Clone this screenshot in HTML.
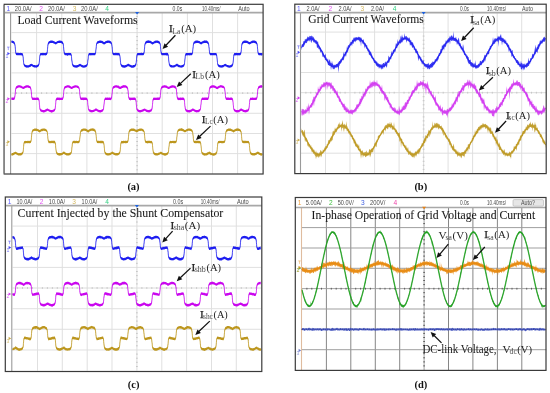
<!DOCTYPE html>
<html><head><meta charset="utf-8"><title>Waveforms</title>
<style>html,body{margin:0;padding:0;background:#fff;width:550px;height:393px;overflow:hidden}</style>
</head><body>
<svg width="550" height="393" viewBox="0 0 550 393" style="display:block">
<rect width="550" height="393" fill="#fff"/>
<line x1="36.6" y1="12.4" x2="36.6" y2="173.8" stroke="#dedede" stroke-width="0.95"/>
<line x1="61.8" y1="12.4" x2="61.8" y2="173.8" stroke="#dedede" stroke-width="0.95"/>
<line x1="86.9" y1="12.4" x2="86.9" y2="173.8" stroke="#dedede" stroke-width="0.95"/>
<line x1="112" y1="12.4" x2="112" y2="173.8" stroke="#dedede" stroke-width="0.95"/>
<line x1="162.2" y1="12.4" x2="162.2" y2="173.8" stroke="#dedede" stroke-width="0.95"/>
<line x1="187.4" y1="12.4" x2="187.4" y2="173.8" stroke="#dedede" stroke-width="0.95"/>
<line x1="212.5" y1="12.4" x2="212.5" y2="173.8" stroke="#dedede" stroke-width="0.95"/>
<line x1="237.6" y1="12.4" x2="237.6" y2="173.8" stroke="#dedede" stroke-width="0.95"/>
<line x1="11.5" y1="32.6" x2="262.8" y2="32.6" stroke="#dedede" stroke-width="0.95"/>
<line x1="11.5" y1="52.8" x2="262.8" y2="52.8" stroke="#dedede" stroke-width="0.95"/>
<line x1="11.5" y1="72.9" x2="262.8" y2="72.9" stroke="#dedede" stroke-width="0.95"/>
<line x1="11.5" y1="113.3" x2="262.8" y2="113.3" stroke="#dedede" stroke-width="0.95"/>
<line x1="11.5" y1="133.5" x2="262.8" y2="133.5" stroke="#dedede" stroke-width="0.95"/>
<line x1="11.5" y1="153.6" x2="262.8" y2="153.6" stroke="#dedede" stroke-width="0.95"/>
<line x1="137.1" y1="12.4" x2="137.1" y2="173.8" stroke="#d8d8d8" stroke-width="0.9"/>
<line x1="11.5" y1="93.1" x2="262.8" y2="93.1" stroke="#d8d8d8" stroke-width="0.9"/>
<path d="M16.5 92.2v1.8M21.6 92.2v1.8M26.6 92.2v1.8M31.6 92.2v1.8M41.6 92.2v1.8M46.7 92.2v1.8M51.7 92.2v1.8M56.7 92.2v1.8M66.8 92.2v1.8M71.8 92.2v1.8M76.8 92.2v1.8M81.8 92.2v1.8M91.9 92.2v1.8M96.9 92.2v1.8M102 92.2v1.8M107 92.2v1.8M117 92.2v1.8M122 92.2v1.8M127.1 92.2v1.8M132.1 92.2v1.8M142.2 92.2v1.8M147.2 92.2v1.8M152.2 92.2v1.8M157.2 92.2v1.8M167.3 92.2v1.8M172.3 92.2v1.8M177.3 92.2v1.8M182.3 92.2v1.8M192.4 92.2v1.8M197.4 92.2v1.8M202.4 92.2v1.8M207.5 92.2v1.8M217.5 92.2v1.8M222.6 92.2v1.8M227.6 92.2v1.8M232.6 92.2v1.8M242.7 92.2v1.8M247.7 92.2v1.8M252.7 92.2v1.8M257.7 92.2v1.8M136.2 16.4h1.8M136.2 20.5h1.8M136.2 24.5h1.8M136.2 28.5h1.8M136.2 36.6h1.8M136.2 40.6h1.8M136.2 44.7h1.8M136.2 48.7h1.8M136.2 56.8h1.8M136.2 60.8h1.8M136.2 64.9h1.8M136.2 68.9h1.8M136.2 77h1.8M136.2 81h1.8M136.2 85h1.8M136.2 89.1h1.8M136.2 97.1h1.8M136.2 101.2h1.8M136.2 105.2h1.8M136.2 109.2h1.8M136.2 117.3h1.8M136.2 121.3h1.8M136.2 125.4h1.8M136.2 129.4h1.8M136.2 137.5h1.8M136.2 141.5h1.8M136.2 145.6h1.8M136.2 149.6h1.8M136.2 157.7h1.8M136.2 161.7h1.8M136.2 165.7h1.8M136.2 169.8h1.8" stroke="#c4c4c4" stroke-width="0.9" fill="none"/>
<text x="17.4" y="24.4" fill="#1a1a1a" stroke="#1a1a1a" stroke-width="0.08" font-family="Liberation Serif, Times New Roman, serif" font-size="11.8" textLength="120.3" lengthAdjust="spacingAndGlyphs">Load Current Waveforms</text>
<path d="M11.5 40.6l.6 0 .6 .2 .6 .3 .6 .2 .1 0 .2 .4 .2 .1 .1 .3 .1 .3 .2 .6 .2 1 .1 1.3 .2 1.6 .1 1.2 .2 1.7 .1 1.3 .2 .8 .1 .3 .2 .4 .1 .1 .1 .2 .2 0 .1 0 .2 0 .1-.1 .6-.1 .6 .2 .6-.1 .6 .1 .6 .1 .7-.2 .6 .1 .6 0 .1 0 .2 0 .1 .1 .1 .2 .2 .1 .1 .4 .2 .4 .1 1.2 .2 1.5 .1 2 .2 1 .1 1.5 .2 1.2 .1 .8 .2 .4 .1 .3 .2 .1 .1 .2 .2 0 .1 .2 .2-.1 .6 .6 .6 .1 .6 .2 .6 0 .6 0 .6-.1 .6-.3 .6-.3 .6-.5 .6-.1 .6-.2 .6 .3 .6 .4 .6 .4 .6 0 .6 .1 .6 .3 .6 0 .6-.1 .6-.2 .6-.2 .6-.4 .2-.2 .1-.1 .1-.1 .2-.3 .1-.5 .2-.7 .1-1.1 .2-1.7 .1-1 .2-1.8 .1-1.6 .2-1.1 .1-.5 .2-.4 .1-.2 .2-.2 .1 .1 .2 0 .1 0 .2 0 .6-.1 .6 0 .6-.1 .6 .2 .6 0 .6 0 .6-.1 .6-.1 .6-.2 .1 .1 .2-.4 .1-.4 .2-.8 .1-1.2 .2-1.8 .1-1.2 .2-1.7 .1-1.2 .2-1.1 .1-.5 .2-.3 .1-.3 .2-.2 .1-.2 .2 0 .1-.1 .2-.2 .6-.2 .6-.5 .6 .1 .6-.1 .6 0 .6 .4 .6 .1 .6 .4 .6 .2 .6 .5 .6 .1 .6-.3 .6-.6 .6-.2 .6-.2 .6-.1 .6-.3 .6 .2 .6 .1 .6 .1 .6 .3 .6 .3 .1 .2 .2 .2 .1 .2 .2 .4 .1 .5 .2 1 .1 1.4 .2 1.6 .1 1.2 .2 1.5 .1 1.4 .2 .9 .1 .3 .2 .4 .2 .2 .1-.1 .2 .1 .1 .1 .2 0 .6 0 .6 .1 .6-.1 .6 .1 .6 0 .5-.2 .6 .2 .6-.1 .6 .2 .2 0 .1 0 .2 .4 .2 .8 .1 .9 .1 1.6 .2 2 .2 1 .1 1.3 .2 1.2 .1 .6 .2 .8 .1 .3 .2 0 .1 .2 .2 .3 .1 .1 .2-.2 .6 .5 .6 .3 .6 .1 .6 0 .6-.1 .6-.1 .6-.1 .6-.3 .6-.4 .6-.4 .6-.1 .5 .2 .6 .4 .6 .3 .6 .2 .6 .4 .6 .1 .6-.1 .6-.1 .6-.1 .6-.3 .6-.5 .2 0 .1-.2 .2-.3 .1-.1 .2-.6 .1-.6 .2-1.2 .1-1.5 .2-1.1 .2-1.8 .1-1.5 .2-1.2 .1-.5 .2-.6 .1 .1 .2-.1 .1-.1 .2 0 .1 0 .2-.1 .6 0 .6 .1 .6-.1 .6 0 .6 0 .6 0 .6 0 .6 0 .1-.2 .2 .2 .1 0 .2-.2 .1 0 .2-.2 .1-.6 .2-1 .1-1 .2-1.8 .1-1.1 .2-1.8 .1-1.2 .2-1 .1-.6 .2-.5 .1-.2 .2-.1 .1-.3 .2 .1 .1-.3 .2 .1 .6-.2 .6-.3 .6-.1 .6-.1 .6 .1 .6 .1 .6 .1 .6 .3 .6 .5 .6 .3 .6 .2 .6-.4 .6-.6 .6-.1 .6-.2 .6-.2 .6 0 .6 0 .6 0 .6 .2 .6 .3 .6 .4 .1 .1 .2 .2 .1 .1 .2 .5 .1 .6 .2 .8 .1 1.5 .2 1.5 .1 1.2 .2 1.9 .1 1.1 .2 1 .1 .5 .2 .2 .1 .1 .2 0 .1 0 .2 0 .1 .1 .6 .1 .6 0 .6-.2 .6 0 .6 .1 .6 0 .6-.1 .6 .2 .6-.1 .2 .2 .1 .2 .2 .4 .1 .5 .2 1.1 .1 1.5 .2 1.7 .1 1.3 .2 1.6 .1 1.1 .2 .6 .1 .5 .2 .4 .1 .2 .2 .2 .1 0 .2 .1 .1 .1 .6 .4 .6 0 .6 .3 .6 0 .6-.1 .6-.1 .6-.2 .6-.3 .6-.4 .6-.4 .6 0 .6 .2 .6 .4 .6 .4 .6 .3 .6 .1 .6 .1 .6 .1 .6-.4 .6 0 .6-.1 .6-.6 .2 .1 .1-.3 .2-.2 .1-.4 .2-.4 .1-.6 .2-1.2 .1-1.5 .2-1.2 .1-1.8 .2-1.5 .1-1.1 .2-.7 .1-.3 .2 0 .1-.1 .2-.1 .1-.1 .2 0 .1 0 .6 .1 .6-.1 .6 0 .6 0 .6-.1 .6 0 .6 .1 .6 0 .2 0 .1 0 .2-.1 .1 0 .2-.4 .1 .1 .2-.7 .1-.6 .2-1.4 .1-1.6 .2-1.3 .1-1.8 .2-1.3 .1-.8 .2-.8 .1-.2 .2-.4 .1 0 .2-.3 .1 .1 .2-.7 .1 .4 .6-.3 .6-.2 .6 0 .6-.3 .6 .3 .6 .2 .6 0 .6 .2 .6 .6 .6 .4 .6-.1 .6-.2 .6-.3 .6-.5 .6-.3 .6 .1 .6-.2 .6 .1 .6 0 .6 .2 .6 .3 .6 .2 .2 .3 .1 .2 .2 .2 .1 .3 .2 .6 .1 .9 .2 1.5 .1 1.6 .2 1.2 .1 1.7 .2 1.3 .1 .9 .2 .2 .1 .4 .2 0 .1 .2 .2 0 .1 .2 .2-.1 .6 0 .6 0 .6 .1 .6 0 .6-.1 .6-.2 .6 .1 .6 .2 .6-.2 .1 .2 .2 .2 .1 .4 .2 .7 .1 .8 .2 1.7 .1 2 .2 1 .1 1.6 .2 1.1 .1 .7 .2 .4 .1 .3 .2 .2 .1 .2 .2 .1 .1 .2 .2-.1 .6 .5 .6 .1 .6 .2 .6 .1 .6-.1 .6-.1 .6-.3 .6-.2 .6-.4 .6-.3 .6-.4 .6 .3 .6 .6 .6 .3 .6 .3 .6 .1 .6 .2 .6-.1 .6 0 .6-.2 .6-.3 .6-.4 .1-.2 .2-.1 .1-.1 .2-.4 .1-.4 .2-.8 .1-1 .2-1.7 .1-.9 .2-2.1 .1-1.4 .2-1.1 .1-.6 .2-.2 .1-.3 .2-.2 .1 .1 .2 0 .1-.1 .2 0 .6 0 .6 .1 .6-.1 .6 0 .6 .1 .6-.2 .6 .1 .6-.1 .1 .2 .2-.3 .1 .2 .2-.2 .1-.2 .2-.3 .1-.2 .2-.9 .1-1.2 .2-1.9 .1-1.1 .2-1.6 .1-1.4 .2-.9 .1-.9 .2-.3 .1 0 .2-.3 .1 0 .2-.1 .1-.1 .2-.1 .6-.5 .6-.1 .6 0 .6 0 .6 0 .6 .2 .6 .2 .6 .1 .6 .5 .6 .4 .6 0 .6-.5 .6-.2 .6-.4 .6-.1 .6-.2 .6-.3 .6 .3 .6 .1 .6-.4 .6 .8 .6 .4 .1 .1 .2 .1 .1 .3 .2 .4 .1 .5 .2 .8 .1 1.6 .2 1.7 .1 1.1 .2 1.8 .1 1.2 .2 .9 .1 .3 .2 .3 .1 .2 .2 .1 .1 .1 .2 0 .1-.1 .6 .1 .6-.1 .6 .1 .6 0 .6 0 .6-.1 .6 0 .6 .1 .6-.1 .2 .2 .1 .2 .2 .3 .1 .7 .2 .9 .1 1.6 .2 2 .1 1 .2 1.5 .1 1.1 .2 .8 .1 .4 .2 .4 .1 .2 .2 .1 .1 .1 .2 .2 .1 0 .6 .4 .6 .1 .6 .2 .6-.1 .6 .1 .6-.3 .6 0 .6-.3 .6-.4 .6-.4 .6-.1 .6 .4 .6 .3 .6 .4 .6 .2 .6 .2 .6 0 .6 .1 .6-.2 .6-.1 .6-.5 .6-.1 .2-.3 .1-.2 .2 0 .1-.5 .2-.3 .1-.7 .2-1.2 .1-1.6 .2-1 .1-1.8 .2-1.6 .1-1 .2-.6 .1-.5 .2 0 .1-.5 .2 .2 .1-.1 .2 .2 .1 0 .6 0 .6-.2 .6 .1 .6 0 .6 .1 .6-.1 .6 0 .6 0 .2 0 .1 0 .2-.1 .1-.3 .2 0 .1-.2 .2-.3 .1-.9 .2-1.2 .1-2 .2-1 .1-1.7 .2-1.3 .1-1 .2-.6 .1-.4 .2-.2 .1-.2 .2-.1 .1 0 .2-.2 .1 0 .6-.5 .6-.1 .6-.1 .6 0 .6 .1 .6 .1 .6 .1 .6 .5 .6 .2 .6 .5 .6-.1 .6-.2 .6-.3 .6-.4 .6-.3 .6-.3 .6 .1 .6 0 .6 .1 .6 .1 .6 .3 .6 .5 .2 .1 .1 .2 .2 0 .1 .6 .2 .5 .1 1 .2 1.2 .1 1.9 .2 1.1 .1 1.7 .2 1.3 .1 .8 .2 .5 .1 .3 .2 .1 .1 .1 .1-.2 .2 .2 .1 0 .2 0 .6 .1 .6-.1 .6 0 .6 0 .6-.1 0 2.6-.6 0-.6 0-.6-.1-.6-.1-.6 .1-.2 .1-.1-.1-.2 0-.1-.1-.1-.1-.2-.1-.1-.3-.2-.4-.1-.8-.2-1.3-.1-1.8-.2-1.1-.1-1.7-.2-1.3-.1-1-.2-.6-.1-.2-.2-.4-.1-.2-.2 0-.6-.4-.6-.2-.6-.2-.6-.2-.6-.1-.6 .1-.6 .3-.6 .1-.6 .4-.6 .4-.6 .3-.6-.1-.6-.4-.6-.4-.6-.2-.6-.3-.6 0-.6 0-.6-.1-.6 .1-.6 .3-.6 .3-.1 0-.2 .1-.1 .1-.2 .8-.1-.4-.2 .5-.1 0-.2 .6-.1 1.3-.2 1-.1 1.7-.2 1.1-.1 1.8-.2 1.3-.1 .7-.2 .6-.1 .2-.2 .1-.1 .1-.2 0-.1 .1-.2 .1-.6-.2-.6 .1-.6 .1-.6-.1-.6-.1-.6 0-.6 .2-.6-.2-.1 .1-.2-.1-.1 .2-.2 0-.1 .3-.2-.1-.1 .5-.2 .5-.1 1.1-.2 1.5-.1 1.9-.2 1.1-.1 1.5-.2 1-.1 1-.2 .5-.1 .1-.2 .2-.1 .3-.2 0-.6 .4-.6 .3-.6 0-.6 .3-.6-.1-.6-.1-.6-.1-.6-.4-.6-.3-.6-.4-.6-.2-.6 .1-.6 .3-.6 .5-.6 .3-.6 .1-.6 .1-.6 .1-.6-.1-.6-.2-.6-.2-.6-.1-.1-.2-.2-.1-.1-.2-.2-.1-.1-.2-.2-.2-.1-.4-.2-.9-.1-1.2-.2-1.5-.1-1-.2-2-.1-1.3-.2-1.1-.1-.7-.2 0-.1-.3-.2-.4-.6 0-.6-.1-.6 0-.6 0-.6 .1-.6-.1-.6 0-.6 .1-.6-.1-.1 0-.2 0-.1 0-.2 0-.1-.2-.2-.2-.1-.5-.2-.8-.1-1.4-.2-1.6-.1-1.2-.2-1.7-.1-1.3-.2-.9-.1-.6-.2-.3-.1-.3-.2-.3-.1 0-.6-.3-.6-.5-.6-.1-.6-.1-.6 0-.6 .1-.6 .1-.6 .4-.6 .1-.6 .5-.6 .4-.6-.2-.6-.4-.6-.3-.6-.3-.6-.2-.6-.2-.6 0-.6 .1-.6 .2-.6 .1-.6 .3-.2 0-.1 .2-.2 .1-.1 .1-.2 .1-.1 .3-.2 .3-.1 .6-.2 .9-.1 1.4-.2 1.7-.1 1.2-.2 1.7-.1 1.4-.2 .8-.1 .4-.2 .2-.1 .1-.2 .2-.1 0-.2 0-.1-.1-.6 0-.6 0-.6 .2-.6-.1-.6 0-.6 0-.6 .2-.6 0-.2-.1-.1-.1-.2 .1-.1 0-.2 .2-.1 .2-.2 .2-.1 .6-.2 1-.1 1.6-.2 1.9-.1 1-.2 1.6-.1 1.2-.2 .7-.1 .5-.2 .3-.1 .1-.2 .2-.1 0-.6 .4-.6 .3-.6 .1-.6 .2-.6-.1-.6-.1-.6-.2-.6-.1-.6-.3-.6-.5-.6-.2-.6 .1-.6 .3-.6 .5-.6 .1-.6 .3-.6 .1-.6 0-.6 0-.6-.1-.6 0-.6-.6-.2 0-.1 0-.2-.3-.1-.1-.2-.2-.1-.2-.2-.5-.1-.8-.2-1.2-.1-1.3-.2-1.2-.1-1.9-.2-1.6-.1-1-.2-.6-.1-.4-.2-.1-.1-.1-.6 .1-.6-.1-.6-.1-.6 0-.6 0-.6 0-.6-.1-.6 .1-.6 0-.2 0-.1 0-.2-.1-.1 0-.2-.1-.1-.3-.2-.5-.1-.8-.2-1.4-.1-1.5-.2-1.2-.1-1.9-.2-1.2-.1-1-.2-.6-.1-.3-.2-.3-.1-.1-.2-.2-.6-.4-.6-.1-.6-.2-.6-.2-.6-.1-.6 .1-.6 .3-.6 .1-.6 .5-.6 .2-.6 .4-.6 0-.6-.5-.6-.3-.6-.3-.6-.2-.6-.1-.6-.1-.6 0-.6 .1-.6 .3-.6 .2-.1 .1-.2 .1-.1 .1-.2 .2-.1 .2-.2 .1-.1 .5-.2 .5-.1 1-.2 1.3-.1 2-.2 .9-.1 1.7-.2 1.4-.1 .6-.2 .6-.1 .3-.2 0-.1 .1-.2 0-.1 .1-.2 0-.6 0-.6-.1-.6 .1-.6-.1-.6 .1-.6-.1-.6 0-.6 .1-.1 0-.2 0-.1 0-.2 .1-.1 .2-.2 .1-.1 .3-.2 .6-.1 1.1-.2 1.4-.1 2.1-.2 .9-.1 1.5-.2 1.2-.1 .8-.2 .4-.1 .3-.2 .2-.1 .3-.2-.1-.6 .5-.6 .3-.6 .3-.6-.1-.6 0-.6 0-.6-.3-.6-.3-.6-.3-.6-.4-.6-.2-.6 .1-.6 .3-.6 .4-.6 .2-.6 .3-.6 .2-.6 .1-.6-.1-.6-.1-.6-.2-.6-.5-.1 .1-.2-.3-.1 .1-.2-.3-.1-.1-.2-.3-.1-.6-.2-.6-.1-1.2-.2-1.6-.1-1-.2-1.9-.1-1.6-.2-1-.1-.5-.2-.4-.1-.3-.2 0-.6-.1-.6 .1-.6-.1-.6-.1-.6 .1-.6 0-.6-.1-.6 0-.6 0-.1 .1-.2-.1-.1-.1-.2 .1-.1-.3-.2 0-.1-.4-.2-.8-.1-1.5-.2-1.8-.1-1-.2-1.8-.1-1.3-.2-1-.1-.5-.2-.5-.1-.3-.2 0-.1 0-.6-.5-.6-.3-.6-.1-.6-.3-.6 .1-.6 .1-.6 .1-.6 .2-.6 .5-.6 .2-.6 .4-.6 .1-.6-.6-.6-.1-.6-.5-.6-.2-.6-.2-.6 .1-.6-.1-.6 .1-.6 .5-.6 .1-.2 .2-.1-.1-.2 .1-.1 .1-.2 .3-.1 .2-.2 .3-.1 .8-.2 .7-.1 1.4-.2 1.9-.1 1-.2 1.7-.1 1.2-.2 .8-.1 .5-.2 .3-.1 .2-.2 0-.1 0-.2 .1-.1-.1-.6 .1-.6 0-.6-.1-.6 .1-.6 0-.6 .1-.6-.1-.6-.1-.2 0-.1 .3-.2-.2-.1 .2-.2 .1-.1 0-.2 .5-.1 .5-.2 1.1-.1 1.5-.2 1.9-.2 1-.1 1.6-.2 1.1-.1 .7-.2 .5-.1 .3-.2 .2-.1 .2-.2 .1-.6 .3-.6 .5-.6-.1-.6 .2-.6 0-.6-.1-.6-.2-.6-.1-.6-.5-.6-.4-.5-.4-.6 .4-.6 .3-.6 .4-.6 .3-.6 .1-.6 .2-.6 0-.6-.1-.6-.2-.6-.1-.6-.4-.2-.1-.1-.1-.2 0-.1-.3-.2-.1-.1-.2-.2-.6-.1-.8-.2-.9-.1-1.7-.2-1-.2-1.9-.1-1.6-.1-1-.2-.6-.2-.3-.1-.1-.2-.2-.6-.1-.6 0-.6 0-.5 0-.6 .1-.6 .5-.6-.6-.6-.1-.6 .1-.2 0-.1 0-.2-.1-.1-.1-.2-.2-.2-.2-.1-.4-.2-.8-.1-1.4-.2-1.7-.1-.9-.2-1.8-.1-1-.2-1.4-.1-.6-.2-.4-.1-.2-.2-.2-.1 0-.6-.5-.6-.2-.6-.3-.6 0-.6 0-.6 0-.6 .2-.6 .2-.6 .3-.6 .5-.6 .3-.6-.1-.6-.4-.6-.3-.6-.1-.6-.4-.6-.2-.6 0-.6 0-.6 .1-.6 .3-.6 .3-.2 .2-.1-.1-.2 .2-.1 0-.2 .3-.1 .2-.2 .4-.1 .6-.2 .9-.1 1.3-.2 1.7-.1 1.2-.2 1.7-.1 1.2-.2 .9-.1 .5-.2 .3-.1 0-.6 .1-.6 .2-.6-.1-.6-.1-.6 .1-.6 .1-.6-.2-.6 .1-.6 0-.2 0-.1 0-.2 0-.1 .1-.2 .2-.1 0-.2 .4-.1 .7-.2 1-.1 1.5-.2 2-.1 .9-.2 1.7-.1 1-.2 .9-.1 .3-.2 .3-.1 .1-.1 .2-.2 .1-.6 .4-.6 .3-.6 .3-.6-.1-.6 0-.6-.1-.6-.1-.6-.3-.6-.3-.6-.3-.6-.5-.6 .3-.6 .7-.6-.1-.6 .3-.6 .2-.6 .4-.6-.2-.6 .1-.6-.1-.6-.3-.6-.4-.2-.1-.1 0-.2-.2-.1-.1-.2-.2-.1-.2-.2-.5-.1-.8-.2-1.2-.1-1.4-.2-1.1-.1-1.8-.2-1.6-.1-1.1-.2-.6-.1-.3-.2-.2-.1-.1-.1 0-.2-.2-.1 0-.6 .2-.6-.1-.7-.1-.6 0-.6 .1-.6-.1-.6 .1-.6-.1-.1 .1-.2-.1-.1 .1-.2-.2-.1 0-.1-.1-.2-.3-.1-.3-.2-.9-.1-1.3-.2-1.8-.1-1.2-.2-1.6-.1-1.3-.2-1-.2-.6-.1-.3-.1-.3-.2-.2-.2-.1-.1-.1-.6-.3-.6-.3-.6-.1-.6-.2z" fill="#1818f0" opacity="0.95"/>
<path d="M11.5 41.7l.6 .1 .6 .2 .6 .2 .6 .3 .1 .1 .2 .2 .2 .1 .1 .3 .1 .4 .2 .5 .2 1 .1 1.3 .2 1.7 .1 1.2 .2 1.7 .1 1.3 .2 .8 .1 .5 .2 .2 .1 .2 .1 0 .2 .1 .1 0 .2 0 .1 0 .6 0 .6 0 .6 0 .6 0 .6 0 .7 0 .6 0 .6 0 .1 0 .2 .1 .1 0 .1 .1 .2 .2 .1 .3 .2 .6 .1 1.1 .2 1.5 .1 2 .2 1 .1 1.5 .2 1.1 .1 .8 .2 .4 .1 .3 .2 .2 .1 .2 .2 .1 .1 .1 .2 .1 .6 .3 .6 .2 .6 .2 .6 0 .6 0 .6-.2 .6-.2 .6-.3 .6-.3 .6-.4 .6-.2 .6 .4 .6 .4 .6 .3 .6 .2 .6 .2 .6 .1 .6 0 .6-.1 .6-.2 .6-.2 .6-.4 .2-.1 .1-.2 .1-.2 .2-.3 .1-.4 .2-.8 .1-1.1 .2-1.5 .1-1 .2-2 .1-1.5 .2-1.1 .1-.6 .2-.3 .1-.2 .2-.1 .1 0 .2-.1 .1 0 .2 0 .6 0 .6 0 .6 0 .6 0 .6 0 .6 0 .6 0 .6 0 .6-.1 .1-.2 .2-.2 .1-.5 .2-.8 .1-1.3 .2-1.7 .1-1.2 .2-1.7 .1-1.3 .2-1 .1-.5 .2-.4 .1-.3 .2-.1 .1-.2 .2-.1 .1-.1 .2 0 .6-.3 .6-.2 .6-.2 .6 0 .6 .1 .6 .1 .6 .2 .6 .3 .6 .4 .6 .4 .6 .1 .6-.4 .6-.4 .6-.3 .6-.2 .6-.2 .6-.1 .6 0 .6 .1 .6 .2 .6 .3 .6 .3 .1 .2 .2 .1 .1 .3 .2 .4 .1 .5 .2 1 .1 1.3 .2 1.7 .1 1.2 .2 1.7 .1 1.3 .2 .8 .1 .5 .2 .2 .2 .2 .1 0 .2 .1 .1 0 .2 0 .6 0 .6 0 .6 0 .6 0 .6 0 .5 0 .6 0 .6 0 .6 .1 .2 .1 .1 .2 .2 .3 .2 .6 .1 1.1 .1 1.5 .2 2 .2 1 .1 1.5 .2 1.1 .1 .8 .2 .4 .1 .3 .2 .2 .1 .2 .2 .1 .1 .1 .2 .1 .6 .3 .6 .2 .6 .2 .6 0 .6 0 .6-.2 .6-.2 .6-.3 .6-.3 .6-.4 .6-.2 .5 .4 .6 .4 .6 .3 .6 .2 .6 .2 .6 .1 .6 0 .6-.1 .6-.2 .6-.2 .6-.4 .2-.1 .1-.2 .2-.2 .1-.3 .2-.4 .1-.8 .2-1.1 .1-1.5 .2-1 .2-2 .1-1.5 .2-1.1 .1-.6 .2-.3 .1-.2 .2-.1 .1 0 .2-.1 .1 0 .2 0 .6 0 .6 0 .6 0 .6 0 .6 0 .6 0 .6 0 .6 0 .1 0 .2 0 .1-.1 .2 0 .1-.2 .2-.2 .1-.5 .2-.8 .1-1.3 .2-1.7 .1-1.2 .2-1.7 .1-1.3 .2-1 .1-.5 .2-.4 .1-.3 .2-.1 .1-.2 .2-.1 .1-.1 .2 0 .6-.3 .6-.2 .6-.2 .6 0 .6 .1 .6 .1 .6 .2 .6 .3 .6 .4 .6 .4 .6 .1 .6-.4 .6-.4 .6-.3 .6-.2 .6-.2 .6-.1 .6 0 .6 .1 .6 .2 .6 .3 .6 .3 .1 .2 .2 .1 .1 .3 .2 .4 .1 .5 .2 1 .1 1.3 .2 1.7 .1 1.2 .2 1.7 .1 1.3 .2 .8 .1 .5 .2 .2 .1 .2 .2 0 .1 .1 .2 0 .1 0 .6 0 .6 0 .6 0 .6 0 .6 0 .6 0 .6 0 .6 0 .6 .1 .2 .1 .1 .2 .2 .3 .1 .6 .2 1.1 .1 1.5 .2 2 .1 1 .2 1.5 .1 1.1 .2 .8 .1 .4 .2 .3 .1 .2 .2 .2 .1 .1 .2 .1 .1 .1 .6 .3 .6 .2 .6 .2 .6 0 .6 0 .6-.2 .6-.2 .6-.3 .6-.3 .6-.4 .6-.2 .6 .4 .6 .4 .6 .3 .6 .2 .6 .2 .6 .1 .6 0 .6-.1 .6-.2 .6-.2 .6-.4 .2-.1 .1-.2 .2-.2 .1-.3 .2-.4 .1-.8 .2-1.1 .1-1.5 .2-1 .1-2 .2-1.5 .1-1.1 .2-.6 .1-.3 .2-.2 .1-.1 .2 0 .1-.1 .2 0 .1 0 .6 0 .6 0 .6 0 .6 0 .6 0 .6 0 .6 0 .6 0 .2 0 .1 0 .2-.1 .1 0 .2-.2 .1-.2 .2-.5 .1-.8 .2-1.3 .1-1.7 .2-1.2 .1-1.7 .2-1.3 .1-1 .2-.5 .1-.4 .2-.3 .1-.1 .2-.2 .1-.1 .2-.1 .1 0 .6-.3 .6-.2 .6-.2 .6 0 .6 .1 .6 .1 .6 .2 .6 .3 .6 .4 .6 .4 .6 .1 .6-.4 .6-.4 .6-.3 .6-.2 .6-.2 .6-.1 .6 0 .6 .1 .6 .2 .6 .3 .6 .3 .2 .2 .1 .1 .2 .3 .1 .4 .2 .5 .1 1 .2 1.3 .1 1.7 .2 1.2 .1 1.7 .2 1.3 .1 .8 .2 .5 .1 .2 .2 .2 .1 0 .2 .1 .1 0 .2 0 .6 0 .6 0 .6 0 .6 0 .6 0 .6 0 .6 0 .6 0 .6 .1 .1 .1 .2 .2 .1 .3 .2 .6 .1 1.1 .2 1.5 .1 2 .2 1 .1 1.5 .2 1.1 .1 .8 .2 .4 .1 .3 .2 .2 .1 .2 .2 .1 .1 .1 .2 .1 .6 .3 .6 .2 .6 .2 .6 0 .6 0 .6-.2 .6-.2 .6-.3 .6-.3 .6-.4 .6-.2 .6 .4 .6 .4 .6 .3 .6 .2 .6 .2 .6 .1 .6 0 .6-.1 .6-.2 .6-.2 .6-.4 .1-.1 .2-.2 .1-.2 .2-.3 .1-.4 .2-.8 .1-1.1 .2-1.5 .1-1 .2-2 .1-1.5 .2-1.1 .1-.6 .2-.3 .1-.2 .2-.1 .1 0 .2-.1 .1 0 .2 0 .6 0 .6 0 .6 0 .6 0 .6 0 .6 0 .6 0 .6 0 .1 0 .2 0 .1-.1 .2 0 .1-.2 .2-.2 .1-.5 .2-.8 .1-1.3 .2-1.7 .1-1.2 .2-1.7 .1-1.3 .2-1 .1-.5 .2-.4 .1-.3 .2-.1 .1-.2 .2-.1 .1-.1 .2 0 .6-.3 .6-.2 .6-.2 .6 0 .6 .1 .6 .1 .6 .2 .6 .3 .6 .4 .6 .4 .6 .1 .6-.4 .6-.4 .6-.3 .6-.2 .6-.2 .6-.1 .6 0 .6 .1 .6 .2 .6 .3 .6 .3 .1 .2 .2 .1 .1 .3 .2 .4 .1 .5 .2 1 .1 1.3 .2 1.7 .1 1.2 .2 1.7 .1 1.3 .2 .8 .1 .5 .2 .2 .1 .2 .2 0 .1 .1 .2 0 .1 0 .6 0 .6 0 .6 0 .6 0 .6 0 .6 0 .6 0 .6 0 .6 .1 .2 .1 .1 .2 .2 .3 .1 .6 .2 1.1 .1 1.5 .2 2 .1 1 .2 1.5 .1 1.1 .2 .8 .1 .4 .2 .3 .1 .2 .2 .2 .1 .1 .2 .1 .1 .1 .6 .3 .6 .2 .6 .2 .6 0 .6 0 .6-.2 .6-.2 .6-.3 .6-.3 .6-.4 .6-.2 .6 .4 .6 .4 .6 .3 .6 .2 .6 .2 .6 .1 .6 0 .6-.1 .6-.2 .6-.2 .6-.4 .2-.1 .1-.2 .2-.2 .1-.3 .2-.4 .1-.8 .2-1.1 .1-1.5 .2-1 .1-2 .2-1.5 .1-1.1 .2-.6 .1-.3 .2-.2 .1-.1 .2 0 .1-.1 .2 0 .1 0 .6 0 .6 0 .6 0 .6 0 .6 0 .6 0 .6 0 .6 0 .2 0 .1 0 .2-.1 .1 0 .2-.2 .1-.2 .2-.5 .1-.8 .2-1.3 .1-1.7 .2-1.2 .1-1.7 .2-1.3 .1-1 .2-.5 .1-.4 .2-.3 .1-.1 .2-.2 .1-.1 .2-.1 .1 0 .6-.3 .6-.2 .6-.2 .6 0 .6 .1 .6 .1 .6 .2 .6 .3 .6 .4 .6 .4 .6 .1 .6-.4 .6-.4 .6-.3 .6-.2 .6-.2 .6-.1 .6 0 .6 .1 .6 .2 .6 .3 .6 .3 .2 .2 .1 .1 .2 .3 .1 .4 .2 .5 .1 1 .2 1.3 .1 1.7 .2 1.2 .1 1.7 .2 1.3 .1 .8 .2 .5 .1 .2 .2 .2 .1 0 .1 .1 .2 0 .1 0 .2 0 .6 0 .6 0 .6 0 .6 0 .6 0" fill="none" stroke="#1818f0" stroke-width="0.75" stroke-linejoin="round" stroke-linecap="round" opacity="0.95" />
<path d="M11.5 97.3l.6 .3 .6-.2 .6 .2 .6 0 .1-.1 .2 0 .2-.1 .1-.3 .1-.6 .2-.8 .2-1.1 .1-1.8 .2-1.1 .1-1.7 .2-1.3 .1-1 .2-.7 .1-.3 .2-.2 .1-.3 .1 0 .2-.3 .1 .1 .2-.1 .6-.3 .6-.3 .6 0 .6-.1 .6 0 .6 .3 .6-.1 .6 .6 .6 .4 .6 .2 .6 .2 .6-.5 .6-.4 .6-.1 .6-.5 .6-.1 .6 0 .6 0 .6 .1 .6 .2 .6 .4 .6 .1 .2 .3 .1 .2 .2 .3 .1 .3 .2 .5 .1 .9 .2 1.4 .1 1.8 .2 .9 .1 1.9 .2 1.4 .1 .8 .2 .4 .1 .3 .2 0 .1 .2 .2 0 .1 0 .2 0 .6 .1 .6-.1 .6 .1 .6 0 .6 0 .6-.1 .6 0 .6 0 .6 .2 .1 0 .2 0 .1 .5 .2 .7 .1 1 .2 1.6 .1 1.9 .2 .9 .1 1.6 .1 1.2 .2 .6 .2 .4 .1 .5 .1 .1 .2 .3 .1 0 .2 .2 .1-.1 .6 .3 .6 .3 .6 .2 .6 0 .6 0 .6-.1 .6-.4 .6-.3 .6-.1 .7-.5 .6-.2 .6 .5 .6 .3 .6 .3 .6 .3 .6 .2 .6 .1 .6-.1 .6 0 .6-.4 .6-.2 .6-.3 .1-.2 .2 0 .1-.2 .2-.3 .1-.6 .2-.6 .1-1.1 .2-1.6 .1-.9 .2-2.1 .1-1.7 .1-1 .2-.4 .2-.5 .1-.1 .1 0 .2-.1 .2-.2 .1-.1 .1 .2 .6-.1 .6-.1 .6 .3 .6-.2 .6 .2 .6 0 .6 0 .6-.2 .6 0 .2-.1 .2-.3 .1-.4 .1-.9 .2-1.2 .2-1.8 .1-1.1 .1-1.8 .2-1.3 .1-.9 .2-.6 .1-.6 .2 0 .2-.2 .1-.1 .2-.2 .1-.1 .2 0 .6-.2 .6-.3 .6-.1 .6-.1 .6 0 .6 .1 .6 .3 .5 .4 .6 .3 .6 .4 .6 .1 .6-.6 .6-.2 .6-.3 .6-.2 .6-.2 .6-.1 .6 .1 .6 .1 .6 .1 .6 .2 .6 .5 .2 0 .1 .3 .2 .2 .1 .4 .2 .5 .1 .8 .2 1.5 .1 1.8 .2 .9 .1 1.8 .2 1.3 .1 .9 .2 .5 .1 .3 .2-.2 .2 .3 .1 .1 .2 0 .1 .1 .6-.1 .6 0 .6 0 .6-.1 .6 .1 .6 0 .6 0 .6 .1 .6 0 .1 .1 .2 .3 .1 .2 .2 .7 .2 1 .1 1.5 .2 1.8 .1 1.2 .2 1.6 .1 1 .2 .9 .1 .4 .2 .3 .1 .2 .2 0 .1 .2 .2 .2 .1 .1 .6 .1 .6 .2 .6 .3 .6 0 .6-.1 .6 0 .6-.5 .6 0 .6-.4 .6-.4 .6-.3 .6 .5 .6 .3 .6 .5 .6 .2 .6 .1 .6 .1 .6 0 .6-.1 .6-.1 .6-.5 .6-.1 .1-.3 .2 0 .1-.3 .2-.2 .1-.6 .2-.7 .1-1.2 .2-1.4 .1-1.1 .2-2 .2-1.5 .1-.9 .2-.6 .1-.4 .2-.2 .1-.1 .2-.1 .1 0 .2-.1 .1 .1 .6 .1 .6-.1 .6 0 .6-.1 .6 .2 .6-.1 .6 0 .6 .1 .2 0 .1-.2 .2 .1 .1-.1 .2-.2 .1-.2 .2-.4 .1-.8 .2-1.3 .1-1.8 .2-1.1 .1-1.9 .2-1.1 .1-1 .2-.8 .1-.1 .2-.3 .1-.4 .2 .1 .1-.2 .2 0 .1-.1 .6-.4 .6-.1 .6-.2 .6 0 .6 .1 .6 .2 .6 .1 .6 0 .6 .7 .6 .3 .6 .2 .6-.6 .6-.1 .6-.6 .6 0 .6-.4 .6 .2 .6 0 .6-.2 .6 .4 .6 .3 .6 .3 .2 .1 .1 .2 .2 .4 .1 .2 .2 .6 .1 1 .2 1.3 .1 1.6 .2 1.3 .1 1.8 .2 1.3 .1 .7 .2 .4 .1 .2 .2 .3 .1-.1 .2 .2 .1 .1 .2-.4 .6 .4 .6-.2 .6 .2 .6-.2 .6 .2 .6-.1 .6 0 .6 0 .6 .1 .1 .1 .2 .2 .1 .4 .2 .6 .1 .9 .2 1.7 .1 1.9 .2 .9 .1 1.6 .2 1.2 .1 .7 .2 .4 .1 .4 .2 .1 .1 .1 .2 .3 .1 0 .2 .2 .6 .2 .6 .3 .6 0 .6 .1 .6-.1 .6-.1 .6-.3 .6-.2 .6-.3 .6-.3 .6-.2 .6 .2 .6 .5 .6 .2 .6 .2 .6 .3 .6 .1 .6-.1 .6 0 .6-.3 .6-.1 .6-.3 .1-.4 .2 0 .1-.1 .2-.3 .1-.6 .2-.6 .1-1.3 .2-1.4 .1-1 .2-2.1 .1-1.3 .2-1.3 .1-.5 .2-.3 .1-.1 .2-.4 .1 .1 .2-.1 .1 0 .2 .1 .6 .1 .6 0 .6-.1 .6 .1 .6-.1 .6 0 .6 0 .6 0 .1-.1 .2 .1 .1-.2 .2 .1 .1-.1 .2-.3 .1-.4 .2-.8 .1-1.4 .2-1.7 .1-1.1 .2-1.7 .1-1.4 .2-.9 .1-.8 .2-.2 .1-.3 .2 0 .1-.3 .2 0 .1-.2 .2-.1 .6-.2 .6-.2 .6-.1 .6-.1 .6 0 .6 .2 .6 .2 .6 .4 .6 .4 .6 .3 .6 .1 .6-.4 .6-.3 .6-.4 .6-.3 .6-.1 .6-.1 .6 0 .6 .2 .6 0 .6 .3 .6 .4 .1 .2 .2 .2 .1 .3 .2 .3 .1 .5 .2 1.1 .1 1.3 .2 1.6 .1 1.3 .2 1.6 .1 1.3 .2 .8 .1 .4 .2 .3 .1 0 .2 .3 .1-.1 .2 .1 .1 0 .6 .1 .6 0 .6-.1 .6-.1 .6 .2 .6-.3 .6 .2 .6 0 .6 .2 .2 0 .1 .3 .2 0 .1 .5 .2 1.4 .1 1.4 .2 2 .1 1.1 .2 1.5 .1 1.2 .2 .6 .1 .6 .2 .3 .1 .1 .2 .2 .1 0 .2 .3 .1 .1 .6 .2 .6 .3 .6 0 .6 .2 .6-.1 .6-.2 .6-.1 .6-.3 .6-.4 .6-.4 .6-.1 .6 .2 .6 .3 .6 .4 .6 .3 .6 .2 .6 .2 .6-.1 .6-.1 .6-.1 .6-.3 .6-.4 .2 0 .1-.2 .2-.2 .1-.3 .2-.6 .1-.6 .2-1.1 .1-1.7 .2-1 .1-1.9 .2-1.5 .1-1.1 .2-.6 .1-.3 .2-.1 .1-.1 .2-.1 .1-.2 .2 0 .1 .1 .6 0 .6 .1 .6-.3 .6 .2 .6 0 .6-.1 .6 .1 .6-.1 .2 .2 .1-.3 .2 .1 .1 0 .2-.3 .1-.1 .2-.5 .1-.9 .2-1.1 .1-1.8 .2-1.3 .1-1.6 .2-1.3 .1-1 .2-.6 .1-.4 .2-.1 .1-.2 .2-.2 .1-.1 .2-.2 .1 .1 .6-.3 .6-.3 .6 0 .6-.1 .6 .1 .6 .1 .6 .2 .6 .4 .6 .3 .6 .4 .6 .1 .6-.4 .6-.5 .6-.1 .6-.4 .6-.2 .6-.1 .6 .1 .6 .2 .6 .2 .6 .2 .6 .4 .2 .2 .1 .1 .2 .2 .1 .2 .2 .8 .1 .8 .2 1.5 .1 1.7 .2 1 .1 1.7 .2 1.5 .1 .5 .2 .6 .1 .4 .2 .1 .1 .1 .2 0 .1 0 .2 0 .6 0 .6 0 .6-.1 .6 .2 .6 0 .6-.1 .6 0 .6 0 .6 .1 .1 .2 .2 0 .1 .4 .2 .5 .1 1.2 .2 1.5 .1 2 .2 1 .1 1.4 .2 1.2 .1 .8 .2 .5 .1 .3 .2 .2 .1 .2 .2 0 .1 .1 .2 .1 .6 .4 .6 .2 .6 0 .6 .1 .6 0 .6-.1 .6-.2 .6-.5 .6-.1 .6-.8 .6 .2 .6 .4 .6 .3 .6 .3 .6 .2 .6 .3 .6 0 .6 0 .6-.5 .6 .3 .6-.3 .6-.5 .1-.1 .2-.1 .1-.2 .2-.2 .1-.6 .2-.6 .1-1.1 .2-1.6 .1-1.1 .2-1.9 .1-1.6 .2-.9 .1-.7 .2-.3 .1-.3 .2 0 .1 0 .2-.1 .1-.2 .2 .3 .6 0 .6-.1 .6 0 .6 .1 .6 0 .6 0 .6-.1 .6 .1 .1 0 .2-.1 .1-.2 .2 0 .1-.1 .2-.1 .1-.7 .2-.7 .1-1.2 .2-1.8 .1-1.1 .2-1.9 .1-1.3 .2-.8 .1-.6 .1-.4 .2-.3 .1-.1 .2-.1 .1-.2 .2 0 .1-.1 .6-.3 .6-.2 .6-.3 .6 .1 .6-.1 0 2.6-.6 0-.6 .1-.6-.1-.6 .2-.6 .3-.1 .1-.2 .2-.1 0-.2 .2-.1 .1-.2 .2-.1 .6-.1 .6-.2 .7-.1 1.4-.2 1.6-.1 1.3-.2 1.7-.1 1.3-.2 .7-.1 .5-.2 .3-.1 .3-.2-.1-.1 0-.2 0-.1 .1-.6 .1-.6 0-.6-.1-.6-.1-.6 .1-.6 .1-.6 0-.6-.2-.2 0-.1 .1-.2 .1-.1 0-.2 0-.1 .2-.2 .5-.1 .7-.2 .8-.1 1.5-.2 2-.1 1-.2 1.6-.1 1-.2 1-.1 .4-.2 .1-.1 .3-.2 .2-.1 .2-.6 .2-.6 .3-.6 .1-.6 .3-.6-.2-.6 0-.6-.2-.6-.1-.6-.4-.6-.4-.6-.5-.6 .2-.6 .4-.6 .5-.6 .4-.6 0-.6 .3-.6-.2-.6 .2-.6-.3-.6-.3-.6-.3-.2 0-.1-.1-.2 0-.1-.3-.2-.2-.1-.3-.2-.5-.1-.7-.2-1.2-.1-1.4-.2-1.1-.1-1.9-.2-1.6-.1-.9-.2-.6-.1-.3-.2-.4-.1 0-.6-.1-.6 .1-.6 0-.6 0-.6-.1-.6-.1-.6 0-.6 .2-.6-.1-.2 0-.1 0-.2-.1-.1-.1-.2-.1-.1-.3-.2-.3-.1-.9-.2-1.2-.1-1.8-.2-1.1-.1-1.7-.2-1.4-.1-.9-.2-.6-.1-.3-.2-.2-.1-.4-.2 0-.6-.5-.6 0-.6-.4-.6-.2-.6 .1-.6 0-.6 .2-.6 .3-.6 .3-.6 .4-.6 .5-.6-.2-.6-.3-.6-.5-.6-.3-.6-.3-.6 .1-.6-.2-.6 .1-.6 0-.6 .2-.6 .3-.1 .1-.2 .1-.1 .1-.2 .2-.1 .1-.2 .3-.1 .4-.2 .5-.1 .9-.2 1.3-.1 1.9-.2 1.1-.1 1.6-.2 1.3-.1 1-.2 .4-.1 .2-.2 .2-.1 0-.2 .1-.1-.1-.2 0-.6 0-.6 .1-.6 0-.6 .1-.6-.1-.6 0-.6-.1-.6 0-.1 0-.2 .2-.1-.1-.2 .1-.1 0-.2 .2-.1 .3-.2 .8-.1 1-.2 1.7-.1 1.8-.2 1-.1 1.6-.2 1-.1 .7-.2 .5-.1 .3-.2 .2-.1 .1-.2 .2-.6 .4-.6 .3-.6 .1-.6 0-.6 .1-.6-.2-.6-.1-.6-.3-.6-.2-.6-.5-.6-.3-.6 .3-.6 .3-.6 .5-.6 .1-.6 .4-.6 0-.6-.1-.6 .1-.6-.2-.6-.3-.6-.2-.1 .1-.2-.3-.1-.1-.2-.2-.1-.2-.2-.3-.1-.4-.2-.5-.1-1.4-.2-1.5-.1-1.1-.2-1.8-.1-1.6-.2-1-.1-.7-.2-.3-.1-.1-.2-.2-.6-.1-.6 0-.6-.1-.6 .1-.6 .2-.6-.2-.6-.1-.6 .3-.6-.2-.1-.1-.2 .1-.1 .1-.2-.3-.1-.1-.2-.3-.1-.4-.2-.9-.1-1.2-.2-1.8-.1-1-.2-1.8-.1-1.4-.2-.8-.1-.7-.2-.3-.1-.3-.2-.1-.1-.2-.6-.3-.6-.2-.6-.3-.6-.1-.6 .2-.6-.1-.6 .2-.6 .1-.6 .4-.6 .4-.6 .3-.6 0-.6-.4-.6-.4-.6-.3-.6-.2-.6-.1-.6 0-.6-.1-.6 .2-.6 .1-.6 .4-.2 0-.1 .2-.2 0-.1 .1-.2 .2-.1 .4-.2 .4-.1 .4-.2 .9-.1 1.5-.2 1.8-.1 1-.2 1.9-.1 1.1-.2 .8-.1 .4-.2 .2-.1 .3-.2 0-.1 .2-.2-.1-.1 0-.6-.1-.6 .1-.6 0-.6 .1-.6-.1-.6 0-.6 0-.6 0-.2 0-.1 0-.2 .2-.1-.2-.2 .3-.1 .1-.2 .2-.1 .7-.2 1-.1 1.5-.2 2-.1 1-.2 1.6-.1 1-.2 .8-.1 .7-.2 .1-.1 .4-.2 0-.1 .1-.6 .3-.6 .3-.6 .3-.6 .1-.6-.2-.6 0-.6-.2-.6-.2-.6-.4-.6-.4-.6-.3-.6 .2-.6 .4-.6 .2-.6 .3-.6 .2-.6 .2-.6 .1-.6-.1-.6 .1-.6-.3-.6-.4-.2-.2-.1 0-.2-.2-.1 0-.2-.3-.1-.3-.2-.3-.1-.9-.2-1.2-.1-1.5-.2-1-.1-1.9-.2-1.6-.1-.9-.2-.7-.1-.4-.2-.1-.1-.2-.6 0-.6 0-.6 .1-.6-.1-.6 0-.6 0-.6 0-.6 .4-.6-.4-.2-.1-.1 .1-.2 0-.1-.2-.2-.1-.1 0-.2-.7-.1-.7-.2-1.4-.1-1.8-.2-.9-.1-2-.2-1.3-.1-.9-.2-.6-.1-.2-.2-.3-.1-.2-.2-.2-.6-.3-.6-.4-.6-.2-.6 .1-.6-.2-.6 .3-.6 .1-.6 .1-.6 .4-.6 .3-.6 .4-.6 0-.6-.4-.6-.3-.6-.4-.6-.2-.6-.1-.6-.1-.6 0-.6 .1-.6 .3-.6 .5-.1-.1-.2 .2-.1-.1-.2 .1-.1 .2-.2 .3-.1 .4-.2 .6-.1 .9-.2 1.3-.1 1.7-.2 1.1-.1 1.8-.2 1.2-.1 .8-.2 .5-.1 .3-.2 .1-.1 0-.2 .1-.1 0-.2 .4-.6-.2-.6-.2-.6 .1-.6 0-.6 0-.6-.1-.6 0-.6 .1-.1 0-.2-.1-.1 .4-.2-.2-.1 0-.2 .2-.1 .4-.2 .5-.1 1.3-.2 1.3-.2 2.1-.1 .9-.2 1.7-.1 1-.2 .7-.1 .5-.2 .4-.1 .1-.2 .1-.1 .2-.6 .4-.6 .2-.6 .3-.6 .1-.6-.2-.6 .1-.6-.3-.6-.3-.6-.3-.6-.4-.6-.3-.6 .2-.6 .3-.6 .5-.6 .2-.6 .1-.6 .2-.6 .2-.6-.2-.6-.1-.6-.2-.6-.4-.1 .2-.2-.2-.1-.2-.2-.2-.1-.2-.2-.3-.1-.4-.2-.8-.1-1.2-.2-1.5-.1-.9-.2-2.1-.1-1.4-.2-1.1-.2-.6-.1-.3-.2-.2-.1 .1-.6-.3-.6 0-.6 0-.6-.1-.6 .3-.6-.2-.6 .1-.6-.1-.6 0-.1-.1-.2 .1-.1-.1-.2-.1-.2 .1-.1-.5-.2-.2-.1-1-.2-1.2-.1-1.9-.2-1.1-.1-1.7-.2-1.4-.1-.9-.2-.6-.1-.4-.2-.2-.1-.1-.2-.1-.6-.5-.6-.2-.6-.3-.6 0-.6-.1-.6 .2-.6 .1-.6 .2-.6 .3-.6 .4-.6 .4-.6-.1-.6-.4-.6-.2-.5-.5-.6-.2-.6-.1-.6 0-.6 0-.6 .1-.6 .2-.6 .3-.2 .2-.1 0-.2 .2-.1 .2-.2 .1-.2 .1-.1 .6-.2 .5-.1 .9-.2 1.3-.1 1.6-.1 1.4-.2 1.6-.2 1.3-.1 .9-.1 .3-.2 .4-.2 .1-.6 0-.6 .2-.6-.1-.6 .1-.6 .1-.6-.3-.6 .2-.6-.1-.6 0-.1 0-.1-.1-.2 .1-.2 .2-.1-.1-.1 .2-.2 .5-.2 .6-.1 .9-.1 1.5-.2 2.1-.1 .9-.2 1.5-.1 1.3-.2 .8-.1 .3-.2 .3-.1 .2-.2 .1-.1 .1-.6 .4-.6 .3-.6 .2-.6 .5-.6-.4-.6-.1-.6-.2-.6-.3-.6-.3-.6-.4-.6-.3-.6 .2-.7 .4-.6 .3-.6 .2-.6 .3-.6 .2-.6 0-.6-.1-.6-.2-.6-.2-.6-.3-.1-.1-.2 0-.1 0-.2-.2-.1-.2-.1-.4-.2-.4-.2-.7-.1-1.2-.1-1.6-.2-1-.1-1.9-.2-1.6-.1-1-.2-.6-.1-.3-.2-.3-.1-.1-.6 0-.6-.1-.6 0-.6 .2-.6 0-.6-.2-.6 .1-.6-.1-.6 .1-.2-.1-.1 0-.2 0-.1-.1-.2-.1-.1-.3-.2-.2-.1-1.1-.2-1.2-.1-1.8-.2-1.2-.1-1.6-.2-1.4-.1-.9-.2-.6-.1-.3-.2-.1-.1-.4-.2-.1-.6-.4-.6-.2-.6-.2-.6-.1-.6-.1-.6 .3-.6 0-.6 .3-.6 .3-.6 .3-.6 .4-.6-.1-.6-.4-.6-.3-.6-.3-.6-.2-.6-.2-.6-.1-.6 .1-.6 .2-.6 .1-.6 .5-.2-.1-.1 .1-.2 .1-.1 .4-.1 0-.2 .2-.1 .4-.2 .5-.1 1.1-.2 1.3-.1 1.5-.2 1.3-.1 1.7-.2 1.2-.2 .9-.1 .4-.1 .3-.2 .1-.2 .1-.1 0-.6 0-.6 0-.6 .1-.6-.1z" fill="#c800ee" opacity="0.95"/>
<path d="M11.5 98.8l.6 0 .6 0 .6 0 .6 0 .1-.1 .2 0 .2-.2 .1-.2 .1-.5 .2-.8 .2-1.3 .1-1.7 .2-1.2 .1-1.7 .2-1.3 .1-1 .2-.5 .1-.4 .2-.3 .1-.1 .1-.2 .2-.1 .1-.1 .2 0 .6-.3 .6-.2 .6-.2 .6 0 .6 .1 .6 .1 .6 .2 .6 .3 .6 .4 .6 .4 .6 .1 .6-.4 .6-.4 .6-.3 .6-.2 .6-.2 .6-.1 .6 0 .6 .1 .6 .2 .6 .3 .6 .3 .2 .2 .1 .1 .2 .3 .1 .4 .2 .5 .1 1 .2 1.3 .1 1.7 .2 1.2 .1 1.7 .2 1.3 .1 .8 .2 .5 .1 .2 .2 .2 .1 0 .2 .1 .1 0 .2 0 .6 0 .6 0 .6 0 .6 0 .6 0 .6 0 .6 0 .6 0 .6 .1 .1 .1 .2 .2 .1 .3 .2 .6 .1 1.1 .2 1.5 .1 2 .2 1 .1 1.5 .1 1.1 .2 .8 .2 .4 .1 .3 .1 .2 .2 .2 .1 .1 .2 .1 .1 .1 .6 .3 .6 .2 .6 .2 .6 0 .6 0 .6-.2 .6-.2 .6-.3 .6-.3 .7-.4 .6-.2 .6 .4 .6 .4 .6 .3 .6 .2 .6 .2 .6 .1 .6 0 .6-.1 .6-.2 .6-.2 .6-.4 .1-.1 .2-.2 .1-.2 .2-.3 .1-.4 .2-.8 .1-1.1 .2-1.5 .1-1 .2-2 .1-1.5 .1-1.1 .2-.6 .2-.3 .1-.2 .1-.1 .2 0 .2-.1 .1 0 .1 0 .6 0 .6 0 .6 0 .6 0 .6 0 .6 0 .6 0 .6 0 .6-.1 .2-.2 .2-.2 .1-.5 .1-.8 .2-1.3 .2-1.7 .1-1.2 .1-1.7 .2-1.3 .1-1 .2-.5 .1-.4 .2-.3 .2-.1 .1-.2 .2-.1 .1-.1 .2 0 .6-.3 .6-.2 .6-.2 .6 0 .6 .1 .6 .1 .6 .2 .5 .3 .6 .4 .6 .4 .6 .1 .6-.4 .6-.4 .6-.3 .6-.2 .6-.2 .6-.1 .6 0 .6 .1 .6 .2 .6 .3 .6 .3 .2 .2 .1 .1 .2 .3 .1 .4 .2 .5 .1 1 .2 1.3 .1 1.7 .2 1.2 .1 1.7 .2 1.3 .1 .8 .2 .5 .1 .2 .2 .2 .2 0 .1 .1 .2 0 .1 0 .6 0 .6 0 .6 0 .6 0 .6 0 .6 0 .6 0 .6 0 .6 .1 .1 .1 .2 .2 .1 .3 .2 .6 .2 1.1 .1 1.5 .2 2 .1 1 .2 1.5 .1 1.1 .2 .8 .1 .4 .2 .3 .1 .2 .2 .2 .1 .1 .2 .1 .1 .1 .6 .3 .6 .2 .6 .2 .6 0 .6 0 .6-.2 .6-.2 .6-.3 .6-.3 .6-.4 .6-.2 .6 .4 .6 .4 .6 .3 .6 .2 .6 .2 .6 .1 .6 0 .6-.1 .6-.2 .6-.2 .6-.4 .1-.1 .2-.2 .1-.2 .2-.3 .1-.4 .2-.8 .1-1.1 .2-1.5 .1-1 .2-2 .2-1.5 .1-1.1 .2-.6 .1-.3 .2-.2 .1-.1 .2 0 .1-.1 .2 0 .1 0 .6 0 .6 0 .6 0 .6 0 .6 0 .6 0 .6 0 .6 0 .2 0 .1 0 .2-.1 .1 0 .2-.2 .1-.2 .2-.5 .1-.8 .2-1.3 .1-1.7 .2-1.2 .1-1.7 .2-1.3 .1-1 .2-.5 .1-.4 .2-.3 .1-.1 .2-.2 .1-.1 .2-.1 .1 0 .6-.3 .6-.2 .6-.2 .6 0 .6 .1 .6 .1 .6 .2 .6 .3 .6 .4 .6 .4 .6 .1 .6-.4 .6-.4 .6-.3 .6-.2 .6-.2 .6-.1 .6 0 .6 .1 .6 .2 .6 .3 .6 .3 .2 .2 .1 .1 .2 .3 .1 .4 .2 .5 .1 1 .2 1.3 .1 1.7 .2 1.2 .1 1.7 .2 1.3 .1 .8 .2 .5 .1 .2 .2 .2 .1 0 .2 .1 .1 0 .2 0 .6 0 .6 0 .6 0 .6 0 .6 0 .6 0 .6 0 .6 0 .6 .1 .1 .1 .2 .2 .1 .3 .2 .6 .1 1.1 .2 1.5 .1 2 .2 1 .1 1.5 .2 1.1 .1 .8 .2 .4 .1 .3 .2 .2 .1 .2 .2 .1 .1 .1 .2 .1 .6 .3 .6 .2 .6 .2 .6 0 .6 0 .6-.2 .6-.2 .6-.3 .6-.3 .6-.4 .6-.2 .6 .4 .6 .4 .6 .3 .6 .2 .6 .2 .6 .1 .6 0 .6-.1 .6-.2 .6-.2 .6-.4 .1-.1 .2-.2 .1-.2 .2-.3 .1-.4 .2-.8 .1-1.1 .2-1.5 .1-1 .2-2 .1-1.5 .2-1.1 .1-.6 .2-.3 .1-.2 .2-.1 .1 0 .2-.1 .1 0 .2 0 .6 0 .6 0 .6 0 .6 0 .6 0 .6 0 .6 0 .6 0 .1 0 .2 0 .1-.1 .2 0 .1-.2 .2-.2 .1-.5 .2-.8 .1-1.3 .2-1.7 .1-1.2 .2-1.7 .1-1.3 .2-1 .1-.5 .2-.4 .1-.3 .2-.1 .1-.2 .2-.1 .1-.1 .2 0 .6-.3 .6-.2 .6-.2 .6 0 .6 .1 .6 .1 .6 .2 .6 .3 .6 .4 .6 .4 .6 .1 .6-.4 .6-.4 .6-.3 .6-.2 .6-.2 .6-.1 .6 0 .6 .1 .6 .2 .6 .3 .6 .3 .1 .2 .2 .1 .1 .3 .2 .4 .1 .5 .2 1 .1 1.3 .2 1.7 .1 1.2 .2 1.7 .1 1.3 .2 .8 .1 .5 .2 .2 .1 .2 .2 0 .1 .1 .2 0 .1 0 .6 0 .6 0 .6 0 .6 0 .6 0 .6 0 .6 0 .6 0 .6 .1 .2 .1 .1 .2 .2 .3 .1 .6 .2 1.1 .1 1.5 .2 2 .1 1 .2 1.5 .1 1.1 .2 .8 .1 .4 .2 .3 .1 .2 .2 .2 .1 .1 .2 .1 .1 .1 .6 .3 .6 .2 .6 .2 .6 0 .6 0 .6-.2 .6-.2 .6-.3 .6-.3 .6-.4 .6-.2 .6 .4 .6 .4 .6 .3 .6 .2 .6 .2 .6 .1 .6 0 .6-.1 .6-.2 .6-.2 .6-.4 .2-.1 .1-.2 .2-.2 .1-.3 .2-.4 .1-.8 .2-1.1 .1-1.5 .2-1 .1-2 .2-1.5 .1-1.1 .2-.6 .1-.3 .2-.2 .1-.1 .2 0 .1-.1 .2 0 .1 0 .6 0 .6 0 .6 0 .6 0 .6 0 .6 0 .6 0 .6 0 .2 0 .1 0 .2-.1 .1 0 .2-.2 .1-.2 .2-.5 .1-.8 .2-1.3 .1-1.7 .2-1.2 .1-1.7 .2-1.3 .1-1 .2-.5 .1-.4 .2-.3 .1-.1 .2-.2 .1-.1 .2-.1 .1 0 .6-.3 .6-.2 .6-.2 .6 0 .6 .1 .6 .1 .6 .2 .6 .3 .6 .4 .6 .4 .6 .1 .6-.4 .6-.4 .6-.3 .6-.2 .6-.2 .6-.1 .6 0 .6 .1 .6 .2 .6 .3 .6 .3 .2 .2 .1 .1 .2 .3 .1 .4 .2 .5 .1 1 .2 1.3 .1 1.7 .2 1.2 .1 1.7 .2 1.3 .1 .8 .2 .5 .1 .2 .2 .2 .1 0 .2 .1 .1 0 .2 0 .6 0 .6 0 .6 0 .6 0 .6 0 .6 0 .6 0 .6 0 .6 .1 .1 .1 .2 .2 .1 .3 .2 .6 .1 1.1 .2 1.5 .1 2 .2 1 .1 1.5 .2 1.1 .1 .8 .2 .4 .1 .3 .2 .2 .1 .2 .2 .1 .1 .1 .2 .1 .6 .3 .6 .2 .6 .2 .6 0 .6 0 .6-.2 .6-.2 .6-.3 .6-.3 .6-.4 .6-.2 .6 .4 .6 .4 .6 .3 .6 .2 .6 .2 .6 .1 .6 0 .6-.1 .6-.2 .6-.2 .6-.4 .1-.1 .2-.2 .1-.2 .2-.3 .1-.4 .2-.8 .1-1.1 .2-1.5 .1-1 .2-2 .1-1.5 .2-1.1 .1-.6 .2-.3 .1-.2 .2-.1 .1 0 .2-.1 .1 0 .2 0 .6 0 .6 0 .6 0 .6 0 .6 0 .6 0 .6 0 .6 0 .1 0 .2 0 .1-.1 .2 0 .1-.2 .2-.2 .1-.5 .2-.8 .1-1.3 .2-1.7 .1-1.2 .2-1.7 .1-1.3 .2-1 .1-.5 .1-.4 .2-.3 .1-.1 .2-.2 .1-.1 .2-.1 .1 0 .6-.3 .6-.2 .6-.2 .6 0 .6 .1" fill="none" stroke="#c800ee" stroke-width="0.75" stroke-linejoin="round" stroke-linecap="round" opacity="0.95" />
<path d="M11.5 153.2l.6-.1 .6-.1 .6-.3 .6-.4 .6-.1 .6-.4 .6-.1 .6 .3 .6 .5 .6 .3 .6 .1 .6 .3 .6-.1 .6 .2 .6-.2 .6-.3 .6-.1 .6-.5 .2-.1 .1-.1 .2-.3 .1-.4 .2-.6 .1-1.1 .2-1.3 .1-1.8 .1-1.3 .2-1.6 .1-1.1 .2-.8 .1-.5 .2-.1 .1-.1 .2 0 .1-.1 .2 0 .1-.1 .6 .1 .6 0 .6 0 .6-.2 .6 .2 .6-.1 .6 .1 .6-.1 .7-.1 .1 0 .1-.3 .2-.4 .1-.6 .2-1.2 .1-1.6 .2-1.9 .1-1.2 .2-1.4 .1-1.1 .2-.5 .1-.5 .2-.3 .1-.2 .2-.3 .1 .1 .2-.2 .1 .1 .6-.3 .6-.4 .6-.1 .6 0 .6 .1 .6 .1 .6 .3 .6 .3 .6 .1 .6 .5 .6 .2 .6-.4 .6-.4 .6-.4 .6-.1 .6-.3 .6 0 .6 .1 .6 0 .6 .2 .6 .2 .6 .5 .2 0 .2 .3 .1 .2 .1 .2 .2 .6 .1 .8 .2 1.2 .1 1.3 .2 1.4 .1 1.9 .2 1.3 .1 1.1 .2 .5 .1 .3 .2 .1 .1 .2 .2 0 .1-.1 .2 .1 .1 .1 .6-.2 .6 .2 .6-.1 .6 0 .6 0 .6 0 .6 0 .6-.2 .2 .1 .1 0 .2 .2 .1 .1 .2 .1 .1 .4 .2 .4 .1 .9 .2 1.4 .1 1.7 .2 1.2 .1 1.6 .2 1.2 .1 1 .2 .3 .1 .5 .2 .3 .1 .2 .2 .1 .1 0 .2 .2 .1 .1 .6 .3 .6 .2 .6-.2 .6 .2 .6-.1 .6 0 .6-.1 .6-.4 .6-.3 .6-.6 .6-.1 .6 .5 .6 .4 .6 .3 .6 .3 .6 .1 .6 .1 .6-.1 .6 .1 .6-.4 .6-.2 .6-.4 .2 0 .1-.2 .2-.3 .1-.4 .2-.7 .1-.9 .2-1.4 .1-1.8 .2-1.2 .1-1.7 .2-1.2 .1-.6 .2-.5 .1-.2 .2-.1 .1-.1 .2-.1 .1 .1 .2-.1 .6 0 .6-.1 .6 .2 .6-.2 .6 .1 .6 .1 .6 0 .6-.1 .6-.2 .1 0 .2-.1 .1-.5 .2-.8 .1-1 .2-1.6 .1-1.1 .2-1.8 .2-1.5 .1-1.1 .2-.6 .1-.5 .2-.2 .1-.2 .2-.1 .1-.3 .2 0 .1-.1 .6-.2 .6-.4 .6 0 .6 0 .6 0 .6 .1 .6 .1 .6 .4 .6 .4 .6 .3 .6 .1 .6-.3 .6-.3 .6-.3 .6-.4 .6-.1 .6 0 .6-.2 .6 .3 .6 0 .6 .2 .6 .6 .1 .1 .2 .1 .1 0 .2 .6 .1 .4 .2 .9 .1 1.1 .2 1.7 .1 1.1 .2 1.9 .2 1.3 .1 1 .2 .6 .1 .1 .2 .3 .1 .1 .2 .1 .1 .1 .2-.2 .1 .1 .6-.1 .6 0 .6 .2 .6-.2 .6 .1 .6 0 .6 0 .6 .1 .1-.1 .2 0 .2 .1 .1 .1 .2 0 .1 .4 .2 .6 .1 .8 .2 1.4 .1 1.8 .2 1.1 .1 1.7 .2 1.3 .1 .7 .2 .6 .1 .4 .2 .2 .1 0 .2 .2 .1 .1 .2 .2 .1 .1 .6 .3 .6 .2 .6 .1 .6 .1 .6-.2 .6-.2 .6-.1 .6-.3 .6-.3 .6-.4 .6-.2 .6 .3 .6 .5 .6 .3 .6 .1 .6 .4 .6-.1 .6 0 .6-.1 .6-.1 .6-.2 .6-.5 .2 0 .1-.3 .2-.2 .1-.4 .2-.6 .1-1.1 .2-1.4 .1-1.7 .2-1.2 .1-1.6 .2-1.4 .1-.6 .2-.5 .1-.1 .2-.2 .1-.2 .2 .1 .1 .1 .2 0 .6 0 .6-.1 .6 0 .6 .1 .6-.1 .6 0 .6-.1 .6 .2 .6-.2 .1-.2 .2-.3 .1-.2 .2-.7 .1-1.1 .2-1.6 .1-1.2 .2-1.6 .1-1.6 .2-1.1 .1-.7 .2-.4 .1-.3 .2-.2 .1 0 .2-.2 .1 0 .2-.1 .6-.5 .6-.1 .6-.2 .6 .1 .6 0 .6 .1 .6 .2 .6 .4 .6 .3 .6 .3 .6 .1 .6-.3 .6-.3 .6-.4 .6-.2 .6-.3 .6 .1 .6 0 .6 0 .6 .2 .6 .3 .6 .4 .1 .1 .2 .2 .1 .1 .2 .3 .1 .6 .2 .8 .1 1.1 .2 1.7 .1 .8 .2 2.1 .1 1.4 .2 1 .1 .6 .2 0 .1 .5 .2 .1 .1 0 .2 0 .1 0 .2 .1 .6 0 .6-.2 .6 .1 .6 0 .6 0 .6-.1 .6 .2 .6-.2 .1 .1 .2 .1 .1 0 .2 .2 .1 .1 .2 .1 .1 .6 .2 .9 .1 1.4 .2 1.6 .1 1.3 .2 1.6 .1 1.4 .2 .8 .1 .6 .2 .1 .1 .3 .2 .3 .1-.1 .2 .2 .1 .1 .2 .2 .6 .3 .6 .1 .6 .1 .6 .1 .6 0 .6-.2 .6-.5 .6-.1 .6-.2 .6-.5 .6 0 .6 .3 .6 .5 .6 .2 .6 .3 .6 .2 .6-.1 .6 .2 .6-.2 .6-.1 .6-.4 .6-.4 .1-.1 .2-.1 .1-.4 .2-.3 .1-.7 .2-1 .1-1.3 .2-1.8 .1-1.2 .2-1.6 .1-1.2 .2-.8 .1-.5 .2-.1 .1-.1 .2-.2 .1 .1 .2 0 .1-.2 .6 .2 .6 0 .6-.2 .6 .2 .6-.2 .6 .2 .6-.1 .6 .1 .6-.3 .2-.1 .1 0 .2-.6 .1-.6 .2-1 .1-1.7 .2-1.3 .1-1.7 .2-1.4 .1-1 .2-.7 .1-.4 .2-.4 .1-.1 .2-.1 .1-.2 .2-.1 .1-.2 .6-.3 .6-.1 .6-.1 .6-.1 .6-.4 .6 .6 .6 .2 .6 .1 .6 .5 .6 .5 .6 .1 .6-.3 .6-.4 .6-.4 .6-.2 .6-.2 .6 0 .6 0 .6 0 .6 .3 .6 .1 .6 .5 .2 .1 .1 .2 .2 .2 .1 .3 .2 .5 .1 .8 .2 1.1 .1 1.4 .2 1.2 .1 1.9 .2 1.5 .1 1.1 .2 .5 .1 .3 .2 .2 .1 0 .2 0 .1 0 .2 .2 .1-.1 .6 0 .6 0 .6 0 .6 0 .6 0 .6 0 .6 .1 .6 0 .2-.1 .1 0 .2 0 .1 .2 .2 .2 .1 .2 .2 .6 .1 .6 .2 1.5 .1 1.8 .2 1.1 .1 1.7 .2 1.3 .1 .9 .2 .5 .1 .3 .2 .2 .1 .2 .2 .2 .1 0 .2 .2 .1 .1 .6 .2 .6 .2 .6 .2 .6 0 .6 0 .6-.1 .6-.5 .6-.3 .6-.1 .6-.4 .6-.2 .6 .5 .6 .2 .6 .4 .6 .3 .6 .2 .6 .1 .6-.1 .6 0 .6-.3 .6-.3 .6-.3 .2-.2 .1-.2 .2-.1 .1-.6 .2-.5 .1-1 .2-1.4 .1-1.8 .2-1.1 .1-1.8 .2-1.1 .1-.7 .2-.4 .1-.3 .2-.1 .1-.1 .2 0 .1 0 .2 0 .6-.1 .6 .1 .6-.1 .6 .1 .6-.1 .6 .1 .6 0 .6-.2 .6 0 .1-.1 .2-.2 .1-.4 .2-.7 .1-1 .2-1.6 .1-1.2 .2-1.8 .1-1.4 .2-1.1 .1-.8 .2-.4 .1-.5 .2 0 .1-.1 .2-.1 .1-.1 .2-.1 .6-.2 .6-.4 .6 0 .6-.1 .6 .1 .6 0 .6 .4 .6 .3 .6 .3 .6 .3 .6 .1 .6-.4 .6-.2 .6-.3 .6-.4 .6-.1 .6-.1 .6-.1 .6 .3 .6 .2 .6 .2 .6 .4 .1 .1 .2 .1 .1 .2 .2 .4 .1 .5 .2 .8 .1 1.1 .2 1.7 .1 1 .2 1.9 .1 1.4 .2 1.1 .1 .5 .2 .3 .1 .1 .2 .2 .1 0 .2-.1 .1 .1 .2 0 .6 0 .6-.1 .6 .1 .6 0 .6 .1 .6-.1 .6 .1 .6-.2 .1 .2 .2-.1 .1 .1 .2 .1 .1 .2 .2 .2 .1 .6 .2 .8 .1 1.4 .2 1.8 .1 1.2 .2 1.6 .1 1.3 .2 .8 .1 .6 .2 .3 .1 0 .2 .4 .1 .1 .2 .1 .1 0 .2 0 .6 .5 .6 .2 .6 0 .6 .1 .6-.2 .6 .1 .6-.4 .6-.2 .6-.4 .6-.4 .6-.2 .6 .6 .6 .2 .6 .5 .6 .2 .6 .1 .6 .2 .6 0 0 2.2-.6 .2-.6-.2-.6-.1-.6-.3-.6-.3-.6-.2-.6-.6-.6 .1-.6 .3-.6 .5-.6 .2-.6 .4-.6 0-.6 .1-.6-.1-.6-.1-.6-.1-.6-.3-.2 0-.1-.3-.2 .1-.1-.3-.2-.1-.1-.1-.2-.6-.1-.4-.2-.9-.1-1.3-.2-1.7-.1-1.1-.2-1.7-.1-1.5-.2-.8-.1-.5-.2-.4-.1 .1-.2-.2-.1 0-.2-.1-.1 0-.6-.1-.6 .1-.6-.1-.6 .1-.6-.1-.6 .2-.6-.1-.6-.1-.2 .2-.1 0-.2-.2-.1-.1-.2 .1-.1-.3-.2-.3-.1-.3-.2-1.2-.1-1.4-.2-1.5-.1-1.5-.2-1.7-.1-1.1-.2-.8-.1-.6-.2-.2-.1-.2-.2-.3-.1 0-.6-.4-.6-.2-.6-.2-.6 0-.6-.1-.6 .2-.6 .1-.6 .2-.6 .3-.6 .3-.6 .5-.6-.2-.6-.4-.6-.3-.6-.3-.6-.3-.6 0-.6 0-.6-.1-.6 .2-.6 .2-.6 .3-.2 .2-.1-.1-.2 .3-.1-.1-.2 .4-.1 .1-.2 .7-.1 .4-.2 1.4-.1 1.3-.2 1.8-.1 1-.2 1.7-.1 1.2-.2 .5-.1 .4-.2 .4-.1 0-.6 0-.6 .1-.6 0-.6 .1-.6-.1-.6-.1-.6 0-.6 .1-.6-.1-.2 .1-.1-.1-.2 .2-.1 0-.2 .1-.1 .3-.2 .3-.1 .8-.2 1.3-.1 1.6-.2 1.4-.1 1.5-.2 1.4-.1 1-.2 .6-.1 .4-.2 .2-.1 .2-.2 .3-.6 .2-.6 .5-.6 0-.6 .3-.6 0-.6-.2-.6-.2-.6-.2-.6 .2-.6-.9-.6-.2-.6 0-.6 .3-.6 .5-.6 .2-.6 .2-.6 .1-.6 0-.6 .2-.6-.3-.6-.2-.6-.3-.1 0-.2-.2-.1-.1-.2-.1-.1-.2-.2-.2-.1-.2-.2-.7-.1-.8-.2-1.4-.1-1.5-.2-1-.1-1.9-.2-1.4-.1-1-.2-.4-.1-.3-.2-.2-.1 0-.2 .1-.1 0-.2-.2-.6 0-.6 0-.6 0-.6-.1-.6 .1-.6 0-.6 0-.6-.1-.1 0-.2 .1-.1 0-.2-.1-.1 0-.2-.2-.1-.4-.2-.4-.1-1-.2-1.6-.1-1.7-.2-1.1-.1-1.8-.2-.9-.1-1-.2-.5-.1-.4-.2-.2-.1-.2-.2 .2-.6-.6-.6-.2-.6-.1-.6-.2-.6 0-.6 0-.6 .2-.6 .3-.6 .3-.6 .4-.6 .3-.6-.1-.6-.3-.6-.5-.6-.1-.6-.3-.6-.1-.6-.2-.6 .1-.6 .3-.6 0-.6 .5-.1 0-.2 0-.1 .2-.2 0-.1 .2-.2 .3-.1 .6-.2 .7-.1 1-.2 1.4-.1 1.8-.2 1.2-.1 1.6-.2 1.1-.1 .6-.2 .4-.1 .3-.2 0-.6 .2-.6 0-.6 .1-.6-.1-.6-.1-.6 0-.6 .1-.6 0-.6 0-.1 0-.2 .1-.1-.1-.2 .1-.1 .1-.2 .2-.1 .5-.2 .8-.1 1.1-.2 1.7-.1 1.2-.2 1.8-.1 1.3-.2 1-.1 .6-.2 .5-.1 .3-.2 .1-.1 .1-.6 .3-.6 .3-.6 .2-.6 .3-.6 0-.6-.2-.6-.2-.6-.2-.6-.3-.6-.4-.6-.2-.6-.1-.6 .4-.6 .3-.6 .3-.6 .2-.6 .3-.6-.1-.6 0-.6 0-.6-.3-.6-.3-.2-.1-.1 .1-.2-.3-.1-.1-.2-.2-.1-.2-.2-.1-.1-.7-.2-1-.1-1.2-.2-1.7-.1-1.1-.2-1.8-.1-1.4-.2-.9-.1-.5-.2-.1-.1-.1-.2-.1-.1-.3-.2 .2-.1-.1-.6 0-.6 0-.6-.1-.6 .1-.6-.1-.6 .3-.6-.2-.6-.1-.2 .2-.1-.2-.2 .1-.1-.2-.2 .1-.1-.2-.2-.3-.1-.6-.2-1-.1-1.5-.2-1.9-.1-1-.2-1.6-.1-1.1-.2-1-.1-.4-.2-.4-.1-.2-.2-.1-.1 0-.6-.4-.6-.3-.6-.3-.6 0-.6 .1-.6 .1-.6 .1-.6 .2-.6 .4-.6 .3-.6 .3-.6 0-.6-.5-.6-.3-.6-.2-.6-.4-.6 0-.6 0-.6-.1-.6 .3-.6 .1-.6 .3-.2 .1-.1 0-.2 .2-.1 .1-.2 .2-.1 .3-.2 .5-.1 .7-.2 1.1-.1 1.3-.2 1.8-.1 1.2-.2 1.7-.1 1-.2 .7-.1 .3-.2 .2-.1 .1-.6 .1-.6 .1-.6 0-.6 0-.6-.1-.6 .1-.6 .1-.6 .1-.6-.2-.2 0-.1 .1-.2 0-.1 .2-.2-.1-.1 .2-.2 .4-.1 .8-.2 1.2-.1 1.7-.2 1.1-.1 1.9-.2 1.4-.1 .8-.2 .7-.1 .4-.2 .3-.1 .3-.2 0-.6 .4-.6 .3-.6 .3-.6-.1-.6 0-.6 .1-.6-.3-.6-.2-.6-.4-.6-.2-.6-.5-.6 .1-.6 .3-.6 .4-.6 .4-.6 .1-.6 .2-.6 .1-.6-.1-.6 0-.6-.2-.6-.4-.1 0-.2-.2-.1-.1-.2 0-.1-.2-.2-.3-.1-.2-.2-.6-.1-.9-.2-1.2-.1-1.8-.2-1-.1-1.9-.2-1.4-.1-.7-.2-.7-.1-.2-.2-.2-.1-.1-.2 .1-.2-.1-.1 .1-.6-.1-.6 0-.6 .1-.6-.1-.6-.1-.6 .1-.6-.1-.6 .3-.1-.3-.2 0-.1 0-.2 0-.1 0-.2-.2-.1-.4-.2-.6-.1-.9-.2-1.3-.2-2.1-.1-1-.2-1.6-.1-1.3-.2-.7-.1-.1-.2-.7-.1-.3-.2-.1-.1-.1-.6-.3-.6-.3-.6-.2-.6-.2-.6 .1-.6 0-.6 .2-.6 .3-.6 .2-.6 .7-.6 .3-.6-.3-.6-.2-.6-.6-.6-.3-.6 0-.6-.4-.6 0-.6 .1-.6 .1-.6 .5-.6 .1-.1 .1-.2 .2-.1 .1-.2 0-.1 .2-.2 .3-.1 .5-.2 .6-.1 1-.2 1.5-.2 2-.1 1-.2 1.6-.1 1.1-.2 .7-.1 .4-.2 .3-.1-.1-.6 .3-.6 0-.6-.1-.6-.1-.6 .1-.6 .1-.6-.1-.6 0-.6-.1-.2 .1-.1 .1-.2-.1-.1 0-.2 .3-.1 .2-.2 .4-.1 .7-.2 1.2-.1 1.8-.2 1-.1 1.8-.2 1.5-.1 .8-.2 .8-.1 .4-.2 .2-.1 .2-.2 .1-.6 .4-.6 .2-.6 .4-.6-.1-.6 .1-.6-.1-.6-.1-.6-.3-.6-.3-.6-.2-.6-.5-.6 0-.6 .5-.6 .3-.6 .2-.6 .3-.6 .1-.6 0-.6 .2-.6-.3-.6-.2-.6-.2-.1-.1-.2 0-.1-.3-.2 0-.1-.3-.2-.1-.1-.4-.2-.5-.1-.9-.2-1.1-.1-1.9-.2-1.1-.1-1.7-.2-1.4-.1-1-.2-.3-.1-.5-.2 0-.1 0-.2-.2-.1 0-.2 0-.6 0-.6 0-.6-.1-.6 .1-.6-.1-.6 .1-.6 .1-.6-.2-.1 .2-.2 0-.1-.1-.2 0-.1-.3-.2-.1-.1-.3-.2-.6-.1-.9-.2-1.5-.1-1.8-.2-1.1-.1-1.5-.2-1.3-.1-.6-.2-.7-.1-.4-.1-.1-.2-.1-.2-.3-.6-.3-.6-.2-.6-.1-.6-.2-.6 0-.6 .2-.6 .3-.6-.1-.6 .4-.6 .5-.6 .4-.6-.3-.6-.2-.6-.6-.6-.3-.6-.1-.6-.1-.6 0-.6-.1-.6 .2-.6 .1-.6 .3-.1 .2-.2 0-.1 .2-.2 0-.1 .3-.2 .3-.1 .4-.2 .8-.1 .9-.2 1.6-.1 .9-.2 1.9-.1 1.6-.2 1.3-.1 .9-.2 .1-.1 .1-.1 .1-.7 .3-.6 0-.6-.1-.6-.1-.6 .1-.6 .1-.6-.2-.6 .3-.6-.2-.1 0-.2 0-.1 0-.2 .1-.1 .1-.2 .3-.1 .3-.2 .9-.1 1.1-.2 1.7-.1 1.3-.1 1.6-.2 1.4-.1 1-.2 .6-.1 .5-.2 .1-.1 .4-.2 0-.6 .3-.6 .5-.6 0-.6 .1-.6 0-.6 0-.6-.1-.6-.3-.6-.4-.6-.1-.6-.5-.6 .1-.6 .4-.6 .3-.6 .3-.6 .1-.6 .8-.6-.5z" fill="#bb9418" opacity="0.95"/>
<path d="M11.5 154.4l.6-.1 .6-.1 .6-.2 .6-.3 .6-.4 .6-.4 .6 0 .6 .4 .6 .3 .6 .3 .6 .3 .6 .1 .6 .1 .6 0 .6-.1 .6-.2 .6-.3 .6-.4 .2-.1 .1-.2 .2-.2 .1-.4 .2-.7 .1-1 .2-1.4 .1-1.7 .1-1.2 .2-1.7 .1-1.2 .2-.7 .1-.4 .2-.3 .1-.1 .2 0 .1-.1 .2 0 .1 0 .6 0 .6 0 .6 0 .6 0 .6 0 .6 0 .6 0 .6 0 .7-.1 .1-.1 .1-.2 .2-.4 .1-.7 .2-1.1 .1-1.6 .2-2 .1-.9 .2-1.5 .1-1.1 .2-.7 .1-.4 .2-.3 .1-.2 .2-.1 .1-.1 .2-.1 .1-.1 .6-.3 .6-.2 .6-.2 .6 0 .6 0 .6 .2 .6 .2 .6 .3 .6 .3 .6 .4 .6 .2 .6-.4 .6-.4 .6-.3 .6-.2 .6-.2 .6-.1 .6 0 .6 .1 .6 .2 .6 .3 .6 .3 .2 .1 .2 .2 .1 .2 .1 .3 .2 .5 .1 .8 .2 1.2 .1 1.6 .2 1.1 .1 1.9 .2 1.4 .1 1 .2 .5 .1 .4 .2 .1 .1 .1 .2 .1 .1 0 .2 0 .1 0 .6 0 .6 0 .6 0 .6 0 .6 0 .6 0 .6 0 .6 0 .2 0 .1 0 .2 .1 .1 .1 .2 .1 .1 .3 .2 .5 .1 .9 .2 1.3 .1 1.9 .2 1.1 .1 1.6 .2 1.3 .1 .9 .2 .5 .1 .4 .2 .2 .1 .1 .2 .2 .1 .1 .2 .1 .1 .1 .6 .2 .6 .2 .6 .2 .6 0 .6-.1 .6-.1 .6-.2 .6-.3 .6-.4 .6-.4 .6 0 .6 .4 .6 .3 .6 .3 .6 .3 .6 .1 .6 .1 .6 0 .6-.1 .6-.2 .6-.3 .6-.4 .2-.1 .1-.2 .2-.2 .1-.4 .2-.7 .1-1 .2-1.4 .1-1.7 .2-1.2 .1-1.7 .2-1.2 .1-.7 .2-.4 .1-.3 .2-.1 .1 0 .2-.1 .1 0 .2 0 .6 0 .6 0 .6 0 .6 0 .6 0 .6 0 .6 0 .6 0 .6-.1 .1-.1 .2-.2 .1-.4 .2-.7 .1-1.1 .2-1.6 .1-1.1 .2-1.8 .2-1.5 .1-1.1 .2-.7 .1-.4 .2-.3 .1-.2 .2-.1 .1-.1 .2-.1 .1-.1 .6-.3 .6-.2 .6-.2 .6 0 .6 0 .6 .2 .6 .2 .6 .3 .6 .3 .6 .4 .6 .2 .6-.4 .6-.4 .6-.3 .6-.2 .6-.2 .6-.1 .6 0 .6 .1 .6 .2 .6 .3 .6 .3 .1 .1 .2 .2 .1 .2 .2 .3 .1 .5 .2 .8 .1 1.2 .2 1.6 .1 1.1 .2 1.9 .2 1.4 .1 1 .2 .5 .1 .4 .2 .1 .1 .1 .2 .1 .1 0 .2 0 .1 0 .6 0 .6 0 .6 0 .6 0 .6 0 .6 0 .6 0 .6 0 .1 0 .2 0 .2 .1 .1 .1 .2 .1 .1 .3 .2 .5 .1 .9 .2 1.3 .1 1.9 .2 1.1 .1 1.6 .2 1.3 .1 .9 .2 .5 .1 .4 .2 .2 .1 .1 .2 .2 .1 .1 .2 .1 .1 .1 .6 .2 .6 .2 .6 .2 .6 0 .6-.1 .6-.1 .6-.2 .6-.3 .6-.4 .6-.4 .6 0 .6 .4 .6 .3 .6 .3 .6 .3 .6 .1 .6 .1 .6 0 .6-.1 .6-.2 .6-.3 .6-.4 .2-.1 .1-.2 .2-.2 .1-.4 .2-.7 .1-1 .2-1.4 .1-1.7 .2-1.2 .1-1.7 .2-1.2 .1-.7 .2-.4 .1-.3 .2-.1 .1 0 .2-.1 .1 0 .2 0 .6 0 .6 0 .6 0 .6 0 .6 0 .6 0 .6 0 .6 0 .6-.1 .1-.1 .2-.2 .1-.4 .2-.7 .1-1.1 .2-1.6 .1-1.2 .2-1.7 .1-1.5 .2-1.1 .1-.7 .2-.4 .1-.3 .2-.2 .1-.1 .2-.1 .1-.1 .2-.1 .6-.3 .6-.2 .6-.2 .6 0 .6 0 .6 .2 .6 .2 .6 .3 .6 .3 .6 .4 .6 .2 .6-.4 .6-.4 .6-.3 .6-.2 .6-.2 .6-.1 .6 0 .6 .1 .6 .2 .6 .3 .6 .3 .1 .1 .2 .2 .1 .2 .2 .3 .1 .5 .2 .8 .1 1.2 .2 1.6 .1 1.1 .2 1.9 .1 1.4 .2 1 .1 .5 .2 .4 .1 .1 .2 .1 .1 .1 .2 0 .1 0 .2 0 .6 0 .6 0 .6 0 .6 0 .6 0 .6 0 .6 0 .6 0 .1 0 .2 0 .1 .1 .2 .1 .1 .1 .2 .3 .1 .5 .2 .9 .1 1.3 .2 1.9 .1 1.1 .2 1.6 .1 1.3 .2 .9 .1 .5 .2 .4 .1 .2 .2 .1 .1 .2 .2 .1 .1 .1 .2 .1 .6 .2 .6 .2 .6 .2 .6 0 .6-.1 .6-.1 .6-.2 .6-.3 .6-.4 .6-.4 .6 0 .6 .4 .6 .3 .6 .3 .6 .3 .6 .1 .6 .1 .6 0 .6-.1 .6-.2 .6-.3 .6-.4 .1-.1 .2-.2 .1-.2 .2-.4 .1-.7 .2-1 .1-1.4 .2-1.7 .1-1.2 .2-1.7 .1-1.2 .2-.7 .1-.4 .2-.3 .1-.1 .2 0 .1-.1 .2 0 .1 0 .6 0 .6 0 .6 0 .6 0 .6 0 .6 0 .6 0 .6 0 .6-.1 .2-.1 .1-.2 .2-.4 .1-.7 .2-1.1 .1-1.6 .2-1.2 .1-1.7 .2-1.5 .1-1.1 .2-.7 .1-.4 .2-.3 .1-.2 .2-.1 .1-.1 .2-.1 .1-.1 .6-.3 .6-.2 .6-.2 .6 0 .6 0 .6 .2 .6 .2 .6 .3 .6 .3 .6 .4 .6 .2 .6-.4 .6-.4 .6-.3 .6-.2 .6-.2 .6-.1 .6 0 .6 .1 .6 .2 .6 .3 .6 .3 .2 .1 .1 .2 .2 .2 .1 .3 .2 .5 .1 .8 .2 1.2 .1 1.6 .2 1.1 .1 1.9 .2 1.4 .1 1 .2 .5 .1 .4 .2 .1 .1 .1 .2 .1 .1 0 .2 0 .1 0 .6 0 .6 0 .6 0 .6 0 .6 0 .6 0 .6 0 .6 0 .2 0 .1 0 .2 .1 .1 .1 .2 .1 .1 .3 .2 .5 .1 .9 .2 1.3 .1 1.9 .2 1.1 .1 1.6 .2 1.3 .1 .9 .2 .5 .1 .4 .2 .2 .1 .1 .2 .2 .1 .1 .2 .1 .1 .1 .6 .2 .6 .2 .6 .2 .6 0 .6-.1 .6-.1 .6-.2 .6-.3 .6-.4 .6-.4 .6 0 .6 .4 .6 .3 .6 .3 .6 .3 .6 .1 .6 .1 .6 0 .6-.1 .6-.2 .6-.3 .6-.4 .2-.1 .1-.2 .2-.2 .1-.4 .2-.7 .1-1 .2-1.4 .1-1.7 .2-1.2 .1-1.7 .2-1.2 .1-.7 .2-.4 .1-.3 .2-.1 .1 0 .2-.1 .1 0 .2 0 .6 0 .6 0 .6 0 .6 0 .6 0 .6 0 .6 0 .6 0 .6-.1 .1-.1 .2-.2 .1-.4 .2-.7 .1-1.1 .2-1.6 .1-1.2 .2-1.7 .1-1.5 .2-1.1 .1-.7 .2-.4 .1-.3 .2-.2 .1-.1 .2-.1 .1-.1 .2-.1 .6-.3 .6-.2 .6-.2 .6 0 .6 0 .6 .2 .6 .2 .6 .3 .6 .3 .6 .4 .6 .2 .6-.4 .6-.4 .6-.3 .6-.2 .6-.2 .6-.1 .6 0 .6 .1 .6 .2 .6 .3 .6 .3 .1 .1 .2 .2 .1 .2 .2 .3 .1 .5 .2 .8 .1 1.2 .2 1.6 .1 1.1 .2 1.9 .1 1.4 .2 1 .1 .5 .2 .4 .1 .1 .2 .1 .1 .1 .2 0 .1 0 .2 0 .6 0 .6 0 .6 0 .6 0 .6 0 .6 0 .6 0 .6 0 .1 0 .2 0 .1 .1 .2 .1 .1 .1 .2 .3 .1 .5 .2 .9 .1 1.3 .2 1.9 .1 1.1 .2 1.6 .1 1.3 .2 .9 .1 .5 .2 .4 .1 .2 .2 .1 .1 .2 .2 .1 .1 .1 .2 .1 .6 .2 .6 .2 .6 .2 .6 0 .6-.1 .6-.1 .6-.2 .6-.3 .6-.4 .6-.4 .6 0 .6 .4 .6 .3 .6 .3 .6 .3 .6 .1 .6 .1 .6 0" fill="none" stroke="#bb9418" stroke-width="0.75" stroke-linejoin="round" stroke-linecap="round" opacity="0.95" />
<g opacity="0.8"><text x="5.4" y="57.8" fill="#1818f0" font-family="Liberation Sans, Arial, sans-serif" font-size="5.2" opacity="0.75">1</text><path d="M7.4 52 L10 53.6 L7.4 55.2 Z" fill="#1818f0"/><path d="M7 47.1 h2.6 M8.3 47.1 v3" stroke="#1818f0" stroke-width="0.7" fill="none" opacity="0.7"/></g>
<g opacity="0.8"><text x="5.4" y="103" fill="#c800ee" font-family="Liberation Sans, Arial, sans-serif" font-size="5.2" opacity="0.75">2</text><path d="M7.4 97.2 L10 98.8 L7.4 100.4 Z" fill="#c800ee"/></g>
<g opacity="0.8"><text x="5.4" y="146" fill="#bb9418" font-family="Liberation Sans, Arial, sans-serif" font-size="5.2" opacity="0.75">3</text><path d="M7.4 140.2 L10 141.8 L7.4 143.4 Z" fill="#bb9418"/></g>
<line x1="10.6" y1="12.7" x2="10.6" y2="174" stroke="#9a9a9a" stroke-width="1.1"/>
<line x1="4.2" y1="12.7" x2="263.1" y2="12.7" stroke="#a8a8a8" stroke-width="1.7"/>
<rect x="4.2" y="4.3" width="258.9" height="169.7" fill="none" stroke="#3a3a3a" stroke-width="1.2"/>
<line x1="4.2" y1="4.9" x2="4.2" y2="173.4" stroke="#858585" stroke-width="1.6"/>
<path d="M135.1 11.9 L139.1 11.9 L137.1 14.5 Z" fill="#1a60e0"/>
<text x="6.5" y="10.6" fill="#5a5aff" font-family="Liberation Sans, Arial, sans-serif" font-size="6.6">1</text>
<text x="14.7" y="10.6" fill="#4a4a4a" font-family="Liberation Sans, Arial, sans-serif" font-size="6.6" textLength="16.9" lengthAdjust="spacingAndGlyphs">20.0A/</text>
<text x="39.3" y="10.6" fill="#e050f0" font-family="Liberation Sans, Arial, sans-serif" font-size="6.6">2</text>
<text x="48" y="10.6" fill="#4a4a4a" font-family="Liberation Sans, Arial, sans-serif" font-size="6.6" textLength="16.9" lengthAdjust="spacingAndGlyphs">20.0A/</text>
<text x="72.7" y="10.6" fill="#d4b860" font-family="Liberation Sans, Arial, sans-serif" font-size="6.6">3</text>
<text x="81" y="10.6" fill="#4a4a4a" font-family="Liberation Sans, Arial, sans-serif" font-size="6.6" textLength="16.9" lengthAdjust="spacingAndGlyphs">20.0A/</text>
<text x="105.2" y="10.6" fill="#30d080" font-family="Liberation Sans, Arial, sans-serif" font-size="6.6">4</text>
<text x="172.6" y="10.6" fill="#4a4a4a" font-family="Liberation Sans, Arial, sans-serif" font-size="6.6" textLength="9.6" lengthAdjust="spacingAndGlyphs">0.0s</text>
<text x="202" y="10.6" fill="#4a4a4a" font-family="Liberation Sans, Arial, sans-serif" font-size="6.6" textLength="18.5" lengthAdjust="spacingAndGlyphs">10.40ms/</text>
<text x="238.3" y="10.6" fill="#4a4a4a" font-family="Liberation Sans, Arial, sans-serif" font-size="6.6" textLength="11.4" lengthAdjust="spacingAndGlyphs">Auto</text>
<text x="169.1" y="32.1" font-family="Liberation Serif, Times New Roman, serif" fill="#1e1e1e" stroke="#1e1e1e" stroke-width="0.25" font-size="11.3">I</text>
<text x="172.6" y="33.8" font-family="Liberation Serif, Times New Roman, serif" fill="#1e1e1e" fill-opacity="0.85" font-size="7.3" textLength="7.7" lengthAdjust="spacingAndGlyphs">La</text>
<text x="181.2" y="32.1" font-family="Liberation Serif, Times New Roman, serif" fill="#1e1e1e" font-size="11.3" textLength="15" lengthAdjust="spacingAndGlyphs">(A)</text>
<line x1="175.4" y1="35.3" x2="166" y2="45.3" stroke="#111" stroke-width="1.25"/>
<path d="M162.6 48.9 L164.5 43.3 L168.1 46.7 Z" fill="#111"/>
<text x="192.3" y="77.5" font-family="Liberation Serif, Times New Roman, serif" fill="#1e1e1e" stroke="#1e1e1e" stroke-width="0.25" font-size="11.3">I</text>
<text x="195.6" y="78.7" font-family="Liberation Serif, Times New Roman, serif" fill="#1e1e1e" fill-opacity="0.85" font-size="7.3" textLength="8.3" lengthAdjust="spacingAndGlyphs">Lb</text>
<text x="204.9" y="77.5" font-family="Liberation Serif, Times New Roman, serif" fill="#1e1e1e" font-size="11.3" textLength="14.9" lengthAdjust="spacingAndGlyphs">(A)</text>
<line x1="190.8" y1="73.8" x2="180.3" y2="83.6" stroke="#111" stroke-width="1.25"/>
<path d="M176.7 86.9 L179 81.4 L182.4 85.1 Z" fill="#111"/>
<text x="201.8" y="122.9" font-family="Liberation Serif, Times New Roman, serif" fill="#1e1e1e" stroke="#1e1e1e" stroke-width="0.25" font-size="11.3">I</text>
<text x="205" y="124.4" font-family="Liberation Serif, Times New Roman, serif" fill="#1e1e1e" fill-opacity="0.85" font-size="7.3" textLength="7.6" lengthAdjust="spacingAndGlyphs">Lc</text>
<text x="213.3" y="122.9" font-family="Liberation Serif, Times New Roman, serif" fill="#1e1e1e" font-size="11.3" textLength="14.6" lengthAdjust="spacingAndGlyphs">(A)</text>
<line x1="210.5" y1="126.1" x2="199.5" y2="136.5" stroke="#111" stroke-width="1.25"/>
<path d="M196 139.9 L198.2 134.4 L201.6 138 Z" fill="#111"/>
<line x1="325.5" y1="11.9" x2="325.5" y2="173.4" stroke="#dedede" stroke-width="0.95"/>
<line x1="350" y1="11.9" x2="350" y2="173.4" stroke="#dedede" stroke-width="0.95"/>
<line x1="374.6" y1="11.9" x2="374.6" y2="173.4" stroke="#dedede" stroke-width="0.95"/>
<line x1="399.1" y1="11.9" x2="399.1" y2="173.4" stroke="#dedede" stroke-width="0.95"/>
<line x1="448.1" y1="11.9" x2="448.1" y2="173.4" stroke="#dedede" stroke-width="0.95"/>
<line x1="472.6" y1="11.9" x2="472.6" y2="173.4" stroke="#dedede" stroke-width="0.95"/>
<line x1="497.2" y1="11.9" x2="497.2" y2="173.4" stroke="#dedede" stroke-width="0.95"/>
<line x1="521.7" y1="11.9" x2="521.7" y2="173.4" stroke="#dedede" stroke-width="0.95"/>
<line x1="301" y1="32.1" x2="546.2" y2="32.1" stroke="#dedede" stroke-width="0.95"/>
<line x1="301" y1="52.3" x2="546.2" y2="52.3" stroke="#dedede" stroke-width="0.95"/>
<line x1="301" y1="72.5" x2="546.2" y2="72.5" stroke="#dedede" stroke-width="0.95"/>
<line x1="301" y1="112.8" x2="546.2" y2="112.8" stroke="#dedede" stroke-width="0.95"/>
<line x1="301" y1="133" x2="546.2" y2="133" stroke="#dedede" stroke-width="0.95"/>
<line x1="301" y1="153.2" x2="546.2" y2="153.2" stroke="#dedede" stroke-width="0.95"/>
<line x1="423.6" y1="11.9" x2="423.6" y2="173.4" stroke="#d8d8d8" stroke-width="0.9"/>
<line x1="301" y1="92.7" x2="546.2" y2="92.7" stroke="#d8d8d8" stroke-width="0.9"/>
<path d="M305.9 91.8v1.8M310.8 91.8v1.8M315.7 91.8v1.8M320.6 91.8v1.8M330.4 91.8v1.8M335.3 91.8v1.8M340.2 91.8v1.8M345.1 91.8v1.8M354.9 91.8v1.8M359.8 91.8v1.8M364.8 91.8v1.8M369.7 91.8v1.8M379.5 91.8v1.8M384.4 91.8v1.8M389.3 91.8v1.8M394.2 91.8v1.8M404 91.8v1.8M408.9 91.8v1.8M413.8 91.8v1.8M418.7 91.8v1.8M428.5 91.8v1.8M433.4 91.8v1.8M438.3 91.8v1.8M443.2 91.8v1.8M453 91.8v1.8M457.9 91.8v1.8M462.8 91.8v1.8M467.7 91.8v1.8M477.5 91.8v1.8M482.4 91.8v1.8M487.4 91.8v1.8M492.3 91.8v1.8M502.1 91.8v1.8M507 91.8v1.8M511.9 91.8v1.8M516.8 91.8v1.8M526.6 91.8v1.8M531.5 91.8v1.8M536.4 91.8v1.8M541.3 91.8v1.8M422.7 15.9h1.8M422.7 20h1.8M422.7 24h1.8M422.7 28h1.8M422.7 36.1h1.8M422.7 40.2h1.8M422.7 44.2h1.8M422.7 48.2h1.8M422.7 56.3h1.8M422.7 60.4h1.8M422.7 64.4h1.8M422.7 68.4h1.8M422.7 76.5h1.8M422.7 80.5h1.8M422.7 84.6h1.8M422.7 88.6h1.8M422.7 96.7h1.8M422.7 100.7h1.8M422.7 104.8h1.8M422.7 108.8h1.8M422.7 116.9h1.8M422.7 120.9h1.8M422.7 125h1.8M422.7 129h1.8M422.7 137.1h1.8M422.7 141.1h1.8M422.7 145.1h1.8M422.7 149.2h1.8M422.7 157.2h1.8M422.7 161.3h1.8M422.7 165.3h1.8M422.7 169.4h1.8" stroke="#c4c4c4" stroke-width="0.9" fill="none"/>
<text x="308.3" y="22.9" fill="#1a1a1a" stroke="#1a1a1a" stroke-width="0.08" font-family="Liberation Serif, Times New Roman, serif" font-size="11.8" textLength="115.5" lengthAdjust="spacingAndGlyphs">Grid Current Waveforms</text>
<path d="M301.5 45.4l.5-1.4 .5 .5 .5-1 .5-2.3 .5-.1 .5 .2 .5-2.5 .5 .4 .5 .6 .5-1.4 .5 0 .5-1.9 .5 .2 .5 .3 .5 .8 .5-2 .5 .4 .5-.1 .5 .4 .5-1.2 .5 1.4 .5-1 .5 2.2 .5-1.3 .5 1.3 .5 1.2 .5 .7 .5 .2 .5 .6 .5-.3 .5 .7 .5 1 .5-.8 .5 3.3 .5 .2 .5 1.3 .5 1 .5 .4 .5 1.1 .5 1.2 .5 .6 .5 .7 .5 .7 .5 1.6 .5 .8 .5 1.3 .5-.5 .5-1.4 .5 3.2 .5 1.4 .5 1.4 .5 0 .5-1.2 .5 3 .5 .2 .5-2.3 .5 .7 .5 2.6 .5 .4 .5 .6 .5-2.7 .5 2.7 .5 .5 .5 1.3 .5 0 .5-.9 .5 .8 .5-.2 .5-.9 .5-.1 .5 .3 .5-.6 .5-1.3 .5 .1 .5-1.3 .5-.2 .5-.3 .5-1.7 .5 .8 .5-1.5 .5 0 .5-1.8 .5 .1 .5-5.2 .5 3.1 .5-.4 .5-2.7 .5 .8 .5-1.3 .5-.6 .5-4.4 .5 2.5 .5-3.1 .5-.2 .5 .7 .5-2.5 .5 1 .5-2.6 .5 .4 .5-.1 .5-1.7 .5-.9 .5 .7 .5-2.8 .5 1.4 .5-1.8 .5 1.4 .5-1.2 .5 .4 .5-.6 .5 .6 .5-.1 .5-.1 .5-.9 .5 1.1 .5-.7 .5 .7 .5 .3 .5-.6 .5 1.1 .5 1 .5 .7 .5 .1 .5-1.2 .5 2.7 .5 1 .5 .4 .5 .2 .5 1 .5 1.2 .5-.7 .5 2.7 .5 .9 .5 .3 .5 1.1 .5 .1 .5 1.7 .5 0 .5 .4 .5 1.6 .5 1.4 .5 1 .5 1.5 .5 .3 .5 .1 .5 2 .5 0 .5 .7 .5 1.1 .5 0 .5-.1 .5 1.3 .5 .6 .5-.2 .5 .7 .5 .2 .5 .3 .5 .1 .5-.3 .5 1.1 .5-1.8 .5 1.3 .5-1.5 .5-.2 .5-.2 .5 1.1 .5-2.4 .5 .2 .5 .9 .5-.4 .5-1.6 .5 .1 .5-.6 .5-4.6 .5 .9 .5 1 .5-.5 .5-.7 .5-2.8 .5-2.8 .5 3 .5-1.7 .5-1.4 .5-1 .5 .2 .5-.9 .5-.9 .5-2.3 .5-2.9 .5 1 .5 .8 .5-5.8 .5 3.7 .5-1.2 .5-.3 .5-1.9 .5 1.4 .5-3.5 .5-1.4 .5 2.6 .5-4 .5 2.6 .5 .7 .5 .2 .5-.4 .5-4.4 .5 3.8 .5-.4 .5-.1 .5-.4 .5 1.5 .5 .3 .5-.2 .5 .6 .5 .8 .5-1.8 .5 2.6 .5 1.1 .5-1.1 .5 2.3 .5 .4 .5-.1 .5 .6 .5 1.6 .5 1.1 .5 .8 .5 1.1 .5 1.4 .5 .5 .5-.8 .5 2.8 .5-.7 .5 1.4 .5 2.2 .5 .5 .5 1.4 .5-.6 .5 2.2 .5-1 .5 2.5 .5 .1 .5 1.4 .5-.1 .5-.4 .5 2.4 .5 .6 .5 .1 .5 .6 .5 .4 .5-.5 .5 .7 .5-.8 .5 .1 .5-1.4 .5 2.6 .5 0 .5-1 .5 0 .5-.4 .5-1 .5 .5 .5-1.4 .5-.5 .5 .8 .5-.1 .5-.9 .5-2 .5 .4 .5-.5 .5-.7 .5-1.3 .5-.5 .5-.6 .5-1.2 .5-1.5 .5 .2 .5-1.1 .5-3 .5 .1 .5-.4 .5-4.1 .5 1.4 .5-1.5 .5-.4 .5 .5 .5-1.2 .5-.3 .5-1.2 .5-2.3 .5 1.8 .5-1.1 .5-1.3 .5 .3 .5-1.6 .5 .1 .5-.8 .5-1.7 .5 2 .5-1.6 .5-.3 .5-.4 .5 1.2 .5 .8 .5-6 .5 6.4 .5 .3 .5-.1 .5 .2 .5-1.5 .5 2.5 .5 0 .5 1.3 .5-.4 .5-2.5 .5 1.3 .5 3.8 .5 1 .5-.6 .5 2.5 .5 .8 .5 1.1 .5 .8 .5-4.2 .5 2.3 .5 4.3 .5 .1 .5 1.7 .5 1.4 .5 .2 .5 .7 .5 1.7 .5-1.1 .5 1.9 .5 0 .5 2.7 .5 .4 .5-.5 .5-.3 .5 2.9 .5-.4 .5 .6 .5 .7 .5-.6 .5 1.2 .5 .6 .5-1.8 .5 2.5 .5-5 .5 5.1 .5-.3 .5 .5 .5-.4 .5-.5 .5-.8 .5 .1 .5-.6 .5-2.4 .5 .3 .5 .1 .5 .6 .5-1.4 .5-.4 .5-.3 .5-1.4 .5-1.3 .5-2.4 .5 1.1 .5-.7 .5-.4 .5-1.7 .5-.1 .5-1.7 .5 .1 .5-1.8 .5-.6 .5-.9 .5-2.2 .5 .4 .5-.6 .5-.9 .5-1.2 .5-1.9 .5-4.6 .5 3.6 .5 .1 .5-2.5 .5 1.2 .5-1.5 .5 1.3 .5-.7 .5-.1 .5-.7 .5-2 .5 1.6 .5-1.3 .5 1.1 .5-.8 .5-1.3 .5-1 .5 3.5 .5 .3 .5 .1 .5 .7 .5-.5 .5 1.7 .5 .1 .5-1 .5 2.5 .5-1.3 .5 2.4 .5 .6 .5-.2 .5 1.8 .5 0 .5 .3 .5 2.3 .5 1.4 .5-.1 .5 .2 .5 2.4 .5-.7 .5-.6 .5 4.1 .5 .7 .5 1.4 .5-.1 .5 1.8 .5 .6 .5 .3 .5 1 .5 .6 .5-.2 .5 .3 .5 1.6 .5-.8 .5 2.5 .5 .3 .5-.3 .5-3 .5 3 .5-.8 .5 1.2 .5 .7 .5-.7 .5-.6 .5 .3 .5 1.3 .5-.2 .5-1.6 .5 .5 .5-.8 .5 .2 .5-1.6 .5-3.9 .5 3.8 .5-.4 .5-1.1 .5-2.1 .5 .7 .5-.6 .5-2.5 .5-1.9 .5 .8 .5 .1 .5-1.4 .5-2.3 .5-2.9 .5-3.2 .5 5.3 .5-1.8 .5-1.1 .5-.5 .5-2.2 .5 .2 .5-.4 .5-1.4 .5-2.4 .5 .1 .5 1.1 .5-1.1 .5-1.1 .5 .4 .5-1.1 .5-1.3 .5 .2 .5-1 .5 1.3 .5-.1 0 2.4-.5 1.1-.5 .9-.5-.8-.5 .4-.5 .2-.5 1.3-.5 .3-.5 .1-.5 .3-.5 .7-.5 1.7-.5 .2-.5 1.9-.5 1.1-.5 0-.5 4-.5-1.9-.5 .5-.5 .2-.5 2.2-.5-.6-.5 1.3-.5 1.2-.5 1.6-.5 .6-.5 .1-.5 .6-.5 .9-.5 1.5-.5 .5-.5 1.7-.5-.5-.5 2-.5 .5-.5 0-.5 1.2-.5-.4-.5 1.6-.5-1.5-.5 .5-.5 .1-.5 2.9-.5-2.4-.5 1.4-.5 1.5-.5-3.4-.5 1.3-.5 .8-.5-.1-.5-2.8-.5 .7-.5-.5-.5-1.6-.5 .1-.5-.2-.5-.7-.5-1.5-.5 0-.5-.3-.5-2-.5-.6-.5-.7-.5-.7-.5-.6-.5-.4-.5-1.8-.5 .6-.5 .4-.5-4.1-.5 .5-.5-2.3-.5-.9-.5 2.6-.5-2.7-.5-2.6-.5 .2-.5-1.2-.5-1-.5-1-.5-.5-.5-.3-.5-.6-.5 .8-.5-2-.5 .3-.5-.1-.5 3.8-.5-4.4-.5-.3-.5-.5-.5 .7-.5-1.5-.5 .2-.5 7-.5-6.5-.5 1.2-.5 .1-.5-.9-.5 1.1-.5-.1-.5 2-.5-.3-.5 .4-.5 .3-.5 1.1-.5 .6-.5 .4-.5 1-.5 1.7-.5 .4-.5 .8-.5 1-.5 3.2-.5-.1-.5-.6-.5 .7-.5 2.2-.5-.2-.5 1-.5 2.6-.5 1.7-.5-1.7-.5 2.6-.5-.1-.5-.1-.5 .9-.5 .6-.5 1.3-.5-.3-.5 .4-.5 .5-.5 .9-.5 .2-.5 1-.5-.4-.5 .8-.5-.1-.5 .6-.5-.8-.5 .9-.5-1.3-.5-.4-.5-.1-.5 .5-.5 .5-.5-1-.5-.5-.5 0-.5-.1-.5-.7-.5-1.5-.5-.6-.5 .7-.5-1.5-.5-.5-.5-1.7-.5-1.6-.5-.3-.5-1.5-.5-1.3-.5-.9-.5 .1-.5-.8-.5-2.2-.5 0-.5-1.1-.5-1.4-.5-.2-.5-.1-.5-1.6-.5-.4-.5-1.7-.5 .4-.5-1.5-.5-1-.5-.1-.5 1.8-.5-3-.5-1.1-.5 .7-.5-1.2-.5 .2-.5 .2-.5-.6-.5 .3-.5-.5-.5 .7-.5-.1-.5-.7-.5-.1-.5 4.6-.5-3.4-.5 .6-.5 1-.5-.9-.5 1.5-.5-.2-.5 .6-.5 2.3-.5 1.2-.5-1.5-.5 1.9-.5 2.9-.5-2.2-.5 1.1-.5 .4-.5 2.3-.5 .9-.5 .2-.5 1.2-.5 1.1-.5 .3-.5 .8-.5 2.4-.5 .5-.5 1.1-.5 1.1-.5-1.1-.5 1.8-.5-.2-.5 1.4-.5 .8-.5 .2-.5 .8-.5 .9-.5 .6-.5 .6-.5 .1-.5-.5-.5 .7-.5 .7-.5 .3-.5 .7-.5-1.9-.5 1.3-.5 .1-.5-1.9-.5 .5-.5-1-.5 .9-.5-1.9-.5 1.2-.5-1.3-.5-1.5-.5-.5-.5-.3-.5 1.2-.5-2-.5-1.1-.5-.5-.5-1.3-.5-1.1-.5-1.1-.5 3.8-.5-2.5-.5-4.1-.5-.8-.5-.9-.5 .2-.5-.5-.5-2-.5-1.2-.5 .8-.5-2.7-.5-.6-.5 1.3-.5-1.4-.5-1.4-.5-.7-.5-.1-.5 1.2-.5-3.7-.5-.4-.5-.5-.5-.1-.5-.7-.5 .1-.5 2.5-.5-3.2-.5-.3-.5 .1-.5-.1-.5 .5-.5 .4-.5-.3-.5 1.8-.5 .6-.5-.5-.5 1.1-.5 .6-.5-.8-.5 .5-.5 1.1-.5 .4-.5 .7-.5 .7-.5 2.2-.5-.7-.5 .7-.5 3.1-.5-.1-.5 .1-.5 1.6-.5 .3-.5 .8-.5 1.4-.5 .4-.5 1.2-.5 2.4-.5-.7-.5 .6-.5 2-.5 1.2-.5-.2-.5-.2-.5 .8-.5 3.8-.5 .6-.5-2-.5 .4-.5 .6-.5 .7-.5-.1-.5-.2-.5 2.2-.5-.6-.5-1-.5 1.9-.5-.3-.5-1.7-.5-.2-.5 .2-.5 1.3-.5-2.1-.5 0-.5 .1-.5-1.1-.5 .2-.5-1-.5-1.2-.5-1-.5 .1-.5-.1-.5-2-.5-.8-.5-.9-.5-.7-.5-.5-.5-.9-.5-1.6-.5 0-.5-1-.5 .6-.5-3.3-.5-.2-.5-.6-.5-1.6-.5-.4-.5-.8-.5-1.4-.5-.7-.5 2.7-.5-4.6-.5 .7-.5-1.7-.5 .8-.5-2.2-.5-.4-.5 5.5-.5-5.3-.5 .9-.5-1.5-.5-.3-.5-.3-.5-.6-.5 .4-.5 .5-.5-.1-.5 .3-.5 1.7-.5-1.8-.5 1-.5-.1-.5 1.9-.5 .5-.5-.8-.5 3.2-.5-1.9-.5 .6-.5 .5-.5 1.1-.5 .9-.5 .7-.5 1.1-.5 2-.5 .8-.5 .8-.5 .7-.5 3.4-.5-1.3-.5-.5-.5 1.4-.5 2.2-.5 1.3-.5 0-.5-.1-.5 .9-.5 1.5-.5 .2-.5 1.2-.5-.4-.5 2-.5 .7-.5 6.8-.5-5-.5-1.1-.5-.1-.5 .9-.5 0-.5-.1-.5 .1-.5 1.7-.5-.8-.5 .4-.5 .4-.5-2-.5-.1-.5-.3-.5 3.2-.5-4.2-.5 .1-.5-.4-.5-.1-.5-.7-.5 .2-.5-2.4-.5-.6-.5-1-.5-.5-.5-.8-.5 .3-.5-2.6-.5 .3-.5-1.6-.5 1-.5-.7-.5-2.5-.5-2-.5-.7-.5 1.6-.5-2-.5-2-.5 .5-.5-.6-.5-2.1-.5 1.2-.5 0-.5-3.8-.5-.3-.5-.1-.5-1.5-.5 .3-.5 .3-.5-.7-.5-.8-.5-1.1-.5 .3-.5 2.3-.5-.2-.5-2.4-.5-.3-.5 1.9-.5-1.7-.5 .6-.5 .6-.5-.3-.5 1.4-.5 .7-.5 .1-.5-.7-.5 1.4-.5 1-.5 1-.5 1-.5 .1-.5-.2-.5 1.4-.5 2.3z" fill="#1818f0" opacity="0.85"/>
<path d="M301.5 47.4l.5-.9 .5-.8 .5-.8 .5-.8 .5-.7 .5-.7 .5-.6 .5-.6 .5-.6 .5-.5 .5-.4 .5-.4 .5-.3 .5-.3 .5-.2 .5-.2 .5-.1 .5 0 .5 0 .5 .1 .5 .2 .5 .2 .5 .3 .5 .3 .5 .4 .5 .4 .5 .5 .5 .6 .5 .6 .5 .6 .5 .7 .5 .7 .5 .8 .5 .8 .5 .8 .5 .9 .5 .8 .5 .9 .5 .9 .5 1 .5 .9 .5 .9 .5 1 .5 .9 .5 .9 .5 .9 .5 .9 .5 .8 .5 .9 .5 .8 .5 .7 .5 .8 .5 .7 .5 .6 .5 .6 .5 .6 .5 .5 .5 .5 .5 .4 .5 .3 .5 .3 .5 .3 .5 .1 .5 .1 .5 .1 .5 0 .5-.1 .5-.1 .5-.2 .5-.3 .5-.3 .5-.4 .5-.4 .5-.5 .5-.5 .5-.6 .5-.6 .5-.7 .5-.7 .5-.8 .5-.7 .5-.9 .5-.8 .5-.9 .5-.9 .5-.9 .5-.9 .5-.9 .5-.9 .5-1 .5-.9 .5-.9 .5-.9 .5-.9 .5-.9 .5-.8 .5-.8 .5-.8 .5-.8 .5-.7 .5-.6 .5-.7 .5-.5 .5-.6 .5-.5 .5-.4 .5-.3 .5-.4 .5-.2 .5-.2 .5-.1 .5-.1 .5 0 .5 .1 .5 .1 .5 .2 .5 .2 .5 .3 .5 .3 .5 .5 .5 .4 .5 .5 .5 .6 .5 .6 .5 .7 .5 .7 .5 .7 .5 .8 .5 .8 .5 .9 .5 .8 .5 .9 .5 .9 .5 .9 .5 .9 .5 1 .5 .9 .5 .9 .5 .9 .5 1 .5 .8 .5 .9 .5 .9 .5 .8 .5 .8 .5 .7 .5 .8 .5 .7 .5 .6 .5 .6 .5 .5 .5 .5 .5 .5 .5 .3 .5 .4 .5 .2 .5 .2 .5 .2 .5 .1 .5 0 .5 0 .5-.1 .5-.2 .5-.2 .5-.3 .5-.3 .5-.4 .5-.5 .5-.5 .5-.5 .5-.6 .5-.7 .5-.7 .5-.7 .5-.8 .5-.8 .5-.8 .5-.9 .5-.8 .5-.9 .5-.9 .5-1 .5-.9 .5-.9 .5-.9 .5-1 .5-.9 .5-.9 .5-.9 .5-.8 .5-.8 .5-.9 .5-.7 .5-.8 .5-.6 .5-.7 .5-.6 .5-.6 .5-.5 .5-.4 .5-.4 .5-.4 .5-.3 .5-.2 .5-.2 .5-.1 .5 0 .5 0 .5 .1 .5 .1 .5 .2 .5 .3 .5 .3 .5 .4 .5 .4 .5 .5 .5 .6 .5 .6 .5 .6 .5 .7 .5 .7 .5 .7 .5 .8 .5 .8 .5 .9 .5 .9 .5 .9 .5 .9 .5 .9 .5 .9 .5 .9 .5 1 .5 .9 .5 .9 .5 .9 .5 .9 .5 .9 .5 .8 .5 .8 .5 .8 .5 .7 .5 .7 .5 .7 .5 .6 .5 .6 .5 .5 .5 .5 .5 .4 .5 .4 .5 .3 .5 .2 .5 .2 .5 .1 .5 .1 .5 0 .5-.1 .5-.1 .5-.2 .5-.2 .5-.3 .5-.4 .5-.4 .5-.5 .5-.5 .5-.6 .5-.6 .5-.7 .5-.7 .5-.7 .5-.8 .5-.8 .5-.8 .5-.9 .5-.9 .5-.9 .5-.9 .5-.9 .5-1 .5-.9 .5-.9 .5-.9 .5-.9 .5-.9 .5-.9 .5-.9 .5-.8 .5-.8 .5-.7 .5-.7 .5-.7 .5-.6 .5-.6 .5-.6 .5-.5 .5-.4 .5-.4 .5-.3 .5-.3 .5-.2 .5-.1 .5-.1 .5 0 .5 0 .5 .1 .5 .2 .5 .2 .5 .3 .5 .4 .5 .4 .5 .4 .5 .5 .5 .6 .5 .6 .5 .7 .5 .6 .5 .8 .5 .7 .5 .9 .5 .8 .5 .8 .5 .9 .5 .9 .5 .9 .5 1 .5 .9 .5 .9 .5 .9 .5 1 .5 .9 .5 .9 .5 .8 .5 .9 .5 .8 .5 .8 .5 .8 .5 .7 .5 .7 .5 .7 .5 .6 .5 .5 .5 .5 .5 .5 .5 .4 .5 .3 .5 .3 .5 .2 .5 .2 .5 .1 .5 0 .5 0 .5-.1 .5-.2 .5-.2 .5-.2 .5-.4 .5-.3 .5-.5 .5-.5 .5-.5 .5-.6 .5-.6 .5-.7 .5-.8 .5-.7 .5-.8 .5-.8 .5-.9 .5-.9 .5-.8 .5-1 .5-.9 .5-.9 .5-.9 .5-1 .5-.9 .5-.9 .5-.9 .5-.9 .5-.8 .5-.9 .5-.8 .5-.8 .5-.7 .5-.7 .5-.7 .5-.6 .5-.6 .5-.5 .5-.4 .5-.5 .5-.3 .5-.3 .5-.2 .5-.2 .5-.1 .5-.1 .5 0 .5 .1 .5 .1 .5 .2 .5 .2 .5 .4 .5 .3 .5 .4 .5 .5 .5 .6 .5 .5 .5 .7 .5 .6 .5 .7 .5 .8 .5 .8 .5 .8 .5 .8 .5 .9 .5 .9 .5 .9 .5 .9 .5 .9 .5 1 .5 .9 .5 .9 .5 .9 .5 .9 .5 .9 .5 .9 .5 .8 .5 .9 .5 .7 .5 .8 .5 .7 .5 .7 .5 .6 .5 .6 .5 .5 .5 .5 .5 .4 .5 .4 .5 .3 .5 .3 .5 .2 .5 .1 .5 .1 .5 0 .5-.1 .5-.1 .5-.1 .5-.3 .5-.3 .5-.3 .5-.4 .5-.5 .5-.5 .5-.6 .5-.6 .5-.6 .5-.7 .5-.8 .5-.7 .5-.8 .5-.9 .5-.8 .5-.9 .5-.9 .5-.9 .5-.9 .5-1 .5-.9 .5-.9 .5-1 .5-.9 .5-.9 .5-.8 .5-.9 .5-.8 .5-.8 .5-.8 .5-.7 .5-.7 .5-.6 .5-.6 .5-.6 .5-.5 .5-.4 .5-.4 .5-.3 .5-.3 .5-.2" fill="none" stroke="#1818f0" stroke-width="0.9" stroke-linejoin="round" stroke-linecap="round" opacity="0.85" />
<path d="M301.5 110l.5-1.5 .5 .7 .5 .4 .5-.7 .5 .9 .5 1 .5-1.6 .5 .1 .5 .9 .5-.6 .5-4.3 .5 2.1 .5 .5 .5-5.2 .5 4.1 .5-.1 .5-2 .5 .4 .5-1.4 .5-.7 .5-.2 .5-3.2 .5-.2 .5-2.7 .5 0 .5 .7 .5-1.8 .5 .3 .5-2.2 .5-.9 .5-.6 .5 0 .5-6.3 .5 3.3 .5-.5 .5 .4 .5-4.1 .5 1.7 .5 0 .5-2.5 .5 .1 .5 .3 .5-.2 .5-2.2 .5 .4 .5-.4 .5 .8 .5-.6 .5-.4 .5 0 .5-.8 .5 1 .5 .5 .5-.3 .5-.3 .5 .5 .5 .4 .5 .4 .5-1.3 .5 1 .5 2.2 .5 .3 .5-.1 .5 .4 .5 2.2 .5 .2 .5 .3 .5 1.5 .5 .6 .5 .3 .5 1.9 .5-3 .5 4.4 .5 1.2 .5 1.3 .5-1 .5 2.7 .5-.1 .5 1.7 .5 1.3 .5 .7 .5 .3 .5 1.7 .5 0 .5-.8 .5 .6 .5 1.9 .5 .3 .5 1.8 .5-1.4 .5 2.6 .5-2 .5 3.1 .5-1.6 .5 1.3 .5 1 .5-1 .5-.4 .5 1.1 .5-1 .5-.2 .5 .5 .5 .4 .5-.4 .5-.2 .5-.6 .5-.6 .5-1.1 .5-.7 .5-2.2 .5 0 .5-.3 .5 .3 .5-.6 .5-1.3 .5-1.3 .5-3.8 .5 1.4 .5 .1 .5-3.2 .5 .5 .5 .5 .5-6.6 .5 3.9 .5-.6 .5-1.3 .5-1 .5-3.1 .5 1.4 .5-.4 .5-1.8 .5-.9 .5-.5 .5-.1 .5-.1 .5-.8 .5-5 .5 3.7 .5-.1 .5-1.5 .5 .2 .5-1 .5 1.2 .5-.3 .5-2.3 .5 2 .5 .1 .5-.2 .5 1 .5-.2 .5-2.9 .5 4.1 .5-.4 .5 1 .5 .1 .5 .1 .5 1 .5 1 .5 1.1 .5 .3 .5-3.4 .5 5.4 .5 .9 .5 .1 .5 .3 .5 1 .5 1.7 .5-1.8 .5 3 .5-.4 .5 3.4 .5-1.5 .5 .5 .5 2.6 .5 .6 .5 2.1 .5 .3 .5 .3 .5 1.6 .5-.7 .5 2.8 .5 .4 .5 .8 .5-.2 .5-.1 .5-.4 .5 1.9 .5-1.5 .5 2.9 .5 .4 .5-2 .5 1.1 .5 1.2 .5-.1 .5-5.5 .5 2.2 .5 2.8 .5-.7 .5-.9 .5 .5 .5-3.5 .5 2.1 .5-2.3 .5-.5 .5 1.3 .5-2.2 .5-1.9 .5-.3 .5 .4 .5 0 .5-2.5 .5-.3 .5 .2 .5-.9 .5-3.9 .5 2.3 .5-1.6 .5-.3 .5-2.2 .5-1.6 .5-.9 .5-.8 .5 .3 .5-.3 .5-.9 .5-1.1 .5-3.3 .5 2.3 .5-.7 .5-1.3 .5-5.3 .5 3.4 .5 .9 .5-1.8 .5 .8 .5-.2 .5-1.1 .5-.8 .5 .2 .5 1.2 .5-1.1 .5 1.3 .5-2.3 .5 1.3 .5 1.6 .5 .2 .5 .2 .5-.1 .5-.7 .5 1.2 .5 .8 .5-4.1 .5 3.4 .5 1.6 .5 2.7 .5 0 .5 1.3 .5 1.5 .5 .6 .5-1.4 .5 3.6 .5 .5 .5 1.4 .5-2.6 .5 3.9 .5-.3 .5 1 .5-3 .5 4.7 .5 2.8 .5 .1 .5 .8 .5 .8 .5 .4 .5 .9 .5 .6 .5 1.1 .5-2.8 .5 4.2 .5 .8 .5-1.9 .5-.8 .5 3.6 .5 .5 .5-.6 .5-.6 .5 1.3 .5-.7 .5 .6 .5-.2 .5-1.4 .5-.3 .5 .9 .5-.3 .5-1.4 .5 .3 .5-1.5 .5 .9 .5-.7 .5-1.1 .5-3.2 .5 2 .5-.4 .5-2 .5 .2 .5-2.1 .5 .1 .5-2.1 .5-1.8 .5 1 .5-1.5 .5-3.6 .5 2.4 .5-3.1 .5-1 .5 .8 .5-.5 .5-.9 .5-1.3 .5-1.7 .5 .7 .5-2.7 .5-.1 .5 .5 .5-.4 .5-2.1 .5-.3 .5 .2 .5 .4 .5-1.4 .5 .6 .5-2.3 .5-1.1 .5 2.3 .5 1.1 .5-3 .5 1.5 .5 1.7 .5-2.7 .5 2.8 .5 .5 .5 .7 .5-.6 .5 1.5 .5-2.2 .5 1.2 .5 1.1 .5 1 .5-1.1 .5 4.1 .5-.2 .5 1.1 .5 1 .5 1.6 .5 .9 .5-5.8 .5 5.9 .5-.1 .5 1.1 .5 3.4 .5-.4 .5 .4 .5 1.9 .5-.4 .5-1.4 .5 3.3 .5 2.3 .5 1.6 .5 .2 .5 .9 .5 .8 .5-1.4 .5 1.2 .5 .9 .5 1.2 .5 .6 .5-.7 .5 1.5 .5 .2 .5-.1 .5-.8 .5-.8 .5 2.2 .5-2.6 .5 1.3 .5 .6 .5-.1 .5-2.4 .5 .3 .5-1.7 .5-.7 .5 1.8 .5-.5 .5-.2 .5-2.3 .5-1.2 .5 .2 .5-1.9 .5 .9 .5-.6 .5-2.2 .5 .2 .5-2.4 .5 .5 .5-.9 .5-2.9 .5 .1 .5-.5 .5-.2 .5-7.8 .5 4.8 .5 0 .5-2.8 .5 .9 .5-.3 .5-1.8 .5-.1 .5-.3 .5-1.4 .5-1.2 .5-.2 .5-.2 .5-.4 .5-4.5 .5 4.6 .5-.3 .5-.9 .5 .5 .5-.2 .5-2.3 .5 1.9 .5-2.1 .5 2.4 .5-.1 .5-.1 .5 .2 .5 .3 .5 1.4 .5 0 .5 1.9 .5 .7 .5-2.7 .5 3.4 .5 .9 .5-.4 .5-.1 .5 3.6 .5 .2 .5 1.3 .5 0 .5-.3 .5 1.6 .5 .9 .5 2.6 .5 .8 .5 .6 .5-.6 .5 2.7 .5 .6 .5 .5 .5-2.4 .5 4.3 .5 .2 .5-.3 .5 2.5 .5-.5 .5-.6 .5 1.9 .5 1.3 .5-2.8 .5 4.1 .5-.5 .5 .7 .5 .7 .5 .2 .5 0 .5-.6 .5 .5 .5 .1 .5-.2 .5-.1 .5-1.4 .5-1.3 .5-2.5 .5 .4 .5 2.9 .5-1.3 .5 .1 0 3.1-.5-.1-.5 2-.5 .2-.5 .2-.5-.8-.5 1.8-.5-.1-.5 1.1-.5-.3-.5-1.2-.5-.1-.5 1.6-.5-.2-.5 1.1-.5-1.1-.5 .1-.5-2.3-.5-.1-.5-.1-.5 .4-.5-1.6-.5-.9-.5-.7-.5-1-.5 .6-.5-1-.5-1-.5 .2-.5-1.9-.5 0-.5-1.7-.5 3.6-.5-5.6-.5-.7-.5 1.4-.5-2.5-.5-2-.5-.8-.5-1-.5-1.5-.5-1.2-.5-.8-.5 .8-.5-2.1-.5 .7-.5-1.2-.5 .4-.5-2.9-.5-.3-.5 2.6-.5-4.1-.5 1.5-.5-1.9-.5-.5-.5 .7-.5-.3-.5-.7-.5 .2-.5-.4-.5 .5-.5 0-.5-.2-.5 .2-.5 .3-.5 1.3-.5 .3-.5 2.2-.5-.6-.5 .4-.5 3.1-.5-.9-.5 8.3-.5-6.7-.5-1.6-.5 1.6-.5 .4-.5 1.6-.5 1-.5-.1-.5 2.4-.5 .5-.5 0-.5 2.5-.5 .5-.5 .6-.5 3.5-.5-.9-.5-.4-.5 2.8-.5-.8-.5 .2-.5 1.6-.5 1.7-.5-1.2-.5 1.3-.5-.1-.5 2.4-.5 .5-.5-1.4-.5 1.8-.5-.8-.5 1.1-.5 3.9-.5-1.7-.5-.1-.5 .3-.5-.8-.5-2.4-.5 .5-.5-.2-.5-.8-.5 .6-.5 .8-.5-2.1-.5-1-.5-.2-.5-.9-.5 1.3-.5-1.6-.5-1.9-.5 1.9-.5-3.2-.5 4.6-.5-6.3-.5-1.5-.5 .6-.5 .3-.5-1.3-.5-3-.5 1.6-.5-3.9-.5-.4-.5 .7-.5-1.9-.5-1.4-.5-1.1-.5 .2-.5 .2-.5-1.4-.5-1-.5-1.3-.5-.9-.5-.2-.5-.7-.5 .2-.5-1-.5-.1-.5-1.6-.5 2.4-.5 .3-.5-2.7-.5-.1-.5-.6-.5 4.6-.5-4.9-.5 .6-.5 .9-.5-.6-.5 .4-.5 .3-.5 1-.5 .1-.5 3.3-.5 .8-.5-1.6-.5-.1-.5 2.6-.5-.4-.5 .6-.5 .7-.5 1.9-.5 2.8-.5-2.2-.5 .8-.5 2.1-.5 3.3-.5 .3-.5-1.8-.5 3.1-.5 1.5-.5-1.6-.5 1.6-.5 1.3-.5 1-.5 0-.5 1-.5 .9-.5 .6-.5 .7-.5 .8-.5-.4-.5 1-.5-.4-.5 1.8-.5 0-.5 4.8-.5-3.6-.5 1.5-.5-2.1-.5-.3-.5-.2-.5 .6-.5-.9-.5 .1-.5 2.4-.5-.8-.5-.7-.5-2.3-.5-1-.5 1.1-.5-.8-.5-.9-.5-.6-.5 1.4-.5-3.4-.5-.9-.5-1.3-.5-.1-.5 .6-.5-1.2-.5-1.6-.5-1.1-.5-1.7-.5-.6-.5-1.1-.5-.8-.5-.7-.5-1.6-.5 1.1-.5-2.9-.5 1.5-.5-3.3-.5 1.5-.5-2-.5-1.7-.5-.4-.5-1.2-.5-.5-.5 8.1-.5-6.2-.5-3.5-.5 3-.5-3.2-.5 .3-.5-1.2-.5 4.3-.5-4.5-.5 .4-.5 .1-.5 .1-.5 .7-.5 .5-.5-.5-.5 .2-.5 1-.5 1.7-.5 .8-.5 .5-.5 1.2-.5-1.4-.5 1.1-.5 1.3-.5 .3-.5 .2-.5 .4-.5 2-.5 .7-.5 .9-.5 0-.5 2.4-.5 0-.5 1.8-.5-.3-.5 3-.5-.1-.5 .5-.5 2.3-.5 .2-.5 2.2-.5-.6-.5 1.5-.5-.3-.5 .7-.5-.4-.5 .6-.5 .9-.5 .5-.5 1.4-.5-.7-.5 .2-.5 .6-.5 1.8-.5 .1-.5-1.8-.5 1.2-.5-1.1-.5 .4-.5-.8-.5-.1-.5-.5-.5-.2-.5 .4-.5-1.2-.5-.6-.5-.1-.5-.9-.5 .4-.5-1.6-.5-.8-.5-1.1-.5 2.5-.5-4.4-.5 0-.5-1.5-.5-1.1-.5-.1-.5-1.7-.5 0-.5-1.3-.5-1.3-.5 3-.5-1.3-.5-4.4-.5-.2-.5-2-.5 .6-.5 .3-.5-1-.5-1.8-.5 .3-.5-1.5-.5-1.4-.5-.3-.5-1.5-.5-.4-.5-.2-.5-.5-.5-.2-.5 .7-.5 .3-.5-1.8-.5 2.5-.5-1.4-.5 .7-.5-.7-.5 1.3-.5 .7-.5-1.4-.5 2.3-.5-1.3-.5 .4-.5 1-.5-.5-.5 1.2-.5 .6-.5 1.3-.5-.2-.5 2.8-.5-.4-.5 3.5-.5-2.4-.5 2.8-.5-1.2-.5 2.1-.5 .8-.5 .9-.5 1.5-.5 .7-.5 1.8-.5-.2-.5 2.5-.5-1.3-.5 2-.5-.2-.5 2.6-.5-1.3-.5 .8-.5 1.8-.5 1-.5-.4-.5 .3-.5 .2-.5 1.4-.5-1-.5 .8-.5 1.7-.5-.4-.5-.6-.5-.3-.5-.3-.5 1-.5-.8-.5-.4-.5 .9-.5-1.4-.5-.4-.5-.2-.5 .5-.5-.6-.5-.2-.5-2-.5 .7-.5-.1-.5-2.1-.5-1.4-.5 1.1-.5-2.9-.5-.5-.5 .2-.5-2.6-.5-.4-.5 .5-.5-.5-.5-3.2-.5-.9-.5 .5-.5-1.1-.5-1.6-.5-.5-.5-1.5-.5-.9-.5 .9-.5-.2-.5-2.7-.5 .4-.5-.1-.5-2.8-.5 .5-.5 .8-.5 .1-.5-2.9-.5 0-.5-1.2-.5 2.2-.5-2.1-.5 4.8-.5-5.4-.5 .3-.5 5.7-.5-4.5-.5-.3-.5 1.1-.5 .8-.5-1-.5 .4-.5 .1-.5 .8-.5 .8-.5 .5-.5 1.5-.5 0-.5 1.4-.5 .2-.5 .9-.5 2.4-.5-1.1-.5 1.6-.5 1.4-.5 0-.5 1.3-.5 3.1-.5-1-.5 5.7-.5-4.6-.5 3.9-.5-1.7-.5 3.4-.5-.7-.5 .7-.5-.2-.5 .7-.5 3.3-.5 3.1-.5-3.8-.5-.1-.5 1-.5 .7-.5-.3-.5 1.8-.5-.4-.5-.2-.5 0-.5 2.1-.5-.8-.5-1-.5 1.6-.5 .7-.5-1.4z" fill="#d030f0" opacity="0.85"/>
<path d="M301.5 111.7l.5 .2 .5 .2 .5 .1 .5 0 .5 0 .5-.1 .5-.2 .5-.2 .5-.3 .5-.4 .5-.4 .5-.5 .5-.5 .5-.5 .5-.7 .5-.6 .5-.7 .5-.8 .5-.8 .5-.8 .5-.8 .5-.9 .5-.9 .5-.9 .5-1 .5-.9 .5-.9 .5-1 .5-.9 .5-1 .5-.9 .5-.9 .5-.9 .5-.9 .5-.8 .5-.9 .5-.7 .5-.8 .5-.7 .5-.7 .5-.6 .5-.5 .5-.6 .5-.4 .5-.4 .5-.4 .5-.3 .5-.2 .5-.2 .5-.1 .5 0 .5 0 .5 .1 .5 .2 .5 .2 .5 .2 .5 .4 .5 .4 .5 .4 .5 .5 .5 .6 .5 .6 .5 .6 .5 .7 .5 .7 .5 .8 .5 .8 .5 .9 .5 .8 .5 .9 .5 .9 .5 1 .5 .9 .5 1 .5 .9 .5 1 .5 .9 .5 .9 .5 1 .5 .9 .5 .8 .5 .9 .5 .8 .5 .8 .5 .8 .5 .7 .5 .7 .5 .6 .5 .6 .5 .5 .5 .5 .5 .4 .5 .4 .5 .3 .5 .2 .5 .2 .5 .1 .5 .1 .5 0 .5-.1 .5-.1 .5-.2 .5-.3 .5-.3 .5-.3 .5-.5 .5-.5 .5-.5 .5-.6 .5-.6 .5-.7 .5-.7 .5-.8 .5-.8 .5-.8 .5-.9 .5-.9 .5-.9 .5-.9 .5-.9 .5-1 .5-.9 .5-1 .5-.9 .5-1 .5-.9 .5-.9 .5-.9 .5-.8 .5-.9 .5-.8 .5-.8 .5-.7 .5-.7 .5-.6 .5-.6 .5-.6 .5-.5 .5-.4 .5-.4 .5-.3 .5-.3 .5-.2 .5-.1 .5-.1 .5 0 .5 .1 .5 .1 .5 .1 .5 .3 .5 .3 .5 .3 .5 .4 .5 .5 .5 .5 .5 .6 .5 .6 .5 .7 .5 .7 .5 .8 .5 .7 .5 .9 .5 .8 .5 .9 .5 .9 .5 .9 .5 .9 .5 1 .5 .9 .5 1 .5 .9 .5 1 .5 .9 .5 .9 .5 .9 .5 .9 .5 .8 .5 .8 .5 .8 .5 .8 .5 .7 .5 .6 .5 .6 .5 .6 .5 .5 .5 .5 .5 .4 .5 .3 .5 .3 .5 .2 .5 .2 .5 .1 .5 0 .5 0 .5-.1 .5-.2 .5-.2 .5-.3 .5-.3 .5-.4 .5-.5 .5-.5 .5-.5 .5-.6 .5-.7 .5-.7 .5-.7 .5-.8 .5-.8 .5-.9 .5-.8 .5-.9 .5-.9 .5-1 .5-.9 .5-1 .5-.9 .5-.9 .5-1 .5-.9 .5-.9 .5-.9 .5-.9 .5-.9 .5-.8 .5-.8 .5-.7 .5-.8 .5-.6 .5-.7 .5-.5 .5-.6 .5-.4 .5-.5 .5-.3 .5-.3 .5-.3 .5-.1 .5-.1 .5-.1 .5 0 .5 .1 .5 .1 .5 .2 .5 .3 .5 .3 .5 .4 .5 .4 .5 .5 .5 .5 .5 .6 .5 .7 .5 .7 .5 .7 .5 .8 .5 .8 .5 .8 .5 .9 .5 .9 .5 .9 .5 .9 .5 .9 .5 1 .5 .9 .5 1 .5 .9 .5 .9 .5 1 .5 .9 .5 .9 .5 .8 .5 .9 .5 .8 .5 .7 .5 .8 .5 .6 .5 .7 .5 .6 .5 .5 .5 .5 .5 .4 .5 .4 .5 .3 .5 .3 .5 .2 .5 .1 .5 .1 .5 0 .5-.1 .5-.1 .5-.2 .5-.2 .5-.3 .5-.4 .5-.4 .5-.5 .5-.5 .5-.6 .5-.6 .5-.7 .5-.7 .5-.7 .5-.8 .5-.8 .5-.9 .5-.9 .5-.9 .5-.9 .5-.9 .5-1 .5-.9 .5-1 .5-.9 .5-1 .5-.9 .5-.9 .5-.9 .5-.9 .5-.8 .5-.8 .5-.8 .5-.7 .5-.7 .5-.7 .5-.6 .5-.6 .5-.5 .5-.4 .5-.4 .5-.3 .5-.3 .5-.2 .5-.2 .5-.1 .5 0 .5 0 .5 .1 .5 .2 .5 .2 .5 .3 .5 .3 .5 .4 .5 .5 .5 .5 .5 .6 .5 .6 .5 .7 .5 .7 .5 .7 .5 .8 .5 .8 .5 .8 .5 .9 .5 .9 .5 .9 .5 1 .5 .9 .5 .9 .5 1 .5 .9 .5 1 .5 .9 .5 .9 .5 .9 .5 .9 .5 .9 .5 .8 .5 .8 .5 .7 .5 .7 .5 .7 .5 .6 .5 .6 .5 .5 .5 .5 .5 .4 .5 .3 .5 .3 .5 .3 .5 .1 .5 .2 .5 0 .5 0 .5-.1 .5-.1 .5-.2 .5-.3 .5-.3 .5-.4 .5-.5 .5-.5 .5-.5 .5-.6 .5-.6 .5-.7 .5-.8 .5-.7 .5-.9 .5-.8 .5-.9 .5-.8 .5-1 .5-.9 .5-.9 .5-1 .5-.9 .5-1 .5-.9 .5-.9 .5-1 .5-.9 .5-.9 .5-.8 .5-.8 .5-.8 .5-.8 .5-.7 .5-.7 .5-.6 .5-.6 .5-.6 .5-.4 .5-.5 .5-.3 .5-.4 .5-.2 .5-.2 .5-.1 .5-.1 .5 0 .5 .1 .5 .1 .5 .2 .5 .2 .5 .3 .5 .4 .5 .4 .5 .5 .5 .5 .5 .6 .5 .7 .5 .6 .5 .7 .5 .8 .5 .8 .5 .8 .5 .9 .5 .9 .5 .9 .5 .9 .5 .9 .5 1 .5 .9 .5 1 .5 .9 .5 1 .5 .9 .5 .9 .5 .9 .5 .9 .5 .8 .5 .8 .5 .8 .5 .7 .5 .7 .5 .7 .5 .6 .5 .5 .5 .5 .5 .5 .5 .3 .5 .4 .5 .2 .5 .2 .5 .2 .5 .1 .5 0 .5 0 .5-.1 .5-.2 .5-.2 .5-.3 .5-.4 .5-.4 .5-.5 .5-.5 .5-.5 .5-.7" fill="none" stroke="#d030f0" stroke-width="0.9" stroke-linejoin="round" stroke-linecap="round" opacity="0.85" />
<path d="M301.5 128.3l.5 1.8 .5 0 .5 .6 .5 1.7 .5-1.7 .5-1.3 .5 3.9 .5 3.4 .5 .8 .5 .3 .5 .9 .5 1.4 .5 1.5 .5 .7 .5 .9 .5 .8 .5 .5 .5 1.7 .5-1.6 .5 3 .5-.9 .5 1.5 .5 .2 .5 1.6 .5-.7 .5 1.2 .5 1.5 .5 .4 .5-2.1 .5 2.1 .5 .5 .5-.1 .5 0 .5 .8 .5 0 .5-1.2 .5-.3 .5-2 .5 .2 .5 1.1 .5 .3 .5-.1 .5-2.5 .5 1.1 .5-.5 .5-2.7 .5 1.4 .5-2.7 .5 .8 .5-.6 .5-2.4 .5 .9 .5-2.3 .5-2.2 .5 .3 .5-.3 .5-1.4 .5-.6 .5-1.3 .5 0 .5-1.2 .5-2.6 .5-2.2 .5 .3 .5 1 .5-1.9 .5-2.7 .5 2 .5-.9 .5 .2 .5-1.6 .5 0 .5-2.3 .5-1.4 .5 2.2 .5-3.8 .5 3.4 .5-.1 .5-1.7 .5 1.4 .5-1.4 .5-3.3 .5 3.4 .5 1.4 .5 .3 .5-1.5 .5 1.4 .5-.6 .5 2 .5-5.3 .5 4.7 .5 1.3 .5 1.7 .5-.4 .5 1.2 .5 1.5 .5-.1 .5 .9 .5 1 .5 1.2 .5 1.2 .5-.4 .5 1.3 .5 1.7 .5 .1 .5 1.7 .5-.4 .5 1.9 .5 .9 .5 1.4 .5 1.3 .5-1.2 .5 2.2 .5 0 .5-1.8 .5 4.4 .5 .8 .5-1.1 .5 2.5 .5 .1 .5 .8 .5-1.8 .5 2.4 .5 .3 .5 .5 .5-.8 .5 .3 .5-.3 .5-.6 .5-1.3 .5 3 .5-1.4 .5 1.1 .5-.4 .5-2 .5-1.7 .5 .7 .5 .5 .5-.7 .5-.7 .5-.2 .5-.4 .5-.6 .5-.8 .5-1.2 .5-2.5 .5 .6 .5-1.6 .5-.4 .5-1.3 .5-.8 .5-.2 .5-3.6 .5 .3 .5-1 .5 0 .5-.7 .5-.6 .5-1.4 .5-1.3 .5-.3 .5-.7 .5-.6 .5-.3 .5-1.1 .5-1.2 .5-1 .5-.7 .5 .8 .5-1.3 .5 .5 .5-2 .5 1 .5-.7 .5 .5 .5 .1 .5-2.5 .5 2.9 .5-.3 .5-1.9 .5 2.6 .5 1.1 .5-.3 .5 1.3 .5-4.9 .5 5.3 .5 1.3 .5-.3 .5 1.7 .5-.6 .5 1.8 .5 .9 .5 1.1 .5 0 .5 .1 .5-1.3 .5 3.6 .5 1.9 .5 1 .5 .3 .5-.1 .5 2.6 .5 1 .5-.2 .5 1.6 .5 1.5 .5 0 .5 1.4 .5-1.9 .5 3 .5 .2 .5 1.1 .5-2.3 .5 3.4 .5 1 .5-.6 .5 2 .5-2.2 .5 2.2 .5 .3 .5-.4 .5 1 .5-.4 .5 .6 .5-.5 .5 .2 .5-1.3 .5-.8 .5 1.2 .5-.7 .5-1.2 .5 0 .5-1.6 .5 .9 .5-1.8 .5 .5 .5-.5 .5-1.7 .5-.3 .5-1.4 .5-1.8 .5 1 .5-1.7 .5-1.3 .5-1.3 .5-1.7 .5 .5 .5-3.5 .5 1.3 .5 .1 .5-1.8 .5-.4 .5-1 .5-3.3 .5 1.5 .5-.7 .5-.7 .5-.5 .5-.9 .5-1.6 .5 .8 .5-6.4 .5 5.3 .5-1.3 .5 .6 .5-2.4 .5-.7 .5 1.8 .5-1.5 .5 .5 .5-.9 .5 .9 .5 .5 .5-.4 .5 1.5 .5-1.2 .5 2.3 .5 0 .5 .2 .5-1.1 .5 2.6 .5-.4 .5 .7 .5 1.4 .5 .7 .5 1.5 .5 .8 .5 .6 .5 1.2 .5 .9 .5 .7 .5 1.1 .5 1.1 .5 .5 .5 .2 .5 0 .5 1.7 .5 .8 .5 1.5 .5 .8 .5 1.9 .5 .8 .5 .5 .5-3.2 .5 2 .5 3.7 .5-.2 .5 .6 .5-.5 .5 1.2 .5 1.2 .5 .4 .5-1.7 .5 2.7 .5-1 .5 .6 .5 .8 .5-.7 .5 .3 .5-.8 .5 .1 .5-.4 .5 .4 .5-.5 .5 .1 .5-2 .5 1 .5-1.5 .5-.7 .5-1 .5-.6 .5 .5 .5-3.7 .5 .5 .5-.1 .5-.4 .5-1.7 .5-.8 .5 .1 .5-1.1 .5-2.3 .5 .2 .5-2.5 .5 0 .5-1.5 .5 .4 .5-5.1 .5 3.3 .5-1.8 .5-.3 .5-1.9 .5 0 .5-1.2 .5-.9 .5 .1 .5-.5 .5-.9 .5 .3 .5-.8 .5-.3 .5 .6 .5-1.4 .5-1.1 .5 1.1 .5 .6 .5-.3 .5-.2 .5-.3 .5 .9 .5 .3 .5 .1 .5 .5 .5 .9 .5-.2 .5 1.6 .5-.7 .5 2 .5-1.9 .5 .5 .5 3.2 .5 1.2 .5-1.5 .5 1.8 .5 1.6 .5 .6 .5 1.7 .5 .9 .5 .6 .5-2 .5 2.5 .5 2.4 .5-1.9 .5 3.2 .5 1.4 .5 1.6 .5-3.1 .5 3 .5 1.5 .5 .5 .5 1.5 .5 1 .5 .2 .5 1 .5 .3 .5-1.6 .5 .1 .5 2.9 .5 .6 .5-.6 .5 .7 .5-.7 .5 1.1 .5 .1 .5-.2 .5-.5 .5-1.5 .5 1.2 .5-.1 .5-.7 .5-.9 .5-.1 .5-.1 .5-.8 .5-1.4 .5-2.9 .5 1.8 .5-1.4 .5 .5 .5-2.6 .5 0 .5 .1 .5-2.4 .5 .4 .5-2.3 .5-.3 .5-.7 .5-2.2 .5-1.1 .5 .3 .5-.7 .5-1.4 .5-1.9 .5-1 .5 .3 .5 .2 .5-1.6 .5-.7 .5-.1 .5-2.6 .5 1.4 .5-1.4 .5-1.9 .5 .8 .5 .4 .5-1.3 .5-.9 .5 .7 .5-2.6 .5 2.8 .5 .3 .5 .2 .5-2.3 .5 1.4 .5 1.3 .5 .3 .5-.8 .5-2.7 .5 3.2 .5-.7 .5 3.2 .5 .7 .5-1.1 .5 2.9 .5 .2 .5 .2 .5 1 .5 1.7 .5 .7 .5 .5 .5 .2 .5 1.3 .5 1.8 .5 .3 .5 1.7 .5 .7 .5 .3 .5 1.6 .5-.9 0 7-.5-3.3-.5-1.2-.5 .7-.5-1.6-.5-.5-.5-.1-.5-3.2-.5-.6-.5-1-.5-.5-.5 .2-.5-2.7-.5-.6-.5 .1-.5-1.1-.5-1.4-.5-.8-.5-.3-.5-.2-.5-.1-.5 2.4-.5-.4-.5-4.2-.5 .3-.5-.9-.5 4.3-.5-4.5-.5 1.1-.5-1-.5-.2-.5 .1-.5 .3-.5 1.8-.5-1.3-.5 2.2-.5 .3-.5-.4-.5 .2-.5 .2-.5 1.7-.5 1.6-.5-.5-.5 1.1-.5-.3-.5 1.7-.5 .9-.5 0-.5 1.3-.5 2.8-.5-.2-.5 .3-.5 1.1-.5 3.5-.5-1.3-.5 1.4-.5-.3-.5 2.2-.5 3.6-.5-2.3-.5 .2-.5 .5-.5 2.2-.5-.5-.5 1.1-.5 .7-.5 .9-.5-.2-.5 .4-.5 5-.5-2-.5 .1-.5-1.7-.5 .7-.5-.5-.5 .8-.5-.2-.5-.3-.5-.4-.5 .1-.5 0-.5 1.5-.5-2.6-.5-.1-.5 .9-.5-1.3-.5-.7-.5-.6-.5-.9-.5-1.3-.5-.7-.5 .3-.5-.1-.5-.2-.5-3.4-.5 .4-.5-1.4-.5-1.7-.5-.4-.5 2.8-.5-5.4-.5 .2-.5-1.8-.5 .7-.5-2.8-.5 .4-.5-1.1-.5-2-.5-.8-.5 .6-.5-.3-.5-.4-.5-1.6-.5-1.1-.5-1-.5 3.5-.5-2.9-.5-1.6-.5-.6-.5 .5-.5 .6-.5-2.1-.5 .5-.5-.8-.5 .5-.5 1.1-.5-.9-.5 0-.5 1.1-.5 1.3-.5-1.4-.5 2.3-.5-.5-.5-.4-.5 1-.5 2.5-.5-.4-.5 .7-.5 .5-.5 .8-.5 1.3-.5 .8-.5-.2-.5 1.6-.5 .9-.5 1.8-.5 .1-.5 1.3-.5 0-.5 1.2-.5 .6-.5 1.9-.5 3.3-.5-.6-.5-.8-.5 4.9-.5-3.2-.5 .8-.5 .7-.5 2.8-.5-.5-.5-.5-.5 4.6-.5-2.4-.5 1-.5-.4-.5-.7-.5 1-.5 1.5-.5 .6-.5-2.6-.5 1.2-.5-1.1-.5-.3-.5 .1-.5 0-.5 1.6-.5-2.8-.5-.3-.5-.3-.5-.1-.5-1.7-.5-.4-.5-.9-.5 .6-.5-1.7-.5 .8-.5-1.5-.5-2-.5 1.7-.5-3.2-.5-1.2-.5 1.4-.5-3.4-.5-.5-.5-1-.5-1.1-.5-1.2-.5 1-.5-2.6-.5 1.2-.5-1.8-.5-2-.5 .8-.5 .6-.5-4.1-.5 2.9-.5-4.3-.5 .5-.5-1.5-.5-.6-.5 .9-.5-1.4-.5-.1-.5 1.7-.5-1.1-.5-1.3-.5 .3-.5 .8-.5-1.5-.5 .9-.5 .4-.5-.6-.5 .4-.5 .6-.5 .2-.5 1.1-.5 .2-.5 .4-.5 2.2-.5 2.9-.5-3.2-.5 4.2-.5 .2-.5-1.8-.5 3.1-.5 .3-.5-.9-.5 .8-.5 4.2-.5-2.2-.5 2.9-.5 .1-.5 0-.5 2.2-.5 1-.5 0-.5 .7-.5 .8-.5 .7-.5 1.4-.5 2.9-.5-1.5-.5 3.3-.5-1.2-.5-.3-.5 .5-.5 .5-.5 1.3-.5 1.5-.5-1.6-.5-.3-.5 1.8-.5 1.4-.5-2.1-.5 1-.5 0-.5-.7-.5-.1-.5-.9-.5-.4-.5-.1-.5-1.1-.5 .8-.5 .1-.5-1.8-.5-.9-.5-.7-.5-.1-.5-1.5-.5 0-.5-1.3-.5-1.1-.5-.3-.5-1.4-.5 .1-.5-1.4-.5-1.7-.5 .8-.5 4.5-.5-8-.5 1.6-.5-.4-.5-3.5-.5-.3-.5-1.8-.5 .3-.5-2.5-.5 .9-.5-1.1-.5-1.2-.5-.2-.5-1.9-.5-.4-.5-.3-.5 .9-.5-.9-.5 .1-.5-2-.5-.3-.5 1.6-.5-1.3-.5-.5-.5 .6-.5-.5-.5 2.5-.5-.6-.5-.7-.5-.3-.5 .8-.5 3-.5-2.3-.5 .5-.5 .9-.5 4.4-.5-2.9-.5 1-.5 .5-.5 .7-.5 .6-.5 1-.5 .7-.5 .9-.5 1.2-.5 .7-.5 1.4-.5 .9-.5 1.7-.5 3.1-.5 .5-.5-1.9-.5 1.9-.5 .4-.5 1.3-.5 .8-.5 3.1-.5-.9-.5-.2-.5 .9-.5 1.7-.5 1.7-.5 1.4-.5-3.2-.5 1.6-.5-.9-.5 .9-.5-.3-.5 .8-.5-.3-.5 1.1-.5 .2-.5-1-.5-.8-.5 .2-.5-.2-.5 2.4-.5-2.7-.5-.6-.5 1-.5 3.2-.5-4-.5-3.2-.5 .1-.5-1.3-.5 .2-.5-.9-.5-1.7-.5-.6-.5-.5-.5-.4-.5 .1-.5-1.4-.5-2.3-.5 1.2-.5-2.3-.5-2.1-.5-.1-.5-.6-.5-2.3-.5 .3-.5-.7-.5-2.1-.5 .8-.5-2.6-.5 1.6-.5-2.2-.5-1.2-.5 1.2-.5-2.4-.5-.5-.5-.6-.5 .9-.5-1.1-.5 4.2-.5-2.3-.5-2.7-.5 1.1-.5-.7-.5 4.4-.5-5.1-.5 .3-.5 .2-.5 .6-.5 .4-.5 0-.5 .8-.5 .2-.5 1.5-.5 1.2-.5-.4-.5 .8-.5 .4-.5 2-.5-.1-.5 1.1-.5 1-.5 3.6-.5-.6-.5 1.8-.5-1.3-.5 1.4-.5 .9-.5 1.3-.5 0-.5 1.1-.5 .7-.5 2.2-.5 0-.5 .8-.5 .9-.5 1-.5 0-.5 1-.5 .7-.5 .2-.5 .7-.5 .3-.5 .5-.5 3.3-.5-2.3-.5 .2-.5 2.1-.5-1.1-.5-.6-.5 2.2-.5-1-.5-.9-.5 1.4-.5-1.3-.5 3-.5-2.9-.5-.9-.5-.7-.5-1.1-.5 .4-.5-1.1-.5-1.5-.5 1-.5-1.3-.5-1.6-.5-.7-.5-.5-.5-.9-.5-1.7-.5 1.9-.5-2.5-.5 1.3-.5-4.4-.5-.8-.5 1.4-.5-2.6-.5 1.7-.5-3.4-.5-1.5-.5 .1-.5-1.9-.5 .9-.5-2.7-.5-.5z" fill="#bb9418" opacity="0.85"/>
<path d="M301.5 131.1l.5 .7 .5 .8 .5 .9 .5 .8 .5 .9 .5 .9 .5 1 .5 .9 .5 .9 .5 1 .5 1 .5 .9 .5 1 .5 .9 .5 .9 .5 .9 .5 .9 .5 .8 .5 .9 .5 .7 .5 .8 .5 .7 .5 .6 .5 .7 .5 .5 .5 .5 .5 .5 .5 .4 .5 .3 .5 .3 .5 .2 .5 .2 .5 .1 .5 0 .5 0 .5-.1 .5-.2 .5-.2 .5-.3 .5-.3 .5-.4 .5-.5 .5-.5 .5-.6 .5-.6 .5-.7 .5-.7 .5-.7 .5-.8 .5-.8 .5-.9 .5-.9 .5-.9 .5-.9 .5-.9 .5-1 .5-.9 .5-1 .5-.9 .5-1 .5-.9 .5-.9 .5-.9 .5-.9 .5-.9 .5-.8 .5-.8 .5-.8 .5-.7 .5-.7 .5-.6 .5-.6 .5-.5 .5-.5 .5-.4 .5-.3 .5-.3 .5-.3 .5-.1 .5-.1 .5-.1 .5 0 .5 .1 .5 .1 .5 .2 .5 .3 .5 .3 .5 .4 .5 .5 .5 .5 .5 .5 .5 .6 .5 .7 .5 .7 .5 .7 .5 .8 .5 .8 .5 .8 .5 .9 .5 .9 .5 .9 .5 .9 .5 1 .5 .9 .5 1 .5 .9 .5 1 .5 .9 .5 1 .5 .9 .5 .9 .5 .8 .5 .9 .5 .8 .5 .7 .5 .8 .5 .7 .5 .6 .5 .6 .5 .5 .5 .5 .5 .5 .5 .3 .5 .3 .5 .3 .5 .2 .5 .1 .5 .1 .5 0 .5-.1 .5-.1 .5-.2 .5-.2 .5-.3 .5-.4 .5-.4 .5-.5 .5-.5 .5-.6 .5-.7 .5-.6 .5-.8 .5-.7 .5-.8 .5-.9 .5-.8 .5-.9 .5-.9 .5-.9 .5-1 .5-.9 .5-1 .5-.9 .5-1 .5-.9 .5-1 .5-.9 .5-.9 .5-.9 .5-.8 .5-.8 .5-.8 .5-.8 .5-.7 .5-.6 .5-.6 .5-.6 .5-.5 .5-.4 .5-.4 .5-.4 .5-.2 .5-.2 .5-.2 .5-.1 .5 0 .5 0 .5 .1 .5 .2 .5 .2 .5 .3 .5 .4 .5 .4 .5 .5 .5 .5 .5 .5 .5 .7 .5 .6 .5 .7 .5 .8 .5 .8 .5 .8 .5 .9 .5 .8 .5 .9 .5 1 .5 .9 .5 1 .5 .9 .5 1 .5 .9 .5 1 .5 .9 .5 .9 .5 .9 .5 .9 .5 .9 .5 .8 .5 .8 .5 .7 .5 .7 .5 .7 .5 .6 .5 .6 .5 .5 .5 .5 .5 .4 .5 .4 .5 .3 .5 .2 .5 .2 .5 .1 .5 0 .5 0 .5-.1 .5-.2 .5-.2 .5-.2 .5-.4 .5-.4 .5-.4 .5-.5 .5-.6 .5-.6 .5-.6 .5-.7 .5-.8 .5-.7 .5-.9 .5-.8 .5-.9 .5-.9 .5-.9 .5-.9 .5-1 .5-.9 .5-1 .5-.9 .5-1 .5-.9 .5-.9 .5-1 .5-.8 .5-.9 .5-.8 .5-.8 .5-.8 .5-.7 .5-.7 .5-.7 .5-.5 .5-.6 .5-.5 .5-.4 .5-.4 .5-.3 .5-.2 .5-.2 .5-.1 .5-.1 .5 0 .5 .1 .5 .1 .5 .2 .5 .2 .5 .4 .5 .3 .5 .5 .5 .5 .5 .5 .5 .6 .5 .6 .5 .7 .5 .7 .5 .8 .5 .8 .5 .8 .5 .9 .5 .9 .5 .9 .5 .9 .5 1 .5 .9 .5 1 .5 .9 .5 1 .5 .9 .5 1 .5 .9 .5 .9 .5 .9 .5 .8 .5 .8 .5 .8 .5 .7 .5 .7 .5 .7 .5 .6 .5 .5 .5 .5 .5 .5 .5 .4 .5 .3 .5 .3 .5 .2 .5 .1 .5 .1 .5 0 .5 0 .5-.2 .5-.1 .5-.3 .5-.3 .5-.3 .5-.4 .5-.5 .5-.5 .5-.6 .5-.6 .5-.7 .5-.7 .5-.8 .5-.8 .5-.8 .5-.8 .5-.9 .5-.9 .5-1 .5-.9 .5-.9 .5-1 .5-1 .5-.9 .5-1 .5-.9 .5-.9 .5-.9 .5-.9 .5-.9 .5-.8 .5-.8 .5-.7 .5-.7 .5-.7 .5-.6 .5-.6 .5-.5 .5-.4 .5-.4 .5-.4 .5-.3 .5-.2 .5-.2 .5-.1 .5 0 .5 0 .5 .1 .5 .2 .5 .2 .5 .3 .5 .3 .5 .4 .5 .5 .5 .5 .5 .5 .5 .6 .5 .7 .5 .7 .5 .7 .5 .8 .5 .8 .5 .9 .5 .9 .5 .9 .5 .9 .5 .9 .5 1 .5 .9 .5 1 .5 .9 .5 1 .5 .9 .5 .9 .5 1 .5 .8 .5 .9 .5 .8 .5 .8 .5 .8 .5 .7 .5 .7 .5 .6 .5 .6 .5 .5 .5 .5 .5 .4 .5 .4 .5 .3 .5 .2 .5 .2 .5 .1 .5 .1 .5 0 .5-.1 .5-.1 .5-.2 .5-.3 .5-.3 .5-.4 .5-.4 .5-.5 .5-.5 .5-.6 .5-.7 .5-.7 .5-.7 .5-.8 .5-.8 .5-.8 .5-.9 .5-.9 .5-.9 .5-.9 .5-1 .5-.9 .5-1 .5-.9 .5-1 .5-.9 .5-1 .5-.9 .5-.9 .5-.8 .5-.9 .5-.8 .5-.8 .5-.7 .5-.7 .5-.6 .5-.6 .5-.6 .5-.5 .5-.4 .5-.4 .5-.3 .5-.3 .5-.2 .5-.1 .5-.1 .5 0 .5 .1 .5 .1 .5 .2 .5 .2 .5 .3 .5 .4 .5 .4 .5 .4 .5 .6 .5 .6 .5 .6 .5 .7 .5 .7 .5 .7 .5 .8 .5 .9 .5 .8 .5 .9 .5 .9 .5 1 .5 .9 .5 .9 .5 1 .5 1 .5 .9 .5 1 .5 .9 .5 .9" fill="none" stroke="#bb9418" stroke-width="0.9" stroke-linejoin="round" stroke-linecap="round" opacity="0.85" />
<g opacity="0.8"><text x="295.6" y="56.5" fill="#1818f0" font-family="Liberation Sans, Arial, sans-serif" font-size="5.2" opacity="0.75">1</text><path d="M297.6 50.7 L300.2 52.3 L297.6 53.9 Z" fill="#1818f0"/><path d="M297.2 45.8 h2.6 M298.5 45.8 v3" stroke="#1818f0" stroke-width="0.7" fill="none" opacity="0.7"/></g>
<g opacity="0.8"><text x="295.6" y="102.1" fill="#c800ee" font-family="Liberation Sans, Arial, sans-serif" font-size="5.2" opacity="0.75">2</text><path d="M297.6 96.3 L300.2 97.9 L297.6 99.5 Z" fill="#c800ee"/></g>
<g opacity="0.8"><text x="295.6" y="144.2" fill="#bb9418" font-family="Liberation Sans, Arial, sans-serif" font-size="5.2" opacity="0.75">3</text><path d="M297.6 138.4 L300.2 140 L297.6 141.6 Z" fill="#bb9418"/></g>
<line x1="300.5" y1="12.7" x2="300.5" y2="173.6" stroke="#9a9a9a" stroke-width="1.1"/>
<line x1="294.8" y1="12.7" x2="546.2" y2="12.7" stroke="#a8a8a8" stroke-width="1.7"/>
<rect x="294.8" y="4.2" width="251.4" height="169.4" fill="none" stroke="#3a3a3a" stroke-width="1.2"/>
<path d="M421.6 11.9 L425.6 11.9 L423.6 14.5 Z" fill="#1a60e0"/>
<text x="297.1" y="10.6" fill="#5a5aff" font-family="Liberation Sans, Arial, sans-serif" font-size="6.6">1</text>
<text x="306.5" y="10.6" fill="#4a4a4a" font-family="Liberation Sans, Arial, sans-serif" font-size="6.6" textLength="13.1" lengthAdjust="spacingAndGlyphs">2.0A/</text>
<text x="328.4" y="10.6" fill="#e050f0" font-family="Liberation Sans, Arial, sans-serif" font-size="6.6">2</text>
<text x="338.5" y="10.6" fill="#4a4a4a" font-family="Liberation Sans, Arial, sans-serif" font-size="6.6" textLength="13.1" lengthAdjust="spacingAndGlyphs">2.0A/</text>
<text x="360.4" y="10.6" fill="#d4b860" font-family="Liberation Sans, Arial, sans-serif" font-size="6.6">3</text>
<text x="370.9" y="10.6" fill="#4a4a4a" font-family="Liberation Sans, Arial, sans-serif" font-size="6.6" textLength="13.1" lengthAdjust="spacingAndGlyphs">2.0A/</text>
<text x="392.7" y="10.6" fill="#30d080" font-family="Liberation Sans, Arial, sans-serif" font-size="6.6">4</text>
<text x="460" y="10.6" fill="#4a4a4a" font-family="Liberation Sans, Arial, sans-serif" font-size="6.6" textLength="9" lengthAdjust="spacingAndGlyphs">0.0s</text>
<text x="487" y="10.6" fill="#4a4a4a" font-family="Liberation Sans, Arial, sans-serif" font-size="6.6" textLength="19" lengthAdjust="spacingAndGlyphs">10.40ms/</text>
<text x="522" y="10.6" fill="#4a4a4a" font-family="Liberation Sans, Arial, sans-serif" font-size="6.6" textLength="11" lengthAdjust="spacingAndGlyphs">Auto</text>
<text x="470.3" y="23.3" font-family="Liberation Serif, Times New Roman, serif" fill="#1e1e1e" stroke="#1e1e1e" stroke-width="0.25" font-size="11.3">I</text>
<text x="473" y="24.8" font-family="Liberation Serif, Times New Roman, serif" fill="#1e1e1e" fill-opacity="0.85" font-size="7.3" textLength="6.7" lengthAdjust="spacingAndGlyphs">sa</text>
<text x="480.3" y="23.3" font-family="Liberation Serif, Times New Roman, serif" fill="#1e1e1e" font-size="11.3" textLength="15" lengthAdjust="spacingAndGlyphs">(A)</text>
<line x1="473.7" y1="27.7" x2="464.5" y2="37.5" stroke="#111" stroke-width="1.25"/>
<path d="M461.1 41.1 L463 35.5 L466.6 38.9 Z" fill="#111"/>
<text x="485.7" y="74.2" font-family="Liberation Serif, Times New Roman, serif" fill="#1e1e1e" stroke="#1e1e1e" stroke-width="0.25" font-size="11.3">I</text>
<text x="488.7" y="75.9" font-family="Liberation Serif, Times New Roman, serif" fill="#1e1e1e" fill-opacity="0.85" font-size="7.3" textLength="7" lengthAdjust="spacingAndGlyphs">sb</text>
<text x="496.3" y="74.2" font-family="Liberation Serif, Times New Roman, serif" fill="#1e1e1e" font-size="11.3" textLength="14.7" lengthAdjust="spacingAndGlyphs">(A)</text>
<line x1="492.9" y1="77.2" x2="482.5" y2="87.1" stroke="#111" stroke-width="1.25"/>
<path d="M478.9 90.5 L481.1 85 L484.5 88.6 Z" fill="#111"/>
<text x="505.9" y="118.6" font-family="Liberation Serif, Times New Roman, serif" fill="#1e1e1e" stroke="#1e1e1e" stroke-width="0.25" font-size="11.3">I</text>
<text x="508.6" y="119.6" font-family="Liberation Serif, Times New Roman, serif" fill="#1e1e1e" fill-opacity="0.85" font-size="7.3" textLength="6" lengthAdjust="spacingAndGlyphs">sc</text>
<text x="515.3" y="118.6" font-family="Liberation Serif, Times New Roman, serif" fill="#1e1e1e" font-size="11.3" textLength="14.7" lengthAdjust="spacingAndGlyphs">(A)</text>
<line x1="506.1" y1="121" x2="498.4" y2="129.2" stroke="#111" stroke-width="1.25"/>
<path d="M495 132.8 L496.9 127.2 L500.5 130.6 Z" fill="#111"/>
<line x1="37.5" y1="205.4" x2="37.5" y2="370.6" stroke="#dedede" stroke-width="0.95"/>
<line x1="62.3" y1="205.4" x2="62.3" y2="370.6" stroke="#dedede" stroke-width="0.95"/>
<line x1="87.2" y1="205.4" x2="87.2" y2="370.6" stroke="#dedede" stroke-width="0.95"/>
<line x1="112" y1="205.4" x2="112" y2="370.6" stroke="#dedede" stroke-width="0.95"/>
<line x1="161.8" y1="205.4" x2="161.8" y2="370.6" stroke="#dedede" stroke-width="0.95"/>
<line x1="186.6" y1="205.4" x2="186.6" y2="370.6" stroke="#dedede" stroke-width="0.95"/>
<line x1="211.5" y1="205.4" x2="211.5" y2="370.6" stroke="#dedede" stroke-width="0.95"/>
<line x1="236.3" y1="205.4" x2="236.3" y2="370.6" stroke="#dedede" stroke-width="0.95"/>
<line x1="12.6" y1="226.1" x2="261.2" y2="226.1" stroke="#dedede" stroke-width="0.95"/>
<line x1="12.6" y1="246.7" x2="261.2" y2="246.7" stroke="#dedede" stroke-width="0.95"/>
<line x1="12.6" y1="267.4" x2="261.2" y2="267.4" stroke="#dedede" stroke-width="0.95"/>
<line x1="12.6" y1="308.7" x2="261.2" y2="308.7" stroke="#dedede" stroke-width="0.95"/>
<line x1="12.6" y1="329.3" x2="261.2" y2="329.3" stroke="#dedede" stroke-width="0.95"/>
<line x1="12.6" y1="350" x2="261.2" y2="350" stroke="#dedede" stroke-width="0.95"/>
<line x1="136.9" y1="205.4" x2="136.9" y2="370.6" stroke="#d8d8d8" stroke-width="0.9"/>
<line x1="12.6" y1="288" x2="261.2" y2="288" stroke="#d8d8d8" stroke-width="0.9"/>
<path d="M17.6 287.1v1.8M22.5 287.1v1.8M27.5 287.1v1.8M32.5 287.1v1.8M42.4 287.1v1.8M47.4 287.1v1.8M52.4 287.1v1.8M57.3 287.1v1.8M67.3 287.1v1.8M72.3 287.1v1.8M77.2 287.1v1.8M82.2 287.1v1.8M92.2 287.1v1.8M97.1 287.1v1.8M102.1 287.1v1.8M107.1 287.1v1.8M117 287.1v1.8M122 287.1v1.8M127 287.1v1.8M131.9 287.1v1.8M141.9 287.1v1.8M146.8 287.1v1.8M151.8 287.1v1.8M156.8 287.1v1.8M166.7 287.1v1.8M171.7 287.1v1.8M176.7 287.1v1.8M181.6 287.1v1.8M191.6 287.1v1.8M196.6 287.1v1.8M201.5 287.1v1.8M206.5 287.1v1.8M216.5 287.1v1.8M221.4 287.1v1.8M226.4 287.1v1.8M231.4 287.1v1.8M241.3 287.1v1.8M246.3 287.1v1.8M251.3 287.1v1.8M256.2 287.1v1.8M136 209.6h1.8M136 213.7h1.8M136 217.8h1.8M136 222h1.8M136 230.2h1.8M136 234.4h1.8M136 238.5h1.8M136 242.6h1.8M136 250.9h1.8M136 255h1.8M136 259.1h1.8M136 263.3h1.8M136 271.5h1.8M136 275.6h1.8M136 279.8h1.8M136 283.9h1.8M136 292.2h1.8M136 296.3h1.8M136 300.4h1.8M136 304.5h1.8M136 312.8h1.8M136 316.9h1.8M136 321.1h1.8M136 325.2h1.8M136 333.4h1.8M136 337.6h1.8M136 341.7h1.8M136 345.8h1.8M136 354.1h1.8M136 358.2h1.8M136 362.3h1.8M136 366.5h1.8" stroke="#c4c4c4" stroke-width="0.9" fill="none"/>
<text x="17.6" y="217" fill="#1a1a1a" stroke="#1a1a1a" stroke-width="0.08" font-family="Liberation Serif, Times New Roman, serif" font-size="11.8" textLength="205.7" lengthAdjust="spacingAndGlyphs">Current Injected by the Shunt Compensator</text>
<path d="M12.5 235.9l.6 .1 .6 .2 .6 .4 .1 .4 .2 .2 .2 .3 .1 .2 .1 .9 .2 .7 .2 1.6 .1 1.7 .2 1.7 .1 1.3 .2 .9 .1 .4 .1 .4 .2 .1 .1 0 .2 .1 .1 0 .2-.1 .1-.3 .6 .1 .6-.1 .6-.2 .6-.1 .7-.1 .6-.1 .6-.1 .6-.1 .1-.4 .1 .3 .2-.1 .1 .1 .2 .1 .1 .3 .2 .5 .1 .8 .2 1.3 .1 1.7 .2 1.6 .1 1.5 .2 .9 .1 .8 .2 .3 .1 .6 .2-.2 .1 .3 .2 .3 .1 .1 .2 .1 .1-.1 .6 .4 .6 .2 .6 .1 .6-.1 .6 .1 .6-.2 .6-.3 .6-.2 .6-.3 .6-.6 .6 .2 .6 .4 .6 .4 .6 .2 .6 0 .6 .3 .6 .1 .6 0 .6-.1 .6-.2 .6-.3 .6-.3 .2-.4 .2-.1 .1-.4 .1-.4 .2-.9 .1-1.1 .2-1.4 .1-1.8 .2-1.7 .1-1 .2-.9 .1-.2 .2-.3 .1 0 .2-.3 .1 .2 .2 0 .1 0 .2 0 .6 .2 .6 0 .6 .3 .6 0 .6 .1 .6 .3 .6 .1 .6 .2 .1-.1 .2 .1 .1-.2 .2 0 .1-.1 .2-.9 .1 .1 .2-1 .1-1.4 .2-1.8 .1-1.6 .2-1.3 .1-.9 .2-1.2 .1 .1 .2-.2 .1-.1 .2-.2 .1-.1 .2-.2 .1-.2 .6-.2 .6-.2 .6 0 .6-.1 .6-.2 .6 .3 .6 .1 .6 .5 .6 .1 .6 .6 .6 0 .6-.2 .6-.4 .6-.3 .6-.3 .6-.3 .6 .1 .6 0 .6 0 .6 .2 .6 .4 .6 .4 .2 .1 .1-.2 .2 .6 .1 .1 .2 .5 .1 .9 .2 1.7 .1 1.5 .2 1.8 .1 1.4 .2 1 .1 .6 .2 .4 .2 .2 .1-.1 .2 .1 .1 .1 .2-.1 .1 0 .6-.1 .6-.1 .6-.2 .6-.2 .6-.1 .6-.1 .6-.2 .6 0 .6-.1 .1 .1 .2 .2 .1 .2 .2 .9 .1 1.1 .2 1.6 .2 1.7 .1 1.6 .2 1.1 .1 .8 .2 .5 .1 .5 .2 0 .1 .3 .2 .1 .1 .2 .2-.1 .1 .3 .6 .2 .6 .3 .6 0 .6-.2 .6 .1 .6-.2 .6-.1 .6-.3 .6-.3 .6-.3 .6-.1 .6 .2 .6 .4 .6 .3 .6 .3 .6 .2 .6 .1 .6 0 .6-.1 .6-.4 .6-.1 .6-.4 .1-.3 .2 0 .1-.3 .2-.8 .1-.4 .2-1.3 .1-1 .2-1.8 .2-1.8 .1-1.1 .2-1 .1-.4 .2-.3 .1-.4 .2 .2 .1-.3 .2 .3 .1 .1 .2-.1 .6-.1 .6 .4 .6 0 .6 .2 .6 .3 .6 0 .6 .2 .6 0 .1 .1 .2 .1 .1-.2 .2 0 .1 0 .2-.2 .1-.6 .2-.8 .1-1.2 .2-1.6 .1-1.9 .2-1.3 .1-1 .2-.9 .1-.5 .2-.1 .1-.2 .2-.3 .1-.1 .2 0 .1-.1 .6-.4 .6-.1 .6-.2 .6 0 .6-.1 .6 .3 .6 .2 .6 .3 .6 0 .6 .6 .6 .3 .6-.4 .6-.5 .6-.4 .6-.4 .6 .2 .6-.2 .6 0 .6 .2 .6 .2 .6 .2 .6 .4 .2 .1 .1 .2 .2 .1 .1 .4 .2 .6 .1 .7 .2 1 .1 1.6 .2 1.9 .1 1.5 .2 1.1 .1 .5 .2 .8 .1 .1 .2 0 .1 .1 .2 .1 .1 0 .2-.2 .1 .1 .6-.1 .6-.3 .6 0 .6-.3 .6-.1 .6 0 .6-.3 .6-.2 .2 .1 .1 .1 .2 .1 .1-.1 .2 .2 .1 0 .2 .8 .1 1 .2 1.3 .1 1.8 .2 1.8 .1 1.3 .2 .9 .1 .7 .2 .3 .1 .2 .2 .3 .1 .1 .2 .2 .1 0 .2-.1 .6 .5 .6 .1 .6 .3 .6-.1 .6-.2 .6 0 .6-.2 .6-.5 .6-.1 .6-.3 .6-.2 .6 .4 .6 .3 .6 .4 .6 .1 .6 .1 .6 .2 .6 .1 .6-.2 .6-.2 .6-.2 .6-.4 .1-.4 .2 0 .1-.1 .2-.5 .1-.8 .2-.7 .1-1.2 .2-1.5 .1-2.3 .2-1.1 .1-.9 .2-.7 .1-.2 .2-.2 .1-.2 .2-.1 .1 .3 .2-.3 .1 .1 .6 .2 .6 .1 .6 0 .6 .4 .6 0 .6 .1 .6 .3 .6 .1 .2 0 .1 0 .2-.2 .1 .1 .2 0 .1-.2 .2-.3 .1-.9 .2-1.1 .1-1.4 .2-1.9 .1-1.3 .2-1.4 .1-.7 .2-.6 .1-.3 .2-.3 .1-.1 .2-.1 .1-.2 .2-.1 .1 0 .6-.4 .6-.1 .6-.1 .6 0 .6 0 .6 .2 .6 .3 .6-.1 .6 .7 .6 .3 .6-.1 .6-.1 .6-.4 .6-.4 .6-.2 .6-.2 .6 0 .6-.1 .6 .2 .6 .1 .6 .4 .6 .4 .2 .2 .1 .2 .2 .2 .1 .5 .2 .5 .1 1.1 .2 1.3 .1 1.8 .2 1.6 .1 1.4 .2 .9 .1 .4 .2 .4 .1-.1 .2 .3 .1 0 .2-.2 .1 .2 .2-.1 .6-.1 .6-.9 .6 .6 .6-.2 .6-.1 .6-.1 .6-.1 .6-.1 .1-.2 .2 0 .1 0 .2 .1 .1 .1 .2 .2 .1 .6 .2 .7 .1 1.4 .2 1.7 .1 1.7 .2 1.3 .1 1.1 .2 .8 .1 .4 .2 .3 .1 .2 .2 .1 .1-.4 .2 .7 .1 .1 .6 .1 .6 .2 .6 .4 .6-.1 .6 0 .6-.1 .6-.3 .6-.2 .6-.3 .6-.6 .6-.1 .6 .5 .6 .1 .6 .6 .6 .1 .6 .2 .6 .1 .6 .1 .6-.3 .6-.1 .6-.2 .6-.3 .2-.4 .1 0 .2-.2 .1-.5 .2-.3 .1-.8 .2-1.2 .1-1.5 .2-1.8 .1-1.5 .2-1.1 .1-.7 .2-.5 .1-.2 .2-.1 .1-.1 .2-.2 .1 .3 .2 0 .1 .1 .6 0 .6 .2 .6 .2 .6 .1 .6 .2 .6 .1 .6 0 .6 0 .2 .1 .1 .1 .2 0 .1 0 .2-.2 .1-.2 .2-.7 .1-1 .2-1.4 .1-1.7 .2-1.7 .1-1.2 .2-1 .1-.5 .2-.6 .1-.2 .2-.2 .1-.1 .2-.1 .1-.1 .2 0 .6-.4 .6-.2 .6-.2 .6 .1 .6 .1 .6-.1 .6 .4 .6 .2 .6 .4 .6 .2 .6 .2 .6-.3 .6-.3 .6-.5 .6-.1 .6-.1 .6-.3 .6 .2 .6 .1 .6 .2 .6 .3 .6 .2 .1 .1 .2 .4 .1 .2 .2-.1 .1 1 .2 .9 .1 1.4 .2 1.4 .1 1.9 .2 1.5 .1 1 .2 .6 .1 .2 .2 .1 .1 .1 .2 .1 .1-.1 .2 .2 .1-.3 .6 0 .6-.7 .6 .5 .6-.1 .6-.1 .6-.3 .6-.1 .6 0 .2-.1 .1 0 .2 0 .1-.1 .2 .2 .1 .3 .2 .3 .1 .4 .2 1.2 .1 1.8 .2 1.6 .1 1.5 .2 1.4 .1 .8 .2 .3 .1 .5 .2 .3 .1 .1 .2 .1 .1 0 .2 .2 .1-.2 .6 .7 .6 .2 .6-.1 .6 .2 .6-.3 .6 0 .6-.1 .6-.3 .6-.4 .6-.4 .6 0 .6 .2 .6 .6 .6 0 .6 .4 .6 .2 .6 .1 .6 0 .6-.4 .6 0 .6-.2 .6-.5 .2-.2 .1-.1 .2-.2 .1-.7 .2-.5 .1-1 .2-1.5 .1-1.6 .2-1.8 .1-1.2 .2-.8 .1-.7 .2-.2 .1 0 .2-.2 .1-.4 .2 .4 .1 .1 .2 .1 .6 .1 .6 0 .6 .3 .6 .1 .6 .1 .6 .1 .6 0 .6 .2 .1 .2 .2 0 .1-.1 .2 0 .1-.1 .2-.3 .1-.5 .2-.9 .1-1.3 .2-1.7 .1-1.5 .2-1.4 .1-1.1 .2-.6 .1-.5 .2-.5 .1 0 .2-.2 .1-.1 .2-.1 .1-.2 .6-.2 .6-.3 .6 0 .6-.2 .6 .2 .6 .1 .6 .1 .6 .4 .6 0 .6 .8 .6 .1 .6-.5 .6-.4 .6-.2 .6-.4 .6-.1 .6 0 .6-.1 .6 .2 .6 .2 .6 .2 .6 .4 .2 .1 .1 .2 .2 .2 .1 .4 .2 .2 .1 1.1 .2 .9 .1 1.3 .2 2 .1 1.6 .2 1.4 .1 .6 .2 .5 .1 0 .2 .1 .1 .2 .2-.3 .1 .2 .2-.2 .1 .2 .6-.1 .6-.3 .6-.2 .6-.2 0 2.9-.6-.1-.6 .2-.6 .3-.6 0-.1-.1-.2 .1-.1 0-.2 0-.1 0-.2-.1-.1-.3-.2-.2-.1-.9-.2-1.1-.1-1.6-.2-1.7-.1-1.5-.2-1.1-.1-.8-.2-.7-.1-.1-.2-.4-.1-.1-.2-.2-.6 0-.6-.6-.6-.2-.6 0-.6-.1-.6 .2-.6 0-.6 .4-.6 .4-.6 .3-.6 .2-.6 .1-.6-.6-.6-.3-.6-.3-.6-.2-.6 0-.6-.2-.6 .1-.6 .2-.6 .1-.6 .5-.1-.1-.2 .1-.1 .2-.2 .1-.1 .2-.2 .4-.1 .4-.2 .7-.1 1.1-.2 1.3-.1 1.8-.2 1.7-.1 1.3-.2 .9-.1 .3-.2 .3-.1 0-.2 0-.1 .1-.2-.1-.1 .1-.6-.1-.6-.1-.6-.2-.6-.2-.6-.1-.6 0-.6-.3-.6 .1-.2-.1-.1-.1-.2 0-.1 .2-.2-.1-.1 .1-.2 .3-.1 .6-.2 .6-.1 1.4-.2 1.6-.1 1.8-.2 1.5-.1 1-.2 .5-.1 .4-.2 .3-.1 .5-.2 0-.6 .5-.6 .2-.6 .1-.6 .1-.6 .1-.6 0-.6-.3-.6-.3-.6-.1-.6-.6-.6-.1-.6 .1-.6 .2-.6 .2-.6 .6-.6 .2-.6 .1-.6 .1-.6-.2-.6 .1-.6-.4-.6-.3-.1 .1-.2-.3-.1-.1-.2-.2-.1 0-.2-.3-.1-.3-.2-.6-.1-.9-.2-1.1-.1-1.5-.2-1.9-.1-1.5-.2-1.1-.1-.5-.2-.4-.1-.4-.2-.1-.1 .1-.2 0-.1 0-.2 0-.6 .1-.6 .2-.6 .2-.6 .1-.6 0-.6 .2-.6 .2-.6 .1-.1 .1-.2-.1-.1 0-.2 .1-.1-.2-.2-.2-.1-.3-.2-.6-.1-.8-.2-1.7-.1-1.7-.2-1.5-.1-1.4-.2-1-.1-.5-.2-.4-.1-.3-.2 0-.1-.1-.6-.4-.6-.4-.6-.2-.6 0-.6 0-.6 0-.6 .1-.6 .4-.6 .2-.6 .4-.6 .3-.6 0-.6-.3-.6-.4-.6-.3-.6-.1-.6-.4-.6 .1-.6-.1-.6 .2-.6 .2-.6 .3-.2 .1-.1 .3-.2 0-.1 0-.2 .3-.1 .4-.2 .3-.1 .5-.2 .9-.1 1.4-.2 1.6-.1 1.8-.2 1.3-.1 1-.2 .7-.1 .1-.2 .9-.1-.7-.2 .1-.1 0-.2-.1-.6-.1-.6-.1-.6-.1-.6-.2-.6-.1-.6-.1-.6 0-.6-.3-.1 .1-.2-.2-.1 .2-.2-.2-.1 .1-.2 .2-.1 0-.2 .5-.1 .8-.2 1.2-.1 1.4-.2 1.8-.1 1.6-.2 1.2-.1 .7-.2 .5-.1 .3-.2 .3-.1 .1-.2 .2-.6 .5-.6 .1-.6 .2-.6 .2-.6-.1-.6 0-.6-.1-.6-.6-.6 0-.6-.4-.6-.6-.6 .3-.6 .3-.6 .3-.6 .6-.6 0-.6 0-.6 .3-.6-.3-.6 0-.6-.2-.6-.4-.1 .1-.2-.1-.1-.1-.2-.4-.1-.1-.2-.2-.1-.7-.2-.5-.1-.9-.2-1.8-.1-1.5-.2-1.8-.1-1.3-.2-.9-.1-.4-.2-.2-.1 .1-.2-.2-.1-.1-.2 0-.1 .2-.6 .2-.6 0-.6 .1-.6 .4-.6 0-.6 0-.6 .2-.6 0-.2 0-.1 .3-.2-.1-.1-.1-.2 0-.1-.2-.2-.2-.1-.5-.2-.6-.1-1.7-.2-1.5-.1-1.8-.2-1.3-.1-1.1-.2-.8-.1-.3-.2-.3-.1-.2-.2 0-.6-.6-.6-.2-.6-.3-.6 0-.6 .1-.6-.1-.6 .4-.6-.1-.6 .6-.6 .1-.6 .5-.6 0-.6-.3-.6-.5-.6-.1-.6-.3-.6-.2-.6-.1-.6-.1-.6 .4-.6 0-.6 .3-.1 0-.2 .3-.1 0-.2 .2-.1 0-.2 .2-.1 .4-.2 .6-.1 .7-.2 1.4-.1 1.3-.2 1.8-.1 1.6-.2 1.2-.1 .8-.2 .1-.1 .3-.2 .3-.1-.2-.2 0-.1-.1-.2 0-.6-.1-.6-.1-.6-.2-.6 0-.6-.2-.6-.1-.6-.1-.6-.2-.1 0-.2-.1-.1 .1-.2 0-.1 0-.2 .2-.1 .3-.2 .7-.1 .9-.2 1.7-.1 1.7-.2 1.5-.1 1.2-.2 .9-.1 .7-.2 .3-.1 .4-.2 0-.1 .2-.6 .4-.6 .2-.6 .2-.6 0-.6 .2-.6-.1-.6-.2-.6-.3-.6-.2-.6-.5-.6-.3-.6 0-.6 .4-.6 .4-.6 .2-.6 .3-.6 .1-.6 .1-.6 0-.6-.2-.6-.2-.6-.2-.2-.1-.1-.1-.2-.2-.1 .1-.2-.2-.1-.5-.2-.4-.1-.6-.2-.7-.1-1.5-.2-1.6-.1-1.8-.2-1.4-.1-.7-.2-.8-.1-.2-.2-.3-.1 0-.2 .1-.1 .3-.2-.5-.6 .4-.6 .1-.6 .2-.6-.1-.6 .2-.6 0-.6 .2-.6 .1-.1 0-.2 .1-.1 0-.2 0-.1-.1-.2 .1-.1-.3-.2-.2-.1-.9-.2-1.3-.1-1.6-.2-1.8-.1-1.3-.2-1.3-.1-.6-.2-.6-.1-.4-.2 0-.1-.2-.2-.3-.6-.3-.6-.2-.6-.2-.6 0-.6-.2-.6 .2-.6 .5-.6-.2-.6 .5-.6 .4-.6 .2-.6-.2-.6-.4-.6-.4-.6-.2-.6-.2-.6 0-.6-.2-.6 0-.6 .2-.6 .2-.6 .5-.1 0-.2 0-.1 .5-.2-.2-.1 .5-.2 0-.1 .5-.2 .6-.1 1.4-.2 1.2-.1 1.7-.2 1.8-.1 1.1-.2 1.5-.1-.2-.2 .2-.1 .2-.2 0-.1 0-.2 .1-.1-.2-.6 .1-.6-.3-.6-.1-.6 0-.6-.4-.6 0-.6-.2-.6-.1-.2 .2-.1-.1-.2-.2-.1 .1-.2 .2-.1-.1-.2 .6-.1 .4-.2 .8-.1 1.3-.2 1.5-.2 1.9-.1 1.4-.2 .8-.1 .8-.2 .5-.1 .1-.2 .2-.1 .2-.6 .4-.6 .3-.6 .3-.6 .1-.6-.1-.6 .1-.6-.3-.6 0-.6-.4-.6-.4-.6-.5-.6 .2-.6 .3-.6 .2-.6 .4-.6 .2-.6 .3-.6 0-.6 .2-.6-.5-.6-.1-.6-.4-.1-.1-.2-.1-.1 0-.2-.2-.1 0-.2-.4-.1-.3-.2-.5-.1-.8-.2-1.2-.1-1.5-.2-1.9-.2-1.5-.1-1-.2-.7-.1-.5-.2 0-.1-.1-.6-.1-.6 .1-.6 .1-.6 .2-.6 .2-.6 0-.6 .2-.6 .1-.6 .2-.1 0-.2 .1-.1-.1-.2 .1-.1-.1-.2-.2-.2-.4-.1-.6-.2-1-.1-1.5-.2-1.7-.1-1.6-.2-1-.1-1.2-.2-.6-.1-.3-.2-.3-.1 .1-.2-.2-.6-.4-.6-.5-.6-.2-.6-.1-.6 .4-.6-.3-.6 .3-.6 .2-.6 .4-.6 .1-.6 .4-.6-.1-.6-.3-.6-.4-.6-.3-.6-.2-.6 .1-.6-.3-.6 .2-.6 .1-.6 .1-.6 .7-.1-.4-.2 .1-.1 .2-.2 .3-.1 0-.2 .5-.1 .1-.2 .8-.1 .8-.2 1.4-.1 1.8-.2 1.5-.1 1.5-.2 .9-.1 .6-.2 .4-.1 .1-.2-.1-.1 .1-.2 0-.1 .1-.6-.2-.6 0-.6-.3-.6 0-.6-.3-.6-.1-.6-.1-.6 0-.2-.1-.1-.2-.2 0-.1 .1-.2 0-.1 .1-.2 .2-.1 .5-.2 .6-.1 1.1-.2 1.7-.1 1.8-.2 1.5-.1 1.2-.2 .7-.1 .6-.1 .3-.2 .1-.2 .2-.6 .3-.6 .3-.6 .2-.6 .3-.6 0-.6-.2-.6-.1-.6-.3-.6-.2-.6-.3-.6-.5-.6 .4-.6 .1-.6 .4-.6 .2-.6 .4-.6 .1-.6 0-.6-.1-.6-.1-.6-.3-.6-.2-.1-.1-.2-.1-.1 0-.2-.3-.1 .2-.2-.5-.1-.2-.2-.4-.1-.8-.2-1.1-.1-1.3-.2-1.8-.1-1.7-.2-1.2-.1-.6-.2-.8-.1-.1-.2-.2-.1-.1-.2 0-.1 .1-.1 .1-.6 0-.6 .4-.6 0-.7-.1-.6 .3-.6 .1-.6 .2-.6 .1-.1 .1-.2 0-.1 0-.2 .1-.1-.1-.2-.2-.1-.2-.1-.6-.2-.5-.1-1.6-.2-1.9-.1-1.7-.2-1.2-.2-1.1-.1-.6-.1-.6-.2-.2-.2-.1-.1-.3-.6-.4-.6-.1-.6-.3z" fill="#1818f0" opacity="0.95"/>
<path d="M12.5 237.1l.6 .2 .6 .3 .6 .4 .1 .2 .2 .1 .2 .3 .1 .5 .1 .6 .2 1.1 .2 1.4 .1 1.7 .2 1.7 .1 1.3 .2 .8 .1 .5 .1 .3 .2 .1 .1 .1 .2 0 .1 0 .2-.1 .1 0 .6-.1 .6-.1 .6-.2 .6-.1 .7-.1 .6-.2 .6-.1 .6-.1 .1-.1 .1 0 .2 0 .1 .1 .2 .1 .1 .2 .2 .5 .1 .8 .2 1.3 .1 1.6 .2 1.8 .1 1.4 .2 1.1 .1 .7 .2 .4 .1 .3 .2 .2 .1 .2 .2 .1 .1 .1 .2 .1 .1 .1 .6 .3 .6 .2 .6 .1 .6 0 .6-.1 .6-.1 .6-.3 .6-.3 .6-.3 .6-.4 .6 0 .6 .4 .6 .4 .6 .3 .6 .2 .6 .1 .6 .1 .6 0 .6-.2 .6-.2 .6-.2 .6-.5 .2-.1 .2-.2 .1-.3 .1-.5 .2-.8 .1-1.2 .2-1.5 .1-1.7 .2-1.6 .1-1.2 .2-.7 .1-.4 .2-.2 .1-.1 .2-.1 .1 0 .2 0 .1 .1 .2 0 .6 .1 .6 .2 .6 .1 .6 .1 .6 .2 .6 .1 .6 .1 .6 .1 .1 .1 .2 0 .1 0 .2-.1 .1-.2 .2-.3 .1-.5 .2-1 .1-1.4 .2-1.7 .1-1.7 .2-1.3 .1-.9 .2-.7 .1-.4 .2-.2 .1-.2 .2-.1 .1-.1 .2-.1 .1-.1 .6-.3 .6-.2 .6-.2 .6 0 .6 .1 .6 .1 .6 .2 .6 .3 .6 .4 .6 .3 .6 .2 .6-.4 .6-.4 .6-.3 .6-.3 .6-.1 .6-.1 .6 0 .6 .1 .6 .2 .6 .3 .6 .4 .2 .1 .1 .2 .2 .2 .1 .4 .2 .6 .1 .9 .2 1.3 .1 1.5 .2 1.8 .1 1.5 .2 1 .1 .6 .2 .3 .2 .2 .1 .1 .2 0 .1 0 .2 0 .1-.1 .6-.1 .6-.1 .6-.2 .6-.1 .6-.1 .6-.2 .6-.1 .6-.1 .6 0 .1 0 .2 .2 .1 .4 .2 .7 .1 1.1 .2 1.6 .2 1.7 .1 1.6 .2 1.2 .1 .8 .2 .5 .1 .3 .2 .3 .1 .1 .2 .2 .1 .1 .2 .1 .1 0 .6 .3 .6 .2 .6 .2 .6 0 .6-.1 .6-.1 .6-.2 .6-.3 .6-.4 .6-.4 .6 0 .6 .4 .6 .3 .6 .3 .6 .3 .6 .1 .6 .1 .6 0 .6-.1 .6-.2 .6-.3 .6-.4 .1-.2 .2-.1 .1-.3 .2-.5 .1-.6 .2-1.1 .1-1.4 .2-1.7 .2-1.7 .1-1.3 .2-.8 .1-.5 .2-.3 .1-.1 .2-.1 .1 0 .2 0 .1 .1 .2 0 .6 .1 .6 .1 .6 .2 .6 .1 .6 .1 .6 .2 .6 .1 .6 .1 .1 .1 .2 0 .1 0 .2-.1 .1-.1 .2-.2 .1-.5 .2-.8 .1-1.3 .2-1.6 .1-1.8 .2-1.4 .1-1.1 .2-.7 .1-.4 .2-.3 .1-.2 .2-.2 .1-.1 .2-.1 .1-.1 .6-.3 .6-.2 .6-.2 .6 0 .6 0 .6 .2 .6 .2 .6 .3 .6 .3 .6 .4 .6 .2 .6-.4 .6-.4 .6-.3 .6-.2 .6-.2 .6-.1 .6 0 .6 .1 .6 .2 .6 .3 .6 .3 .2 .2 .1 .1 .2 .2 .1 .3 .2 .5 .1 .8 .2 1.2 .1 1.5 .2 1.7 .1 1.6 .2 1.2 .1 .7 .2 .4 .1 .2 .2 .1 .1 .1 .2 0 .1 0 .2-.1 .1 0 .6-.1 .6-.2 .6-.1 .6-.1 .6-.2 .6-.1 .6-.1 .6-.1 .2-.1 .1 0 .2 0 .1 .1 .2 .2 .1 .3 .2 .5 .1 1 .2 1.4 .1 1.8 .2 1.6 .1 1.3 .2 .9 .1 .7 .2 .4 .1 .2 .2 .2 .1 .1 .2 .1 .1 .1 .2 .1 .6 .3 .6 .2 .6 .2 .6 0 .6-.1 .6-.1 .6-.2 .6-.3 .6-.4 .6-.3 .6-.2 .6 .4 .6 .4 .6 .3 .6 .3 .6 .1 .6 .1 .6 0 .6-.1 .6-.2 .6-.3 .6-.4 .1-.1 .2-.2 .1-.2 .2-.4 .1-.6 .2-.9 .1-1.3 .2-1.5 .1-1.8 .2-1.5 .1-1 .2-.6 .1-.3 .2-.2 .1-.1 .2 0 .1 0 .2 0 .1 .1 .6 .1 .6 .1 .6 .2 .6 .1 .6 .1 .6 .2 .6 .1 .6 .1 .2 .1 .1 0 .2 0 .1-.1 .2 0 .1-.2 .2-.4 .1-.7 .2-1.1 .1-1.6 .2-1.7 .1-1.6 .2-1.2 .1-.8 .2-.5 .1-.3 .2-.3 .1-.1 .2-.2 .1-.1 .2-.1 .1 0 .6-.3 .6-.2 .6-.2 .6 0 .6 .1 .6 .1 .6 .2 .6 .3 .6 .4 .6 .4 .6 0 .6-.4 .6-.3 .6-.3 .6-.3 .6-.1 .6-.1 .6 0 .6 .1 .6 .2 .6 .3 .6 .4 .2 .2 .1 .1 .2 .3 .1 .5 .2 .6 .1 1.1 .2 1.4 .1 1.7 .2 1.7 .1 1.3 .2 .8 .1 .5 .2 .3 .1 .1 .2 .1 .1 0 .2 0 .1-.1 .2 0 .6-.1 .6-.1 .6-.2 .6-.1 .6-.1 .6-.2 .6-.1 .6-.1 .1-.1 .2 0 .1 0 .2 .1 .1 .1 .2 .2 .1 .5 .2 .8 .1 1.3 .2 1.6 .1 1.8 .2 1.4 .1 1.1 .2 .7 .1 .4 .2 .3 .1 .2 .2 .2 .1 .1 .2 .1 .1 .1 .6 .3 .6 .2 .6 .2 .6 0 .6 0 .6-.2 .6-.2 .6-.3 .6-.3 .6-.4 .6-.2 .6 .4 .6 .4 .6 .3 .6 .2 .6 .2 .6 .1 .6 0 .6-.1 .6-.2 .6-.3 .6-.3 .2-.2 .1-.1 .2-.2 .1-.3 .2-.5 .1-.8 .2-1.2 .1-1.5 .2-1.7 .1-1.6 .2-1.2 .1-.7 .2-.4 .1-.2 .2-.1 .1-.1 .2 0 .1 0 .2 .1 .1 0 .6 .1 .6 .2 .6 .1 .6 .1 .6 .2 .6 .1 .6 .1 .6 .1 .2 .1 .1 0 .2 0 .1-.1 .2-.2 .1-.3 .2-.5 .1-1 .2-1.4 .1-1.8 .2-1.6 .1-1.3 .2-.9 .1-.7 .2-.4 .1-.2 .2-.2 .1-.1 .2-.1 .1-.1 .2-.1 .6-.3 .6-.2 .6-.2 .6 0 .6 .1 .6 .1 .6 .2 .6 .3 .6 .4 .6 .3 .6 .2 .6-.4 .6-.4 .6-.3 .6-.3 .6-.1 .6-.1 .6 0 .6 .1 .6 .2 .6 .3 .6 .4 .1 .1 .2 .2 .1 .2 .2 .4 .1 .6 .2 .9 .1 1.3 .2 1.5 .1 1.8 .2 1.5 .1 1 .2 .6 .1 .3 .2 .2 .1 .1 .2 0 .1 0 .2 0 .1-.1 .6-.1 .6-.1 .6-.2 .6-.1 .6-.1 .6-.2 .6-.1 .6-.1 .2-.1 .1 0 .2 0 .1 .1 .2 0 .1 .2 .2 .4 .1 .7 .2 1.1 .1 1.6 .2 1.7 .1 1.6 .2 1.2 .1 .8 .2 .5 .1 .3 .2 .3 .1 .1 .2 .2 .1 .1 .2 .1 .1 0 .6 .3 .6 .2 .6 .2 .6 0 .6-.1 .6-.1 .6-.2 .6-.3 .6-.4 .6-.4 .6 0 .6 .4 .6 .3 .6 .3 .6 .3 .6 .1 .6 .1 .6 0 .6-.1 .6-.2 .6-.3 .6-.4 .2-.2 .1-.1 .2-.3 .1-.5 .2-.6 .1-1.1 .2-1.4 .1-1.7 .2-1.7 .1-1.3 .2-.8 .1-.5 .2-.3 .1-.1 .2-.1 .1 0 .2 0 .1 .1 .2 0 .6 .1 .6 .1 .6 .2 .6 .1 .6 .1 .6 .2 .6 .1 .6 .1 .1 .1 .2 0 .1 0 .2-.1 .1-.1 .2-.2 .1-.5 .2-.8 .1-1.3 .2-1.6 .1-1.8 .2-1.4 .1-1.1 .2-.7 .1-.4 .2-.3 .1-.2 .2-.2 .1-.1 .2-.1 .1-.1 .6-.3 .6-.2 .6-.2 .6 0 .6 0 .6 .2 .6 .2 .6 .3 .6 .3 .6 .4 .6 .2 .6-.4 .6-.4 .6-.3 .6-.2 .6-.2 .6-.1 .6 0 .6 .1 .6 .2 .6 .3 .6 .3 .2 .2 .1 .1 .2 .2 .1 .3 .2 .5 .1 .8 .2 1.2 .1 1.5 .2 1.7 .1 1.6 .2 1.2 .1 .7 .2 .4 .1 .2 .2 .1 .1 .1 .2 0 .1 0 .2-.1 .1 0 .6-.1 .6-.2 .6-.1 .6-.1" fill="none" stroke="#1818f0" stroke-width="0.75" stroke-linejoin="round" stroke-linecap="round" opacity="0.95" />
<path d="M12.5 293l.6 .3 .6 0 .6 .2 .1-.2 .2 0 .2-.1 .1-.4 .1-.7 .2-1.2 .2-1.3 .1-1.8 .2-1.6 .1-1.3 .2-.7 .1-.7 .1-.3 .2-.3 .1 0 .2-.1 .1-.2 .2-.1 .1-.1 .6-.2 .6-.3 .6-.1 .6 0 .7 0 .6 .1 .6 .3 .6 .3 .6 .3 .6 .5 .6 .1 .6-.4 .6-.5 .6-.5 .6 0 .6-.3 .6 0 .6 .2 .6 0 .6 0 .6 .6 .6 .2 .1-.2 .2 .6 .1 0 .2 .6 .1 .7 .2 .8 .1 1.5 .2 1.7 .1 1.8 .2 1.3 .1 1 .2 .5 .1 .3 .1 0 .2 .2 .2-.3 .1 .1 .1 .1 .2 0 .6-.1 .6-.2 .6-.1 .6-.2 .6 0 .6-.6 .6 .3 .6-.1 .2-.2 .1 0 .1 0 .2 0 .2 .3 .1 0 .1 .6 .2 .7 .1 1.3 .2 1.6 .1 1.6 .2 1.7 .1 .9 .2 1 .1 .3 .2 .3 .1 .3 .2 .1 .1 .2 .2 0 .1 .1 .2 .1 .6 .4 .6 .1 .6 0 .6 .2 .6-.3 .6 .1 .6-.3 .6-.2 .6-.5 .6-.4 .6 0 .6 .4 .6 .3 .6 .4 .6 .1 .6 .4 .6 0 .6-.1 .6-.2 .6 0 .6-.5 .6-.3 .1-.1 .2-.3 .2-.2 .1-.8 .1-.5 .2-1 .2-1.5 .1-1.8 .1-1.6 .2-1.2 .1-1.1 .2-.2 .1-.3 .2 .1 .1 0 .2-.1 .1 0 .2-.1 .1 .2 .6 .1 .6 .1 .6 0 .6 .1 .6 .1 .6 .2 .6 .3 .6 .1 .2-.1 .1 .1 .2 0 .1-.2 .2-.1 .1-.4 .2-.3 .1-.8 .2-1.4 .1-1.8 .2-1.7 .1-1.4 .2-.8 .1-.7 .2-.4 .2-.3 .1-.3 .2-.1 .1 0 .2-.4 .1 .1 .6-.4 .6 0 .6-.2 .6-.1 .6 .1 .6 .1 .6 .3 .6 .3 .6 .3 .6 .5 .6 .1 .6-.6 .6-.3 .6-.2 .6-.3 .6-.1 .6-.3 .6 .2 .6 .1 .6 .3 .6 .1 .6 .4 .1 .1 .2 .3 .1 0 .2 .4 .1 .3 .2 1.1 .1 1.3 .2 1.7 .1 1.5 .2 1.7 .1 .9 .2 .7 .1 .5 .2 .1 .1 0 .2 .1 .1 0 .2 0 .2-.1 .6 .1 .6-.2 .5-.2 .6-.1 .6-.1 .6-.1 .6-.2 .6-.3 .6 .1 .2 .1 .1 .1 .2 .4 .1 .6 .2 1.2 .1 1.4 .2 1.8 .2 1.6 .1 1.1 .2 .9 .1 .5 .2 .4 .1 .2 .2 .3 .1 .1 .2 0 .1 .2 .2-.2 .6 .7 .6 .1 .6 0 .6 .2 .6-.2 .6-.1 .6-.2 .6-.3 .6-.4 .5-.2 .6-.1 .6 .4 .6 .4 .6 0 .6 .3 .6 .2 .6 .1 .6 0 .6-.2 .6 0 .6-.3 .6-.5 .2-.2 .1-.1 .2-.3 .1-.5 .2-.5 .1-1 .2-1.5 .1-1.4 .2-1.9 .2-1.4 .1-.9 .1-.4 .2-.3 .2-.1 .1-.1 .2 0 .1-.2 .2 .2 .1 0 .6-.1 .6 .4 .6 .2 .6 0 .6 .3 .6 .1 .6 0 .6 .3 .1-.3 .2 .2 .2 .1 .1-.2 .2 0 .1-.2 .2-.6 .1-.7 .2-1.2 .1-1.7 .2-1.6 .1-1.4 .2-1.2 .1-.7 .2-.5 .1-.3 .2-.4 .1 0 .2-.3 .1 0 .2 0 .1 0 .6-.3 .6-.3 .6-.1 .6-.1 .6 0 .6 .3 .6 .1 .6 .5 .6 .3 .6 .4 .6-.1 .6-.5 .6-.3 .6-.2 .6-.5 .6 0 .6 .1 .6-.2 .6 .4 .6 .1 .6 .3 .6 .5 .2 0 .1 .3 .2 .2 .1 .6 .2 .8 .1 .9 .2 1.6 .1 1.7 .2 1.3 .1 1.5 .2 .9 .1 .1 .2 .6 .1 0 .2-.1 .1 .2 .2 0 .1-.1 .2 0 .6-.1 .6-.2 .6-.1 .6-.1 .6-.2 .6-.2 .6-.2 .6 0 .1-.1 .2 .2 .1-.2 .2 .2 .1 .1 .2 .3 .1 .5 .2 .8 .1 1.5 .2 1.6 .1 1.6 .2 1.4 .1 1 .2 .7 .1 .5 .2 .2 .1 .3 .2 .2 .1-.2 .2 .3 .1 0 .6 .4 .6 .1 .6 .3 .6 0 .6 0 .6-.4 .6 0 .6-.3 .6-.5 .6-.3 .6-.2 .6 .4 .6 .3 .6 .3 .6 .4 .6 .1 .6 0 .6 .1 .6-.2 .6-.2 .6-.2 .6-.2 .2-.3 .1-.3 .2-.1 .1-.2 .2-.6 .1-1 .2-1.2 .1-1.5 .2-1.8 .1-1.4 .2-1.2 .1-1 .2 0 .1 0 .2-.2 .1 0 .2-.1 .1 .1 .2 0 .6 .2 .6 .1 .6 .1 .6 .1 .6 .1 .6 .2 .6 .2 .6 .1 .6 .1 .1-.5 .2 .2 .1-.3 .2-.7 .1-1.1 .2-1.4 .1-1.9 .2-1.6 .1-1.3 .2-.7 .1-.5 .2-.5 .1-.3 .2 0 .1-.2 .2-.2 .1-.1 .2 .1 .6-.3 .6-.4 .6 0 .6-.1 .6 .2 .6 .1 .6 .1 .6 .4 .6 .4 .6 .2 .6 .1 .6-.3 .6-.4 .6-.3 .6-.1 .6-.4 .6 .1 .6 0 .6 .1 .6 .1 .6 .4 .6 .4 .1 .1 .2 .1 .1 .1 .2 .7 .1 .6 .2 1 .1 1.4 .2 1.4 .1 2 .2 1.4 .1 .8 .2 .6 .1 .3 .2 0 .1 0 .2 .1 .1 0 .2-.1 .1 .2 .6-.4 .6 0 .6-.1 .6-.1 .6-.2 .6-.1 .6-.1 .6-.2 .2 0 .1 .1 .2-.2 .1 .1 .2 .1 .1 .3 .2 .4 .1 .8 .2 1.3 .1 1.4 .2 1.9 .1 1.4 .2 1.1 .1 .8 .2 .2 .1 .5 .2 .3 .1 0 .2 .2 .1 .1 .2 .2 .1 .1 .6 .2 .6 .1 .6 .3 .6 0 .6-.2 .6-.1 .6-.1 .6-.7 .6 0 .6-.5 .6 0 .6 .2 .6 .4 .6 .5 .6 .2 .6-.1 .6 .4 .6-.1 .6 0 .6-.2 .6-.3 .6-.6 .2-.2 .1 0 .2-.3 .1-.5 .2-.8 .1-1 .2-1.7 .1-1.6 .2-1.6 .1-1.2 .2-.7 .1-.6 .2-.1 .1-.3 .2 0 .1 .1 .2 0 .1 0 .2 .1 .6 0 .6 .3 .6 .1 .6 0 .6 .2 .6 .2 .6 .1 .6 0 .1 0 .2 0 .1 .2 .2-.1 .1-.4 .2 0 .1-.5 .2-1.1 .1-1.3 .2-1.6 .1-1.7 .2-1.6 .1-.7 .2-.7 .1-.4 .2-.2 .1-.3 .2-.2 .1-.1 .2-.8 .1 .7 .6-.4 .6-.1 .6-.3 .6-.2 .6 .3 .6 .2 .6 .2 .6 0 .6 .7 .6 .3 .6 .1 .6-.4 .6-.4 .6-.3 .6-.2 .6-.1 .6-.3 .6 .2 .6 .1 .6 .3 .6 .1 .6 .4 .2 .1 .1 .2 .2 .2 .1 .4 .2 .5 .1 .9 .2 1.3 .1 1.5 .2 1.8 .1 1.4 .2 1.2 .1-.3 .2 1.3 .1 .2 .2 0 .1 0 .2 0 .1-.3 .2 .3 .6-.4 .6-.1 .6 0 .6 0 .6-.1 .6-.4 .6-.1 .6 0 .6-.1 .1 .1 .2 .3 .1 .3 .2 .7 .1 1 .2 1.6 .1 1.6 .2 1.6 .1 1.3 .2 .6 .1 .9 .2 .2 .1 .3 .2 .2 .1 .1 .2 0 .1 .3 .2-.1 .6 .3 .6 .2 .6 .3 .6-.1 .6 0 .6-.5 .6 0 .6-.2 .6-.3 .6-.5 .6 .1 .6 .3 .6 .3 .6 .2 .6 .4 .6 .3 .6-.3 .6 .2 .6-.1 .6-.2 .6-.2 .6-.4 .1-.3 .2-.1 .1-.2 .2-.5 .1-.6 .2-1 .1-1.3 .2-1.7 .1-1.7 .2-1.4 .1-.9 .2-.5 .1-.3 .2-.1 .1-.4 .2 .4 .1-.2 .2-.1 .1 .3 .6 0 .6 .1 .6 .2 .6 .2 .6-.1 .6 .2 .6 .3 .6 .1 .2 .1 .1-.2 .2 0 .1 .1 .2-.1 .1-.2 .2-.4 .1-.8 .2-1.3 .1-1.5 .2-1.8 .1-1.5 .2-1 .1-.9 .2-.4 .1-.4 .2-.2 .1 0 .2-.3 .1 0 .1-.1 .2-.1 .6-.3 .6-.2 .6-.2 .6 .1 0 2.5-.6 .2-.6-.2-.6 .3-.6 .3-.2 .1-.1 .1-.1 .1-.2 0-.1 .3-.2 .2-.1 .2-.2 .7-.1 .6-.2 1.2-.1 1.9-.2 1.1-.1 1.7-.2 1.2-.1 1-.2 .2-.1 .2-.2 .1-.1 .1-.2 0-.1 0-.2 .2-.6-.1-.6-.4-.6-.2-.6 .1-.6-.2-.6-.3-.6-.1-.6-.1-.1 0-.2 .1-.1-.2-.2 0-.1 .2-.2 .1-.1 .4-.2 .3-.1 1.1-.2 1.3-.1 1.9-.2 1.5-.1 1.3-.2 1.1-.1 .5-.2 .4-.1 .3-.2 .2-.1 .1-.6 .4-.6 .6-.6-.2-.6 .3-.6-.1-.6 .1-.6-.3-.6-.3-.6-.3-.6-.4-.6-.3-.6 .1-.6 .3-.6 .3-.6 .4-.6 .2-.6 .2-.6 .1-.6-.2-.6 0-.6-.2-.6-.1-.2-.4-.1 .2-.2-.4-.1 0-.2-.1-.1-.3-.2-.4-.1-.5-.2-1-.1-1.1-.2-1.5-.1-1.9-.2-1.5-.1-1.2-.2-.6-.1-.3-.2-.1-.1 0-.6 0-.6 0-.6 .1-.6 .1-.6 .3-.6 .1-.6 .2-.6 0-.6 .1-.2 .1-.1 0-.2 .1-.1-.1-.2 .1-.1-.4-.2-.4-.1-.4-.2-1.2-.1-1.4-.2-2-.1-1.4-.2-1.4-.1-.7-.2-.5-.1-.5-.2-.1-.1-.3-.2 0-.6-.6-.6-.2-.6-.2-.6 0-.6 0-.6 .1-.6 .1-.6 .3-.6 .2-.6 .4-.6 .4-.6-.2-.6-.3-.6-.4-.6-.3-.6-.2-.6 0-.6-.2-.6 .2-.6 0-.6 .3-.6 .2-.1 .2-.2-.1-.1 .3-.2 .2-.1 0-.2 .4-.1 .4-.2 .7-.1 1-.2 1.2-.1 1.6-.2 1.8-.1 1.4-.2 .8-.1 .7-.2 .2-.1 .1-.2 .1-.1-.1-.2 .6-.1-.5-.6 0-.6-.2-.6-.3-.6 0-.6-.3-.6 .1-.6-.3-.6 .1-.2-.2-.1 0-.2 0-.1-.1-.2 .1-.1 .1-.2 .2-.1 .5-.2 .8-.1 1.1-.2 1.7-.1 1.7-.2 1.6-.1 1-.2 .9-.1 .4-.2 .3-.1 .2-.2 .2-.6 .3-.6 .3-.6 .2-.6 .1-.6 0-.6 0-.6 0-.6-.4-.6-.4-.6-.3-.6-.2-.6-.1-.6 .3-.6 .4-.6 .3-.6 .3-.6 .2-.6-.1-.6 .3-.6-.4-.6-.1-.6-.4-.1 0-.2-.3-.1 0-.2-.1-.1-.1-.2-.3-.1-.2-.2-.4-.1-.7-.2-1.3-.1-1.4-.2-1.6-.1-1.7-.2-1.4-.1-.7-.2-.4-.1-.3-.2-.2-.1 .2-.2 0-.1-.1-.2 0-.6 .1-.6 .2-.6 .1-.6 .2-.6 0-.6 .1-.6 .2-.6 .1-.1 .1-.2 .2-.1-.1-.2 0-.1-.2-.2-.1-.1-.2-.2-.6-.1-.9-.2-1.3-.1-1.7-.2-1.6-.1-1.6-.2-.8-.1-.7-.2-.4-.1-.2-.2-.3-.1-.2-.6-.2-.6-.4-.6-.3-.6 0-.6-.1-.6 .1-.6 .3-.6 .2-.6 .3-.6 .4-.6 .2-.6 .3-.6-.7-.6-.2-.6-.5-.6-.1-.6-.3-.6 0-.6 .3-.6-.1-.6 .1-.6 .5-.2 0-.1 .1-.2 .1-.1 .2-.2 .2-.1 .1-.2 .3-.1 .6-.2 1-.1 1.2-.2 1.4-.1 1.9-.2 1.4-.1 1.1-.2 .8-.1 .4-.2 .2-.1 0-.6-.2-.6-.1-.6-.1-.6 0-.6-.3-.6-.1-.6 0-.6-.3-.6-.1-.2 0-.1 0-.2-.1-.1 .1-.2 0-.1 .3-.2 .3-.1 .8-.2 1-.1 1.6-.2 1.5-.1 1.6-.2 1.4-.1 1-.2 .3-.1 .4-.2 .2-.1 .2-.2 .1-.6 .3-.6 .3-.6 .1-.6 .3-.6 .1-.6-.3-.6-.2-.6-.1-.6-.3-.6-.5-.6-.4-.6 .4-.6 .2-.6 .3-.6 .3-.6 .2-.6 .2-.6 .2-.6-.2-.6-.2-.6-.1-.6-.2-.1-.2-.2-.2-.1-.1-.2-.1-.1-.2-.2-.3-.1-.3-.2-.7-.1-.9-.2-1.5-.1-1.7-.2-1.6-.1-1.4-.2-1-.1-.3-.2-.4-.1-.1-.2-.2-.1 0-.2 .1-.1 0-.6 .1-.6 .3-.6 .1-.6 .1-.6 0-.6 .1-.6 .2-.6 .1-.2 .2-.1-.1-.2 0-.1 0-.2 .1-.1-.1-.2-.4-.1-.3-.2-.9-.1-1.1-.2-1.7-.1-1.4-.2-1.8-.1-1.2-.2-.5-.1-.6-.2-.3-.1-.2-.2-.2-.6-.5-.6-.2-.6-.3-.6 .1-.6-.2-.6 .5-.6-.2-.6 .2-.6 .5-.6 .1-.6 .4-.6 0-.6-.3-.6-.4-.6-.4-.6 .1-.6-.2-.6-.1-.6-.2-.6 .3-.6 .1-.6 .2-.1 .2-.2 .2-.1 0-.2 .2-.1 .1-.2 .1-.1 .3-.2 .5-.1 .7-.2 1.2-.1 1.4-.2 2-.1 1.5-.2 1.1-.1 .8-.2 .4-.1 .2-.2 .1-.1 .2-.2 0-.2 0-.1-.1-.6-.2-.6-.1-.6-.1-.6-.1-.6 0-.6-.2-.6-.2-.6-.3-.1 0-.2 .1-.1-.1-.2 .3-.1-.2-.2 .1-.2 .4-.1 .5-.1 .9-.2 1.5-.2 1.6-.1 1.7-.2 1.4-.1 .9-.2 .7-.1 .5-.2 .1-.1 .3-.2 .2-.6 .3-.6 .1-.6 .2-.6 .3-.6-.1-.6 0-.6-.3-.6-.2-.6-.2-.6-.3-.6-.5-.6 .2-.5 .2-.6 .6-.6 .2-.6 .3-.6 0-.6 .1-.6-.2-.6 .1-.6-.4-.6-.3-.2 .1-.1-.1-.2-.2-.1-.2-.2-.2-.1-.2-.2-.3-.1-.5-.2-.8-.1-1.3-.2-1.6-.2-1.6-.1-1.4-.2-1.4-.1-.5-.2-.4-.1-.3-.2 0-.6 .2-.6-.1-.6 .3-.6 0-.6 .2-.6 .2-.5 0-.6 .1-.6 .5-.2-.2-.2-.1-.1 .1-.2-.2-.1 0-.2-.1-.1-.4-.2-.7-.1-1.1-.2-1.4-.1-1.9-.2-1.3-.1-.6-.2-1.6-.1-.7-.2-.4-.1-.2-.2-.2-.1-.1-.6-.3-.6-.2-.6-.1-.6-.1-.6-.2-.6 .2-.6 .1-.6 .3-.6 .2-.6 .4-.6 .4-.6-.1-.6-.5-.6-.1-.6-.3-.6-.3-.6-.3-.6 0-.6 .1-.6 .1-.6 .3-.6 .3-.1 .1-.2 .2-.1 0-.2 0-.1 .3-.2 .2-.2 .5-.1 .7-.2 1-.1 1.5-.2 1.4-.1 1.7-.2 1.4-.1 1-.2 .4-.1 .2-.2 .5-.1-.2-.2 0-.1 .1-.2-.1-.6-.1-.6-.1-.6-.1-.6-.3-.6-.1-.6-.1-.6 .1-.6-.4-.1-.1-.2 .1-.1 .1-.2-.2-.1 .1-.2 .4-.1 0-.2 .4-.1 .8-.2 1.1-.1 1.7-.1 1.8-.2 1.6-.2 .9-.1 .7-.1 .6-.2 .3-.2 .2-.1 .1-.6 .6-.6 .1-.6 .4-.6 .5-.6-.6-.6 0-.6-.3-.6 0-.6-.3-.6-.5-.6-.4-.6 .1-.6 .3-.6 .5-.6 .2-.6 .2-.6 .2-.6 .1-.6 0-.6-.2-.6-.2-.6-.3-.2 .1-.1-.3-.2 .1-.1-.2-.2 0-.1-.3-.2-.5-.1-.4-.2-.9-.1-.8-.2-1.4-.1-1.9-.2-1.8-.1-1.1-.2-.8-.1-.5-.1 0-.2-.4-.2 .2-.1-.1-.1-.1-.2 .1-.6 .3-.6 .2-.6 0-.6 .2-.6 .1-.6 .1-.6 0-.6 .1-.2 0-.1 .2-.1 0-.2-.1-.2-.1-.1-.2-.1-.2-.2-.5-.1-1-.2-1.3-.1-1.6-.2-1.7-.1-1.4-.2-.9-.1-.8-.2-.4-.1-.3-.2-.1-.1-.2-.6-.3-.6-.2-.6-.4-.6 0-.6 .1-.6-.2-.6 .4-.6 0-.6 .3-.6 .5-.6 .5-.6-.1-.6-.5-.6-.4-.6-.1-.6-.3-.6-.1-.7-.2-.6 0-.6 .1-.6 .4-.6 .2-.1 0-.2 .2-.1 .2-.2 0-.1 .2-.2 .2-.1 .6-.1 .5-.2 .7-.1 1.3-.2 1.4-.1 1.8-.2 1.6-.2 1-.1 .7-.1 .3-.2 .3-.2 .2-.1-.2-.6 0-.6-.3-.6-.1z" fill="#c800ee" opacity="0.95"/>
<path d="M12.5 294.3l.6 .2 .6 .1 .6 .1 .1 0 .2-.1 .2-.2 .1-.4 .1-.6 .2-1.1 .2-1.5 .1-1.8 .2-1.5 .1-1.2 .2-.9 .1-.6 .1-.3 .2-.3 .1-.1 .2-.1 .1-.2 .2 0 .1-.1 .6-.3 .6-.2 .6-.2 .6 0 .7 .1 .6 .1 .6 .2 .6 .3 .6 .4 .6 .4 .6 0 .6-.4 .6-.3 .6-.3 .6-.3 .6-.1 .6-.1 .6 0 .6 .1 .6 .2 .6 .3 .6 .4 .1 .1 .2 .2 .1 .3 .2 .4 .1 .6 .2 1 .1 1.4 .2 1.7 .1 1.7 .2 1.3 .1 1 .2 .5 .1 .3 .1 .1 .2 .1 .2 0 .1 0 .1-.1 .2 0 .6-.1 .6-.1 .6-.2 .6-.1 .6-.1 .6-.2 .6-.1 .6-.1 .2-.1 .1 0 .1 0 .2 .1 .2 .1 .1 .2 .1 .4 .2 .8 .1 1.2 .2 1.6 .1 1.8 .2 1.5 .1 1.1 .2 .7 .1 .5 .2 .3 .1 .2 .2 .2 .1 .1 .2 .1 .1 .1 .2 .1 .6 .2 .6 .2 .6 .2 .6 0 .6-.1 .6-.1 .6-.3 .6-.3 .6-.3 .6-.4 .6 0 .6 .4 .6 .3 .6 .3 .6 .3 .6 .1 .6 .1 .6 0 .6-.2 .6-.2 .6-.2 .6-.4 .1-.2 .2-.2 .2-.3 .1-.5 .1-.7 .2-1.1 .2-1.5 .1-1.8 .1-1.6 .2-1.2 .1-.8 .2-.4 .1-.2 .2-.1 .1-.1 .2 0 .1 0 .2 .1 .1 0 .6 .1 .6 .2 .6 .1 .6 .1 .6 .2 .6 .1 .6 .1 .6 .1 .2 .1 .1 0 .2 0 .1-.1 .2-.1 .1-.3 .2-.5 .1-1 .2-1.3 .1-1.7 .2-1.7 .1-1.4 .2-1 .1-.6 .2-.4 .2-.3 .1-.2 .2-.1 .1-.1 .2-.1 .1-.1 .6-.3 .6-.2 .6-.2 .6 0 .6 0 .6 .2 .6 .2 .6 .3 .6 .4 .6 .3 .6 .2 .6-.4 .6-.4 .6-.3 .6-.2 .6-.2 .6-.1 .6 0 .6 .1 .6 .2 .6 .3 .6 .4 .1 .1 .2 .1 .1 .3 .2 .3 .1 .6 .2 .9 .1 1.2 .2 1.5 .1 1.8 .2 1.5 .1 1.1 .2 .6 .1 .4 .2 .2 .1 .1 .2 0 .1 0 .2 0 .2-.1 .6-.1 .6-.1 .5-.2 .6-.1 .6-.1 .6-.2 .6-.1 .6-.1 .6-.1 .2 .1 .1 .2 .2 .4 .1 .6 .2 1.1 .1 1.5 .2 1.8 .2 1.5 .1 1.2 .2 .9 .1 .6 .2 .3 .1 .3 .2 .1 .1 .1 .2 .2 .1 0 .2 .1 .6 .3 .6 .2 .6 .2 .6 0 .6-.1 .6-.1 .6-.2 .6-.3 .6-.4 .5-.4 .6 0 .6 .4 .6 .3 .6 .3 .6 .3 .6 .1 .6 .1 .6 0 .6-.1 .6-.2 .6-.3 .6-.4 .2-.1 .1-.2 .2-.3 .1-.4 .2-.6 .1-1 .2-1.4 .1-1.7 .2-1.7 .2-1.3 .1-1 .1-.5 .2-.3 .2-.1 .1-.1 .2 0 .1 0 .2 .1 .1 0 .6 .1 .6 .1 .6 .2 .6 .1 .6 .1 .6 .2 .6 .1 .6 .1 .1 .1 .2 0 .2 0 .1-.1 .2-.1 .1-.2 .2-.4 .1-.8 .2-1.2 .1-1.6 .2-1.8 .1-1.5 .2-1.1 .1-.7 .2-.5 .1-.3 .2-.2 .1-.2 .2-.1 .1-.1 .2-.1 .1-.1 .6-.2 .6-.2 .6-.2 .6 0 .6 .1 .6 .1 .6 .3 .6 .3 .6 .3 .6 .4 .6 0 .6-.4 .6-.3 .6-.3 .6-.3 .6-.1 .6-.1 .6 0 .6 .2 .6 .2 .6 .2 .6 .4 .2 .2 .1 .2 .2 .3 .1 .5 .2 .7 .1 1.1 .2 1.5 .1 1.8 .2 1.6 .1 1.2 .2 .8 .1 .4 .2 .2 .1 .1 .2 .1 .1 0 .2 0 .1-.1 .2 0 .6-.1 .6-.2 .6-.1 .6-.1 .6-.2 .6-.1 .6-.1 .6-.1 .1-.1 .2 0 .1 0 .2 .1 .1 .1 .2 .3 .1 .5 .2 1 .1 1.3 .2 1.7 .1 1.7 .2 1.4 .1 1 .2 .6 .1 .4 .2 .3 .1 .2 .2 .1 .1 .1 .2 .1 .1 .1 .6 .3 .6 .2 .6 .2 .6 0 .6 0 .6-.2 .6-.2 .6-.3 .6-.4 .6-.3 .6-.2 .6 .4 .6 .4 .6 .3 .6 .2 .6 .2 .6 .1 .6 0 .6-.1 .6-.2 .6-.3 .6-.4 .2-.1 .1-.1 .2-.3 .1-.3 .2-.6 .1-.9 .2-1.2 .1-1.5 .2-1.8 .1-1.5 .2-1.1 .1-.6 .2-.4 .1-.2 .2-.1 .1 0 .2 0 .1 0 .2 .1 .6 .1 .6 .1 .6 .2 .6 .1 .6 .1 .6 .2 .6 .1 .6 .1 .6 .1 .1-.1 .2-.2 .1-.4 .2-.6 .1-1.1 .2-1.5 .1-1.8 .2-1.5 .1-1.2 .2-.9 .1-.6 .2-.3 .1-.3 .2-.1 .1-.1 .2-.2 .1 0 .2-.1 .6-.3 .6-.2 .6-.2 .6 0 .6 .1 .6 .1 .6 .2 .6 .3 .6 .4 .6 .4 .6 0 .6-.4 .6-.3 .6-.3 .6-.3 .6-.1 .6-.1 .6 0 .6 .1 .6 .2 .6 .3 .6 .4 .1 .1 .2 .2 .1 .3 .2 .4 .1 .6 .2 1 .1 1.4 .2 1.7 .1 1.7 .2 1.3 .1 1 .2 .5 .1 .3 .2 .1 .1 .1 .2 0 .1 0 .2-.1 .1 0 .6-.1 .6-.1 .6-.2 .6-.1 .6-.1 .6-.2 .6-.1 .6-.1 .2-.1 .1 0 .2 0 .1 .1 .2 .1 .1 .2 .2 .4 .1 .8 .2 1.2 .1 1.6 .2 1.8 .1 1.5 .2 1.1 .1 .7 .2 .5 .1 .3 .2 .2 .1 .2 .2 .1 .1 .1 .2 .1 .1 .1 .6 .2 .6 .2 .6 .2 .6 0 .6-.1 .6-.1 .6-.3 .6-.3 .6-.3 .6-.4 .6 0 .6 .4 .6 .3 .6 .3 .6 .3 .6 .1 .6 .1 .6 0 .6-.2 .6-.2 .6-.2 .6-.4 .2-.2 .1-.2 .2-.3 .1-.5 .2-.7 .1-1.1 .2-1.5 .1-1.8 .2-1.6 .1-1.2 .2-.8 .1-.4 .2-.2 .1-.1 .2-.1 .1 0 .2 0 .1 .1 .2 0 .6 .1 .6 .2 .6 .1 .6 .1 .6 .2 .6 .1 .6 .1 .6 .1 .1 .1 .2 0 .1 0 .2-.1 .1-.1 .2-.3 .1-.5 .2-1 .1-1.3 .2-1.7 .1-1.7 .2-1.4 .1-1 .2-.6 .1-.4 .2-.3 .1-.2 .2-.1 .1-.1 .2-.1 .1-.1 .6-.3 .6-.2 .6-.2 .6 0 .6 0 .6 .2 .6 .2 .6 .3 .6 .4 .6 .3 .6 .2 .6-.4 .6-.4 .6-.3 .6-.2 .6-.2 .6-.1 .6 0 .6 .1 .6 .2 .6 .3 .6 .4 .2 .1 .1 .1 .2 .3 .1 .3 .2 .6 .1 .9 .2 1.2 .1 1.5 .2 1.8 .1 1.5 .2 1.1 .1 .6 .2 .4 .1 .2 .2 .1 .1 0 .2 0 .1 0 .2-.1 .6-.1 .6-.1 .6-.2 .6-.1 .6-.1 .6-.2 .6-.1 .6-.1 .6-.1 .1 .1 .2 .2 .1 .4 .2 .6 .1 1.1 .2 1.5 .1 1.8 .2 1.5 .1 1.2 .2 .9 .1 .6 .2 .3 .1 .3 .2 .1 .1 .1 .2 .2 .1 0 .2 .1 .6 .3 .6 .2 .6 .2 .6 0 .6-.1 .6-.1 .6-.2 .6-.3 .6-.4 .6-.4 .6 0 .6 .4 .6 .3 .6 .3 .6 .3 .6 .1 .6 .1 .6 0 .6-.1 .6-.2 .6-.3 .6-.4 .1-.1 .2-.2 .1-.3 .2-.4 .1-.6 .2-1 .1-1.4 .2-1.7 .1-1.7 .2-1.3 .1-1 .2-.5 .1-.3 .2-.1 .1-.1 .2 0 .1 0 .2 .1 .1 0 .6 .1 .6 .1 .6 .2 .6 .1 .6 .1 .6 .2 .6 .1 .6 .1 .2 .1 .1 0 .2 0 .1-.1 .2-.1 .1-.2 .2-.4 .1-.8 .2-1.2 .1-1.6 .2-1.8 .1-1.5 .2-1.1 .1-.7 .2-.5 .1-.3 .2-.2 .1-.2 .2-.1 .1-.1 .1-.1 .2-.1 .6-.2 .6-.2 .6-.2 .6 0" fill="none" stroke="#c800ee" stroke-width="0.75" stroke-linejoin="round" stroke-linecap="round" opacity="0.95" />
<path d="M12.5 348l.6 0 .6-.5 .6-.1 .6-.5 .6-.9 .6 1 .6-.3 .6 .7 .6 .4 .6 .4 .6 0 .6 .1 .6 0 .6-.4 .6-.2 .6-.2 .2-.2 .1-.2 .2 0 .1-.4 .2-.3 .1-1.1 .2-.2 .1-1.2 .1-1.4 .2-1.8 .1-1.6 .2-1.2 .1-.7 .2-.3 .1-.4 .2 0 .1 .1 .2 0 .1 0 .2 .1 .1-.2 .6 .3 .6 .2 .6 .1 .6 .1 .6 .1 .6 .2 .6 .1 .6 0 .2 .1 .1 0 .2-.3 .1 .2 .2-.2 .1-.2 .2-.7 .1-.9 .2-1.5 .1-1.9 .2-1.5 .1-1.5 .2-.7 .1-.7 .2-.2 .1-.2 .2-.3 .1-.1 .2-.1 .1 0 .2-.3 .6-.1 .6-.3 .6-.1 .6-.1 .6 .1 .6 0 .6 .3 .6 .1 .6 .7 .6 .2 .6 .2 .6-.4 .6-.3 .6-.4 .6-.2 .6-.2 .6 0 .6 0 .6 0 .6 .3 .6 .3 .6 .4 .2 0 .1 .2 .1 .2 .2 .6 .1 .4 .2 1 .1 1.4 .2 1.5 .1 1.7 .2 1.7 .1 .6 .2 .9 .1 .2 .2 .2 .1-.1 .2 .1 .1-.1 .2 0 .1 0 .6-.2 .6 0 .6-.2 .6-.1 .6-.1 .6-.4 .6 .1 .6-.2 .2-.2 .1 .2 .2-.2 .1 .4 .2 .1 .1 0 .2 .3 .1 1 .2 1.1 .1 1.4 .2 1.9 .1 1.4 .2 1.1 .1 1.1 .2 .3 .1 .5 .2 0 .1 .4 .2-.3 .1 .4 .2-.2 .1 .4 .6 .3 .6 0 .6 .3 .6 .1 .6-.3 .6-.1 .6-.3 .6-.2 .6-.2 .6-.6 .6 .2 .6-.2 .6 .9 .6 .3 .6 .2 .6 .3 .6 0 .6 0 .6-.2 .6-.2 .6-.2 .6-.5 .2-.2 .1-.2 .2-.2 .1-.7 .2-.4 .1-1.2 .2-1.3 .1-1.8 .2-1.6 .1-1.4 .2-.7 .1-.5 .2-.4 .1 0 .2 0 .2 0 .1 0 .2-.3 .1 .4 .6 0 .6 .2 .6 .2 .6 .2 .6 .1 .6 .1 .6 .1 .6 .2 .1-.2 .2 0 .1 .2 .2 0 .2-.2 .1-.2 .2-.7 .1-.8 .2-1.3 .1-1.6 .2-2 .1-1.1 .2-1 .1-.8 .2-.8 .1 .1 .2-.1 .1-.3 .2 0 .1-.2 .2-.3 .6-.3 .6 0 .6 0 .6-.1 .6 0 .6 .1 .6 .1 .6 .4 .6 .4 .6 .3 .6-.1 .6 0 .6-.4 .6-.5 .6 0 .6-.6 .6 .2 .5 0 .6 .3 .6 .2 .6 .1 .6 .2 .2 .2 .1 .2 .2 .4 .1 .2 .2 .6 .1 .9 .2 1.1 .2 1.4 .1 1.9 .2 1.3 .1 1.3 .2 .7 .1 .5 .2 0 .1 .1 .2 .1 .1 0 .2 0 .1 .1 .6-.3 .6-.2 .6-.1 .6 0 .6-.1 .6-.2 .6-.2 .6-.1 .6 0 .2-.1 .1-.1 .2 .8 .1 .4 .2 1.2 .1 1.5 .2 1.7 .1 1.3 .2 1.3 .1 1.2 .2 .6 .1 .2 .2 .4 .1 .2 .2 .1 .1 .1 .2 .1 .1 .1 .6 .3 .6 .3 .6 0 .6 0 .6 0 .6-.2 .6-.2 .6-.4 .6-.2 .6-.5 .6 .1 .6 .3 .6 .4 .6 .3 .6 .2 .6 .1 .6 .2 .6 0 .6-.2 .6-.2 .6-1 .6 .3 .1-.2 .2 0 .2-.2 .1-.6 .2-.5 .1-1 .2-1.2 .1-2 .2-1.4 .1-1.5 .2-.9 .1-.7 .2-.4 .1-.2 .2 .1 .1 0 .2 .1 .1 0 .2-.1 .6 .3 .6 .1 .6 .2 .6 0 .6 .2 .6 .2 .6 0 .6 .1 .1 .1 .2 .1 .1 0 .2 0 .1-.2 .2-.2 .1-.3 .2-.9 .1-1 .2-1.8 .1-2 .2-1.5 .1-.8 .2-.8 .1-.5 .2-.2 .1-.3 .2-.1 .1-.2 .2-.2 .1 0 .2 0 .6-.3 .6-.2 .6-.2 .6 0 .6 .1 .6 .1 .6 .2 .6 .3 .6 .4 .6 .4 .6 0 .6-.6 .6-.3 .6-.1 .6-.4 .6 0 .6-.1 .6-.1 .6 .3 .6 .1 .6 .3 .6 .4 .1 .2 .2 .2 .1 .3 .2 .4 .1 .7 .2 .9 .1 1.3 .2 2 .1 1.7 .2 1.3 .1 .5 .2 .5 .1 .6 .2 0 .1-.1 .2 .2 .1-.1 .2 0 .1 0 .6-.2 .6 0 .6-.2 .6-.2 .6-.1 .6-.1 .6-.3 .6 .1 .2-.2 .1 .1 .2-.1 .1 .1 .2-.1 .1 .4 .2 .7 .1 .8 .2 1.3 .1 1.8 .2 1.5 .1 1.4 .2 1.2 .1 .7 .2 .4 .1 .2 .2 0 .1 .4 .2 .1 .1 .1 .2 0 .6 .4 .6 .2 .6 0 .6 .1 .6-.1 .6-.2 .6-.1 .6-.2 .6-.3 .6-.7 .6 .2 .6 .2 .6 .5 .6 .2 .6 .1 .6 .4 .6 0 .6 0 .6 0 .6-.2 .6-.2 .6-.6 .1-.1 .2 0 .1-.3 .2-.3 .1-.5 .2-.9 .1-1.1 .2-1.6 .1-1.8 .2-1.6 .1-1 .2-.7 .1-.4 .2-.2 .1 0 .2-.1 .1 0 .2 0 .1 .1 .6-.1 .6 .3 .6 .1 .6 .2 .6 0 .6 .3 .6 .1 .6 .1 .6 .1 .2-.1 .1-.2 .2-.3 .1-.7 .2-.9 .1-1.6 .2-2 .1-1.2 .2-1.3 .1-1.1 .2-.5 .1-.3 .2-.3 .1-.2 .2-.2 .1 .1 .2-.1 .1-.3 .6-.2 .6-.3 .6 .1 .6-.2 .6 .1 .6 .1 .6 0 .6 .7 .6 .1 .6 .4 .6 .3 .6-.5 .6-.3 .6-.3 .6-.4 .6-.1 .6-.1 .6 .2 .6 0 .6 .2 .6 .3 .6 .4 .2 .1 .1 .2 .2 .2 .1 .5 .2 .6 .1 .9 .2 1.2 .1 1.7 .2 1.7 .1 1.3 .2 1.1 .1 .7 .2 .1 .1 .1 .2 .2 .1-.1 .2 .2 .1-.1 .2 0 .6-.3 .6 .1 .6-.2 .6-.1 .6-.3 .6 0 .6-.1 .6-.2 .1-.1 .2 .1 .1-.2 .2 .2 .1 .1 .2 .2 .1 .4 .2 .6 .1 1.1 .2 1.7 .1 2 .2 1.4 .1 1.1 .2 .8 .1 .4 .2 .5 .1 .1 .2 .3 .1 0 .2 .1 .1 .2 .2 .1 .6 .2 .6 .2 .6 0 .6 .1 .6-.1 .6-.2 .6-.3 .6 0 .6-.4 .6-.5 .6 .1 .6 .3 .6 .3 .6 .2 .6 .2 .6 .4 .6 .1 .6 0 .6-.3 .6-.2 .6-.2 .6-.3 .1-.4 .2 0 .1-.3 .2-.6 .1-.5 .2-1.1 .1-1.5 .2-1.8 .1-1.5 .2-1.4 .1-.7 .2-.5 .1-.3 .2-.1 .1 0 .2 0 .1 .1 .2-.1 .1 .1 .6 .1 .6 .1 .6 .2 .6-.1 .6 .2 .6 .2 .6 .2 .6-.1 .2 .3 .1-.2 .2 .2 .1 0 .2-.2 .1-.4 .2-.4 .1-.9 .2-1.3 .1-1.6 .2-1.8 .1-1.3 .2-1.1 .1-.8 .2-.6 .1 0 .2-.3 .1 0 .2-.1 .1-.2 .2-.2 .6-.1 .6-.4 .6-.1 .6 .1 .6-.1 .6 .3 .6 .2 .6 .2 .6 .2 .6 .4 .6 .4 .6-.5 .6-.5 .6-.1 .6-.3 .6-.1 .6-.2 .6 .1 .6 .1 .6 .2 .6 .2 .6 .5 .1 .1 .2 .1 .1 .2 .2 .3 .1 .5 .2 .9 .1 1.3 .2 1.4 .1 1.9 .2 1.5 .1 1.1 .2 .7 .1 .2 .2 .4 .1 .1 .2 0 .1-.2 .2 .1 .1-.2 .6-.1 .6-.2 .6 0 .6-.1 .6-.2 .6 .1 .6-.2 .6-.1 .6-.1 .2 .1 .1 .2 .2 .3 .1 .6 .2 .9 .1 1.6 .2 1.8 .1 1.4 .2 1.3 .1 .9 .2 .7 .1 .3 .2 .3 .1 .2 .2 .1 .1 .1 .2 0 .1 .3 .6 .1 .6 .3 .6 .1 .6 0 .6 .1 .6-.3 .6-.1 .6-.4 .6-.4 .6-.4 .6-.1 .6 .4 .6 .5 .6 .1 .6 .4 .6 .2 .6 0 .6 0 0 2.5-.6 0-.6 .1-.6-.2-.6-.3-.6-.3-.6-.5-.6-.4-.6 .3-.6 .2-.6 .4-.6 .3-.6 .4-.6 .1-.6 0-.6-.2-.6 0-.6 0-.6-.5-.1-.2-.2 .1-.1-.3-.2 0-.1-.3-.2-.2-.1-.4-.2-.5-.1-.9-.2-1.2-.1-1.7-.2-1.8-.1-1.3-.2-1.2-.1-.6-.2-.3-.1-.1-.2 0-.6 .1-.6-.1-.6 .3-.6 .1-.6 0-.6 .2-.6 .1-.6 .2-.6 0-.1 0-.2 .2-.1-.1-.2-.1-.1-.1-.2-.2-.1-.3-.2-.6-.1-1.1-.2-1.5-.1-2-.2-1.3-.1-1.1-.2-1-.1-.5-.2-.4-.1-.2-.2 0-.1-.2-.6-.5-.6 .1-.6-.6-.6 .1-.6-.2-.6 .1-.6 .2-.6 .2-.6 .5-.6 .3-.6 .4-.6-.3-.6-.4-.6-.1-.6-.4-.6-.3-.6-.1-.6 0-.6 0-.6 .1-.6 .5-.6 .1-.2 0-.1 .2-.2 0-.1 .2-.2 .2-.1 .3-.2 .5-.1 .5-.2 1.4-.1 1.2-.2 1.5-.1 1.8-.2 1.4-.1 .8-.2 .4-.1 .5-.2 0-.1 0-.2 0-.1 .1-.2 0-.6-.2-.6-.2-.6 0-.6-.3-.6-.1-.6-.2-.6-.1-.6 .2-.1-.3-.2-.1-.1 0-.2 0-.1 .2-.2 0-.1 .4-.2 .3-.1 .8-.2 1.3-.1 1.8-.2 1.7-.1 1.4-.2 .9-.1 1-.2 .2-.1 .5-.2 .1-.1 .1-.6 .3-.6 .3-.6 .3-.6 .2-.6 0-.6-.2-.6-.1-.6-.2-.6-.2-.6-.4-.6-.5-.6 .1-.6 .3-.6 .3-.6 .4-.6 .2-.6 .2-.6 .4-.6-.4-.6-.1-.6-.2-.6-.3-.2 0-.1 .1-.2-.1-.1-.3-.2-.3-.1-.2-.2-.2-.1-.7-.2-.5-.1-1.4-.2-1.3-.1-1.9-.2-1.5-.1-1.2-.2-.8-.1-.4-.2-.3-.1 .1-.2-.1-.1-.1-.2 .2-.1-.2-.6 .1-.6 .3-.6 0-.6 .2-.6 .3-.6 0-.6 .1-.6 .3-.2-.2-.1 .2-.2-.2-.1 .1-.2-.1-.1-.1-.2-.4-.1-.6-.2-.8-.1-1.5-.2-1.7-.1-1.7-.2-1.1-.1-1.2-.2-.5-.1-.3-.2-.3-.1-.2-.2-.1-.6-.5-.6-.2-.6-.2-.6-.1-.6 .1-.6-.2-.6 .4-.6 .3-.6 .2-.6 .3-.6 .3-.6-.1-.6-.3-.6-.4-.6-.3-.6-.2-.6-.2-.6 .2-.6-.1-.6 0-.6 .3-.6 .3-.1 .1-.2 .2-.1-.1-.2 .2-.1 .2-.2 .3-.1 .3-.2 .6-.1 .9-.2 1.2-.1 1.7-.2 1.8-.1 1.5-.2 1-.1 .6-.2 .3-.1 .1-.2 .2-.6-.1-.6-.1-.6-.2-.6-.1-.6 0-.6-.3-.6 0-.6-.3-.6 .1-.1-.3-.2 .1-.1 0-.2-.1-.1 .2-.2 .5-.1 .1-.2 .6-.1 1.3-.2 1.6-.1 1.6-.2 1.4-.1 1.4-.2 .8-.1 .4-.2 .5-.1 .1-.2 .2-.1 0-.6 .5-.6 .1-.6 .2-.6 .4-.6-.1-.6-.1-.6-.1-.6-.5-.6-.1-.6-.5-.6-.4-.6 .4-.6 .3-.6 .3-.6 .2-.6 .2-.6 .2-.6 .1-.6-.1-.6 .1-.6-.4-.6-.4-.2 0-.1-.2-.2 0-.1 0-.2-.4-.1-.4-.2-.1-.1-.8-.2-1-.1-1.5-.2-1.7-.1-1.8-.2-1.3-.1-.8-.2-.6-.1-.1-.2-.2-.1 0-.2-.1-.1 0-.2 .1-.6 .2-.6 .1-.6 .1-.6 .1-.6 .2-.6 .1-.6 .1-.6 .2-.1 .4-.2-.4-.1-.1-.2 .2-.1-.2-.2-.1-.1-.1-.2-.4-.1-1-.2-1.2-.1-1.7-.2-1.7-.1-1.4-.2-1.2-.1-.7-.2-.3-.1-.4-.2-.3-.1 0-.6-.5-.6-.1-.6-.2-.6-.3-.6 .3-.6-.1-.6 0-.6 .2-.6 .3-.6 .5-.6 .5-.6-.3-.6-.1-.6-.6-.6-.2-.6-.3-.6-.2-.6 .1-.6-.1-.6 .1-.6 .2-.6 .4-.2 .2-.1-.1-.2 .1-.1 .2-.2 .1-.1 .2-.2 .4-.1 .5-.2 .8-.1 1.7-.2 .8-.1 1.8-.2 1.7-.1 1.3-.2 .5-.1 .4-.2 .2-.1 .2-.2 0-.1 0-.2 .1-.1-.2-.6-.1-.6-.1-.6-.2-.6 0-.6-.2-.6 0-.6-.3-.6 .1-.2 .1-.1-.4-.2 .2-.1-.1-.2 .1-.1 .2-.2 .1-.1 .8-.2 .9-.1 1.3-.2 1.9-.1 1.4-.2 1.4-.1 1.1-.2 .6-.1 .2-.2 .3-.2 .5-.1-.2-.6 .8-.6 .1-.6 .2-.6 0-.6-.1-.6 .1-.6-.3-.6-.2-.6-.4-.6-.3-.6-.4-.6 0-.6 .5-.6 .3-.6 .4-.6 .2-.6 .2-.6-.1-.6-.1-.6 .1-.6-.3-.6-.3-.1-.2-.2 0-.1 0-.2-.3-.1-.1-.2-.2-.1-.3-.2-.6-.1-1.1-.2-1.3-.1-1.5-.2-1.9-.1-1.3-.2-.9-.1-.7-.2-.4-.1 0-.2-.2-.6 0-.6 .1-.6 .1-.6 .2-.6 .1-.6 .2-.6 .1-.6 .1-.6 .2-.1-.1-.2 .2-.1 .6-.2-.8-.1-.1-.2-.2-.1-.2-.2-.8-.1-.9-.2-1.8-.1-1.6-.2-1.4-.2-1.4-.1-.9-.2-.4-.1-.4-.2-.2-.1-.2-.2 0-.6-.3-.6-.5-.6-.1-.6-.1-.5-.1-.6 .1-.6 .3-.6 .1-.6 .3-.6 .5-.6 .4-.6-.1-.6-.5-.6-.4-.6-.3-.6-.2-.6-.1-.6-.1-.6 .1-.6 .2-.6 .3-.6 .2-.2 .2-.1 0-.2 0-.1 .2-.2 .1-.1 .5-.2 .5-.1 .5-.2 1-.1 1.4-.2 1.7-.1 2-.2 1.1-.1 .9-.2 .4-.1 .2-.2 .1-.2 .2-.1 0-.2 0-.1-.1-.6-.1-.6-.2-.6-.1-.6-.1-.6-.2-.6-.1-.6 0-.6-.1-.1-.1-.2 0-.1-.1-.2 0-.2-.1-.1 .2-.2 .3-.1 .4-.2 .9-.1 1.2-.2 1.6-.1 1.9-.2 1.3-.1 1.2-.2 .7-.1 .4-.2 .3-.1 .1-.2 .4-.6 .3-.6 .3-.6 .1-.6 0-.6 .1-.6-.1-.6 0-.6-.2-.6-.4-.6-.3-.6-.6-.6 .1-.6 .4-.6 .4-.6 .2-.6 .2-.6 .4-.6 0-.6 0-.6-.2-.6-.2-.6-.4-.1 .1-.2-.2-.1-.1-.2-.2-.1 0-.2-.3-.1-.3-.2-.4-.1-1-.2-1.1-.1-1.5-.2-1.5-.1-1.8-.2-1.2-.1-.6-.2-.5-.1-.1-.2-.1-.1-.1-.2 .1-.1-.2-.2 .2-.6 .4-.6-.3-.6 .2-.6 .2-.6 .1-.6 .1-.6 .1-.6 .1-.1 .3-.2 0-.1 0-.2-.2-.1-.1-.2 .3-.1-.7-.2-.5-.1-1-.2-1.5-.1-1.7-.2-1.7-.1-1.2-.2-1-.1-.6-.2-.4-.1-.3-.1 .1-.2-.4-.6-.2-.6-.4-.6-.3-.6-.1-.6 0-.6 .1-.6 .4-.6 0-.6 .5-.6 .3-.6 .4-.6-.2-.6-.4-.6-.2-.6-.5-.6-.1-.6-.2-.6 .4-.6-.3-.6 0-.6 .3-.6 .2-.2 0-.1 .1-.2 .3-.1 0-.2 .5-.1 .1-.2 .3-.1 .5-.2 .9-.1 1.3-.2 1.6-.1 1.7-.2 1.5-.1 1.2-.2 .6-.1 .1-.2 .2-.1 .1-.2 .2-.1-.3-.2 .8-.6-.9-.6-.1-.6-.1-.6-.2-.6 0-.6-.2-.6-.2-.6 0-.1-.1-.2 0-.1 0-.2 .2-.1-.1-.2 0-.1 .2-.2 .3-.1 .7-.2 1.3-.1 1.4-.2 1.8-.1 1.5-.1 1.2-.2 .7-.1 .6-.2 .3-.1 .3-.2 .4-.1-.1-.2 .2-.6 .2-.6 .4-.6 0-.6 .3-.6-.1-.6 0-.6-.4-.6-.3-.6-.3-.6-.4-.6-.3-.6 .3-.6 .3-.6 .4-.6 .2-.6 .3z" fill="#bb9418" opacity="0.95"/>
<path d="M12.5 349.4l.6-.2 .6-.3 .6-.4 .6-.3 .6-.4 .6 .4 .6 .4 .6 .3 .6 .3 .6 .2 .6 .1 .6 0 .6-.1 .6-.2 .6-.2 .6-.3 .2-.1 .1-.2 .2-.1 .1-.3 .2-.3 .1-.5 .2-.8 .1-1.2 .1-1.6 .2-1.7 .1-1.6 .2-1.1 .1-.7 .2-.4 .1-.2 .2 0 .1-.1 .2 0 .1 0 .2 .1 .1 0 .6 .1 .6 .2 .6 .1 .6 .1 .6 .2 .6 .1 .6 .1 .6 .2 .2 0 .1 0 .2 0 .1-.1 .2-.2 .1-.3 .2-.6 .1-1 .2-1.5 .1-1.8 .2-1.5 .1-1.3 .2-.9 .1-.6 .2-.4 .1-.2 .2-.2 .1-.1 .2-.1 .1-.1 .2-.1 .6-.3 .6-.2 .6-.2 .6 0 .6 .1 .6 .1 .6 .2 .6 .3 .6 .4 .6 .4 .6 0 .6-.3 .6-.4 .6-.3 .6-.3 .6-.1 .6-.1 .6 0 .6 .1 .6 .2 .6 .3 .6 .4 .2 .1 .1 .2 .1 .2 .2 .4 .1 .7 .2 .9 .1 1.3 .2 1.6 .1 1.8 .2 1.4 .1 1 .2 .5 .1 .3 .2 .2 .1 .1 .2 0 .1 0 .2-.1 .1 0 .6-.1 .6-.1 .6-.2 .6-.1 .6-.1 .6-.2 .6-.1 .6-.1 .2-.1 .1 0 .2 0 .1 .1 .2 .1 .1 .2 .2 .4 .1 .7 .2 1.2 .1 1.6 .2 1.7 .1 1.5 .2 1.2 .1 .8 .2 .5 .1 .3 .2 .2 .1 .1 .2 .2 .1 .1 .2 .1 .1 .1 .6 .2 .6 .2 .6 .2 .6 0 .6-.1 .6-.1 .6-.2 .6-.3 .6-.4 .6-.4 .6 0 .6 .4 .6 .3 .6 .3 .6 .3 .6 .1 .6 .1 .6 0 .6-.1 .6-.2 .6-.3 .6-.4 .2-.2 .1-.2 .2-.3 .1-.4 .2-.7 .1-1.1 .2-1.4 .1-1.8 .2-1.6 .1-1.3 .2-.8 .1-.5 .2-.2 .1-.1 .2-.1 .2 0 .1 0 .2 .1 .1 0 .6 .1 .6 .1 .6 .2 .6 .1 .6 .2 .6 .1 .6 .1 .6 .1 .1 .1 .2 0 .1 0 .2-.1 .2-.1 .1-.3 .2-.5 .1-.8 .2-1.3 .1-1.7 .2-1.7 .1-1.4 .2-1.1 .1-.6 .2-.5 .1-.3 .2-.1 .1-.2 .2-.1 .1-.1 .2-.1 .6-.3 .6-.2 .6-.2 .6 0 .6 0 .6 .2 .6 .2 .6 .3 .6 .3 .6 .4 .6 .2 .6-.4 .6-.4 .6-.3 .6-.2 .6-.2 .6-.1 .5 0 .6 .1 .6 .2 .6 .3 .6 .3 .2 .2 .1 .1 .2 .3 .1 .3 .2 .5 .1 .8 .2 1.2 .2 1.6 .1 1.7 .2 1.6 .1 1.1 .2 .7 .1 .4 .2 .2 .1 0 .2 .1 .1 0 .2 0 .1-.1 .6-.1 .6-.1 .6-.2 .6-.1 .6-.1 .6-.2 .6-.1 .6-.1 .6-.1 .2 .1 .1 .2 .2 .3 .1 .6 .2 1 .1 1.5 .2 1.8 .1 1.5 .2 1.3 .1 .9 .2 .6 .1 .4 .2 .2 .1 .2 .2 .1 .1 .1 .2 .1 .1 .1 .6 .3 .6 .2 .6 .2 .6 0 .6-.1 .6-.1 .6-.2 .6-.3 .6-.4 .6-.4 .6 0 .6 .3 .6 .4 .6 .3 .6 .3 .6 .1 .6 .1 .6 0 .6-.1 .6-.2 .6-.3 .6-.4 .1-.1 .2-.2 .2-.2 .1-.4 .2-.7 .1-.9 .2-1.3 .1-1.7 .2-1.7 .1-1.4 .2-1 .1-.5 .2-.3 .1-.2 .2-.1 .1 0 .2 0 .1 .1 .2 0 .6 .1 .6 .1 .6 .2 .6 .1 .6 .1 .6 .2 .6 .1 .6 .1 .1 .1 .2 0 .1 0 .2-.1 .1-.1 .2-.2 .1-.4 .2-.7 .1-1.2 .2-1.6 .1-1.7 .2-1.5 .1-1.2 .2-.8 .1-.5 .2-.3 .1-.2 .2-.1 .1-.2 .2-.1 .1-.1 .2-.1 .6-.2 .6-.2 .6-.2 .6 0 .6 .1 .6 .1 .6 .2 .6 .3 .6 .4 .6 .4 .6 0 .6-.4 .6-.3 .6-.3 .6-.3 .6-.1 .6-.1 .6 0 .6 .1 .6 .2 .6 .3 .6 .4 .1 .2 .2 .2 .1 .3 .2 .4 .1 .7 .2 1.1 .1 1.4 .2 1.8 .1 1.6 .2 1.3 .1 .8 .2 .5 .1 .2 .2 .1 .1 .1 .2 0 .1 0 .2-.1 .1 0 .6-.1 .6-.1 .6-.2 .6-.1 .6-.2 .6-.1 .6-.1 .6-.1 .2-.1 .1 0 .2 0 .1 .1 .2 .1 .1 .3 .2 .5 .1 .8 .2 1.3 .1 1.7 .2 1.7 .1 1.4 .2 1.1 .1 .6 .2 .5 .1 .3 .2 .1 .1 .2 .2 .1 .1 .1 .2 .1 .6 .3 .6 .2 .6 .2 .6 0 .6 0 .6-.2 .6-.2 .6-.3 .6-.3 .6-.4 .6-.2 .6 .4 .6 .4 .6 .3 .6 .2 .6 .2 .6 .1 .6 0 .6-.1 .6-.2 .6-.3 .6-.3 .1-.2 .2-.1 .1-.3 .2-.3 .1-.5 .2-.8 .1-1.2 .2-1.6 .1-1.7 .2-1.6 .1-1.1 .2-.7 .1-.4 .2-.2 .1 0 .2-.1 .1 0 .2 0 .1 .1 .6 .1 .6 .1 .6 .2 .6 .1 .6 .1 .6 .2 .6 .1 .6 .1 .6 .1 .2-.1 .1-.2 .2-.3 .1-.6 .2-1 .1-1.5 .2-1.8 .1-1.5 .2-1.3 .1-.9 .2-.6 .1-.4 .2-.2 .1-.2 .2-.1 .1-.1 .2-.1 .1-.1 .6-.3 .6-.2 .6-.2 .6 0 .6 .1 .6 .1 .6 .2 .6 .3 .6 .4 .6 .4 .6 0 .6-.3 .6-.4 .6-.3 .6-.3 .6-.1 .6-.1 .6 0 .6 .1 .6 .2 .6 .3 .6 .4 .2 .1 .1 .2 .2 .2 .1 .4 .2 .7 .1 .9 .2 1.3 .1 1.7 .2 1.7 .1 1.4 .2 1 .1 .5 .2 .3 .1 .2 .2 .1 .1 0 .2 0 .1-.1 .2 0 .6-.1 .6-.1 .6-.2 .6-.1 .6-.1 .6-.2 .6-.1 .6-.1 .1-.1 .2 0 .1 0 .2 .1 .1 .1 .2 .2 .1 .4 .2 .7 .1 1.2 .2 1.6 .1 1.7 .2 1.5 .1 1.2 .2 .8 .1 .5 .2 .3 .1 .2 .2 .1 .1 .2 .2 .1 .1 .1 .2 .1 .6 .2 .6 .2 .6 .2 .6 0 .6-.1 .6-.1 .6-.2 .6-.3 .6-.4 .6-.4 .6 0 .6 .4 .6 .3 .6 .3 .6 .3 .6 .1 .6 .1 .6 0 .6-.1 .6-.2 .6-.3 .6-.4 .1-.2 .2-.2 .1-.3 .2-.4 .1-.7 .2-1.1 .1-1.4 .2-1.8 .1-1.6 .2-1.3 .1-.8 .2-.5 .1-.2 .2-.1 .1-.1 .2 0 .1 0 .2 .1 .1 0 .6 .1 .6 .1 .6 .2 .6 .1 .6 .2 .6 .1 .6 .1 .6 .1 .2 .1 .1 0 .2 0 .1-.1 .2-.1 .1-.3 .2-.5 .1-.8 .2-1.3 .1-1.7 .2-1.7 .1-1.4 .2-1.1 .1-.6 .2-.5 .1-.3 .2-.1 .1-.2 .2-.1 .1-.1 .2-.1 .6-.3 .6-.2 .6-.2 .6 0 .6 0 .6 .2 .6 .2 .6 .3 .6 .3 .6 .4 .6 .2 .6-.4 .6-.4 .6-.3 .6-.2 .6-.2 .6-.1 .6 0 .6 .1 .6 .2 .6 .3 .6 .3 .1 .2 .2 .1 .1 .3 .2 .3 .1 .5 .2 .8 .1 1.2 .2 1.6 .1 1.7 .2 1.6 .1 1.1 .2 .7 .1 .4 .2 .2 .1 0 .2 .1 .1 0 .2 0 .1-.1 .6-.1 .6-.1 .6-.2 .6-.1 .6-.1 .6-.2 .6-.1 .6-.1 .6-.1 .2 .1 .1 .2 .2 .3 .1 .6 .2 1 .1 1.5 .2 1.8 .1 1.5 .2 1.3 .1 .9 .2 .6 .1 .4 .2 .2 .1 .2 .2 .1 .1 .1 .2 .1 .1 .1 .6 .3 .6 .2 .6 .2 .6 0 .6-.1 .6-.1 .6-.2 .6-.3 .6-.4 .6-.4 .6 0 .6 .3 .6 .4 .6 .3 .6 .3 .6 .1 .6 .1 .6 0" fill="none" stroke="#bb9418" stroke-width="0.75" stroke-linejoin="round" stroke-linecap="round" opacity="0.95" />
<g opacity="0.8"><text x="6.6" y="251.8" fill="#1818f0" font-family="Liberation Sans, Arial, sans-serif" font-size="5.2" opacity="0.75">1</text><path d="M8.6 246 L11.2 247.6 L8.6 249.2 Z" fill="#1818f0"/><path d="M8.2 241.1 h2.6 M9.5 241.1 v3" stroke="#1818f0" stroke-width="0.7" fill="none" opacity="0.7"/></g>
<g opacity="0.8"><text x="6.6" y="298.2" fill="#c800ee" font-family="Liberation Sans, Arial, sans-serif" font-size="5.2" opacity="0.75">2</text><path d="M8.6 292.4 L11.2 294 L8.6 295.6 Z" fill="#c800ee"/></g>
<g opacity="0.8"><text x="6.6" y="342.6" fill="#bb9418" font-family="Liberation Sans, Arial, sans-serif" font-size="5.2" opacity="0.75">3</text><path d="M8.6 336.8 L11.2 338.4 L8.6 340 Z" fill="#bb9418"/></g>
<line x1="11.8" y1="205.7" x2="11.8" y2="371.5" stroke="#9a9a9a" stroke-width="1.1"/>
<line x1="5.3" y1="205.7" x2="261.8" y2="205.7" stroke="#a8a8a8" stroke-width="1.7"/>
<rect x="5.3" y="197" width="256.5" height="174.5" fill="none" stroke="#3a3a3a" stroke-width="1.2"/>
<path d="M134.9 204.9 L138.9 204.9 L136.9 207.5 Z" fill="#1a60e0"/>
<text x="7.8" y="203.7" fill="#5a5aff" font-family="Liberation Sans, Arial, sans-serif" font-size="6.6">1</text>
<text x="16.5" y="203.7" fill="#4a4a4a" font-family="Liberation Sans, Arial, sans-serif" font-size="6.6" textLength="15.9" lengthAdjust="spacingAndGlyphs">10.0A/</text>
<text x="39.8" y="203.7" fill="#e050f0" font-family="Liberation Sans, Arial, sans-serif" font-size="6.6">2</text>
<text x="48.8" y="203.7" fill="#4a4a4a" font-family="Liberation Sans, Arial, sans-serif" font-size="6.6" textLength="16.4" lengthAdjust="spacingAndGlyphs">10.0A/</text>
<text x="72.2" y="203.7" fill="#d4b860" font-family="Liberation Sans, Arial, sans-serif" font-size="6.6">3</text>
<text x="81.6" y="203.7" fill="#4a4a4a" font-family="Liberation Sans, Arial, sans-serif" font-size="6.6" textLength="15.8" lengthAdjust="spacingAndGlyphs">10.0A/</text>
<text x="105.3" y="203.7" fill="#30d080" font-family="Liberation Sans, Arial, sans-serif" font-size="6.6">4</text>
<text x="173" y="203.7" fill="#4a4a4a" font-family="Liberation Sans, Arial, sans-serif" font-size="6.6" textLength="10.2" lengthAdjust="spacingAndGlyphs">0.0s</text>
<text x="200.8" y="203.7" fill="#4a4a4a" font-family="Liberation Sans, Arial, sans-serif" font-size="6.6" textLength="18.6" lengthAdjust="spacingAndGlyphs">10.40ms/</text>
<text x="237" y="203.7" fill="#4a4a4a" font-family="Liberation Sans, Arial, sans-serif" font-size="6.6" textLength="11.7" lengthAdjust="spacingAndGlyphs">Auto</text>
<text x="170.4" y="229.2" font-family="Liberation Serif, Times New Roman, serif" fill="#1e1e1e" stroke="#1e1e1e" stroke-width="0.25" font-size="11.3">I</text>
<text x="173.7" y="230.4" font-family="Liberation Serif, Times New Roman, serif" fill="#1e1e1e" fill-opacity="0.85" font-size="7.3" textLength="10.5" lengthAdjust="spacingAndGlyphs">sha</text>
<text x="184.8" y="229.2" font-family="Liberation Serif, Times New Roman, serif" fill="#1e1e1e" font-size="11.3" textLength="15.3" lengthAdjust="spacingAndGlyphs">(A)</text>
<line x1="172.6" y1="231.2" x2="165.6" y2="238.9" stroke="#111" stroke-width="1.25"/>
<path d="M162.3 242.5 L164.1 236.8 L167.8 240.2 Z" fill="#111"/>
<text x="191.4" y="270.6" font-family="Liberation Serif, Times New Roman, serif" fill="#1e1e1e" stroke="#1e1e1e" stroke-width="0.25" font-size="11.3">I</text>
<text x="194.7" y="272.2" font-family="Liberation Serif, Times New Roman, serif" fill="#1e1e1e" fill-opacity="0.85" font-size="7.3" textLength="11.1" lengthAdjust="spacingAndGlyphs">shb</text>
<text x="206.5" y="270.6" font-family="Liberation Serif, Times New Roman, serif" fill="#1e1e1e" font-size="11.3" textLength="14.6" lengthAdjust="spacingAndGlyphs">(A)</text>
<line x1="190.5" y1="268.1" x2="180.3" y2="277.8" stroke="#111" stroke-width="1.25"/>
<path d="M176.7 281.2 L178.9 275.7 L182.3 279.3 Z" fill="#111"/>
<text x="199.9" y="318.2" font-family="Liberation Serif, Times New Roman, serif" fill="#1e1e1e" stroke="#1e1e1e" stroke-width="0.25" font-size="11.3">I</text>
<text x="203" y="319.3" font-family="Liberation Serif, Times New Roman, serif" fill="#1e1e1e" fill-opacity="0.85" font-size="7.3" textLength="9.9" lengthAdjust="spacingAndGlyphs">shc</text>
<text x="213.5" y="318.2" font-family="Liberation Serif, Times New Roman, serif" fill="#1e1e1e" font-size="11.3" textLength="14.3" lengthAdjust="spacingAndGlyphs">(A)</text>
<line x1="209.8" y1="321.1" x2="198.8" y2="331.5" stroke="#111" stroke-width="1.25"/>
<path d="M195.3 334.9 L197.5 329.4 L200.9 333 Z" fill="#111"/>
<line x1="326.4" y1="207.3" x2="326.4" y2="370" stroke="#808080" stroke-width="0.95"/>
<line x1="350.8" y1="207.3" x2="350.8" y2="370" stroke="#808080" stroke-width="0.95"/>
<line x1="375.3" y1="207.3" x2="375.3" y2="370" stroke="#808080" stroke-width="0.95"/>
<line x1="399.7" y1="207.3" x2="399.7" y2="370" stroke="#808080" stroke-width="0.95"/>
<line x1="448.5" y1="207.3" x2="448.5" y2="370" stroke="#808080" stroke-width="0.95"/>
<line x1="472.9" y1="207.3" x2="472.9" y2="370" stroke="#808080" stroke-width="0.95"/>
<line x1="497.4" y1="207.3" x2="497.4" y2="370" stroke="#808080" stroke-width="0.95"/>
<line x1="521.8" y1="207.3" x2="521.8" y2="370" stroke="#808080" stroke-width="0.95"/>
<line x1="302" y1="227.6" x2="546.2" y2="227.6" stroke="#9a9a9a" stroke-width="0.95"/>
<line x1="302" y1="248" x2="546.2" y2="248" stroke="#9a9a9a" stroke-width="0.95"/>
<line x1="302" y1="268.3" x2="546.2" y2="268.3" stroke="#9a9a9a" stroke-width="0.95"/>
<line x1="302" y1="309" x2="546.2" y2="309" stroke="#9a9a9a" stroke-width="0.95"/>
<line x1="302" y1="329.3" x2="546.2" y2="329.3" stroke="#9a9a9a" stroke-width="0.95"/>
<line x1="302" y1="349.7" x2="546.2" y2="349.7" stroke="#9a9a9a" stroke-width="0.95"/>
<line x1="424.1" y1="207.3" x2="424.1" y2="370" stroke="#999" stroke-width="0.9"/>
<line x1="302" y1="288.6" x2="546.2" y2="288.6" stroke="#999" stroke-width="0.9"/>
<path d="M306.9 287.8v1.8M311.8 287.8v1.8M316.7 287.8v1.8M321.5 287.8v1.8M331.3 287.8v1.8M336.2 287.8v1.8M341.1 287.8v1.8M346 287.8v1.8M355.7 287.8v1.8M360.6 287.8v1.8M365.5 287.8v1.8M370.4 287.8v1.8M380.1 287.8v1.8M385 287.8v1.8M389.9 287.8v1.8M394.8 287.8v1.8M404.6 287.8v1.8M409.4 287.8v1.8M414.3 287.8v1.8M419.2 287.8v1.8M429 287.8v1.8M433.9 287.8v1.8M438.8 287.8v1.8M443.6 287.8v1.8M453.4 287.8v1.8M458.3 287.8v1.8M463.2 287.8v1.8M468.1 287.8v1.8M477.8 287.8v1.8M482.7 287.8v1.8M487.6 287.8v1.8M492.5 287.8v1.8M502.2 287.8v1.8M507.1 287.8v1.8M512 287.8v1.8M516.9 287.8v1.8M526.7 287.8v1.8M531.5 287.8v1.8M536.4 287.8v1.8M541.3 287.8v1.8M423.2 211.4h1.8M423.2 215.4h1.8M423.2 219.5h1.8M423.2 223.6h1.8M423.2 231.7h1.8M423.2 235.8h1.8M423.2 239.8h1.8M423.2 243.9h1.8M423.2 252h1.8M423.2 256.1h1.8M423.2 260.2h1.8M423.2 264.2h1.8M423.2 272.4h1.8M423.2 276.4h1.8M423.2 280.5h1.8M423.2 284.6h1.8M423.2 292.7h1.8M423.2 296.8h1.8M423.2 300.9h1.8M423.2 304.9h1.8M423.2 313.1h1.8M423.2 317.1h1.8M423.2 321.2h1.8M423.2 325.3h1.8M423.2 333.4h1.8M423.2 337.5h1.8M423.2 341.5h1.8M423.2 345.6h1.8M423.2 353.7h1.8M423.2 357.8h1.8M423.2 361.9h1.8M423.2 365.9h1.8" stroke="#555" stroke-width="0.9" fill="none"/>
<text x="311.6" y="219.1" fill="#1a1a1a" stroke="#1a1a1a" stroke-width="0.08" font-family="Liberation Serif, Times New Roman, serif" font-size="11.8" textLength="223.6" lengthAdjust="spacingAndGlyphs">In-phase Operation of Grid Voltage and Current</text>
<path d="M302 329.4l.5-.3 .5-.1 .5 0 .5 .6 .5 .3 .5-.2 .5-.5 .5 0 .5-.1 .5 .3 .5 .2 .5-.2 .5 0 .5-.8 .5 .9 .5-.4 .5 .2 .5 .2 .5-.1 .5 .2 .5 .2 .5-1 .5 .2 .5 .8 .5-.3 .5-.3 .5 .1 .5 .1 .5 .2 .5-.3 .5 .1 .5-.4 .5 .7 .5-.2 .5-.2 .5-.3 .5 .4 .5 .2 .5 .4 .5-.1 .5-.6 .5 0 .5-.2 .5 .4 .5-.3 .5 .3 .5 0 .5 0 .5-.4 .5 .6 .5-.4 .5-.2 .5 .3 .5 0 .5 0 .5 .2 .5 .1 .5 .3 .5-.6 .5 .3 .5-1 .5 1.2 .5-.5 .5 .3 .5-.4 .5 .2 .5 0 .5-.3 .5 0 .5-.5 .5 .8 .5-.1 .5-.1 .5 .4 .5-.2 .5 0 .5-.6 .5 .5 .5-.1 .5 .3 .5-.3 .5-.2 .5 .2 .5 .6 .5-.7 .5 .5 .5-.3 .5-.5 .5 .6 .5 .5 .5-.5 .5-.4 .5 .2 .5-.1 .5 .9 .5-.6 .5-.7 .5 .8 .5-.1 .5-.4 .5 .1 .5 .2 .5 .4 .5-.5 .5-.1 .5 .4 .5-.4 .5-.1 .5 .3 .5 .2 .5-.2 .5-.1 .5 .5 .5-.1 .5-.7 .5 .1 .5 .1 .5 .1 .5 .1 .5 0 .5 0 .5 .1 .5-.4 .5-.3 .5 .7 .5 .2 .5-.3 .5-.1 .5 .2 .5-.2 .5-.2 .5 .2 .5 .3 .5-.1 .5 .1 .5-.3 .5 .2 .5 .3 .5-.5 .5 0 .5 .4 .5-.3 .5-.3 .5 .2 .5 .4 .5-.2 .5 .4 .5-.3 .5-.1 .5 .2 .5-.5 .5 .5 .5-.3 .5-.1 .5 .2 .5-.2 .5-.2 .5 .1 .5 .3 .5 0 .5-.1 .5 .2 .5-.4 .5 .1 .5 .5 .5-.6 .5 .5 .5-.4 .5 .2 .5 0 .5-.2 .5 .1 .5 .2 .5-.4 .5 0 .5 .4 .5-.3 .5 .1 .5 0 .5-.1 .5-.3 .5 .4 .5-.1 .5-.2 .5 .2 .5 .2 .5 .3 .5-.5 .5 .4 .5-.4 .5 .2 .5-.2 .5 .3 .5-.2 .5-.1 .5-.3 .5 .6 .5-.6 .5 .2 .5 .6 .5-.3 .5-.1 .5 0 .5 .1 .5-.2 .5 .2 .5-.1 .5-.1 .5 .2 .5 .1 .5-.1 .5 .1 .5 .3 .5-.1 .5-.4 .5-.3 .5 .6 .5-.3 .5 .2 .5-.3 .5 .3 .5-.5 .5 .3 .5-.3 .5 .8 .5-.6 .5-.4 .5 .8 .5-.1 .5 .1 .5-.6 .5 .4 .5 .2 .5-.3 .5 .1 .5-.1 .5-.1 .5 .4 .5-.5 .5 .2 .5 .2 .5-.2 .5 .2 .5-.7 .5 .8 .5-.6 .5 .3 .5-.1 .5 .2 .5-.1 .5-.1 .5 .3 .5 .3 .5-.6 .5-.1 .5 .1 .5-.2 .5 0 .5 .2 .5 .3 .5-.3 .5-.1 .5 .2 .5-.2 .5 .9 .5-.3 .5-.4 .5-.4 .5 .3 .5-.1 .5 0 .5-.3 .5 .4 .5 0 .5-.1 .5-.1 .5 .4 .5-.3 .5-.3 .5 .3 .5 .4 .5 .1 .5-.6 .5 .3 .5 .1 .5 .1 .5-.3 .5 .2 .5-.2 .5-.3 .5 .6 .5-.2 .5 .1 .5-.1 .5-.2 .5 .1 .5 .2 .5-.4 .5 .7 .5 .2 .5-1.2 .5 .8 .5-.3 .5 .3 .5-.2 .5 0 .5 .2 .5-.2 .5 .4 .5-.3 .5-.5 .5 .4 .5 0 .5-.1 .5-.2 .5 .8 .5-.5 .5 0 .5-.4 .5 .5 .5-.1 .5 .3 .5 .1 .5-.6 .5 0 .5 .5 .5 0 .5-.2 .5 .1 .5-.3 .5 .1 .5 0 .5-.5 .5 .7 .5 0 .5-.4 .5 .1 .5 .2 .5 .1 .5-.2 .5-.1 .5 .2 .5-.1 .5-.2 .5 .1 .5 0 .5 .3 .5-.5 .5 .1 .5 .1 .5 .1 .5 .6 .5-.6 .5 .3 .5-.1 .5 .1 .5 .1 .5-.3 .5-.3 .5 .1 .5 .5 .5 .1 .5-.2 .5 .3 .5-.4 .5-.4 .5 .2 .5 .1 .5 .1 .5 0 .5-.4 .5 .5 .5-.4 .5 .2 .5 .1 .5 0 .5-.1 .5-.2 .5 .1 .5 .2 .5-.3 .5-.2 .5-.3 .5 .6 .5-.2 .5 .2 .5-.3 .5 .2 .5 0 .5 .3 .5-.4 .5-.1 .5 .3 .5 .2 .5-.4 .5 .3 .5-.1 .5 .1 .5-.6 .5 .5 .5-.1 .5 .2 .5-.3 .5 .2 .5-.5 .5 .5 .5 .3 .5-.2 .5-.1 .5 .1 .5 .2 .5-.5 .5-.2 .5 .1 .5 .1 .5 .2 .5 .2 .5-.4 .5 0 .5 .4 .5 .1 .5-.5 .5 .4 .5-.2 .5-.1 .5 .1 .5-.2 .5-.2 .5 .1 .5 .1 .5 .3 .5 0 .5 .1 .5-.4 .5 .2 .5-.4 .5 .2 .5 .5 .5-.3 .5 .5 .5-.3 .5-.3 .5-.1 .5-.3 .5 .8 .5-.1 .5 .7 .5-.4 .5-.4 .5-.4 .5-.1 .5 .3 .5 .1 .5-.4 .5 .6 .5 0 .5-.4 .5 .1 .5-.3 .5 .6 .5-.4 .5-.1 .5-.2 .5 .2 .5-.1 .5 .7 .5-.1 .5-.5 .5 .1 .5 .2 .5 0 .5-.3 .5 .6 .5-.1 .5 .3 .5-1.2 .5 .3 .5 .6 .5-.1 .5-.2 .5-.2 .5 .4 .5-.2 .5 .4 .5 0 .5-.1" fill="none" stroke="#4a5ac0" stroke-width="1.8" stroke-linejoin="round" stroke-linecap="round" opacity="1.0" />
<line x1="302" y1="329.4" x2="545.5" y2="329.4" stroke="#26308a" stroke-width="1.1" stroke-dasharray="0.8 1.3" opacity="0.55"/>
<path d="M302 266.7l.4 .7 .4-.4 .4 1.6 .4-1 .4 .2 .4 .5 .4 .8 .4-.3 .4 0 .4-2.8 .4 3.1 .4-.6 .4 .7 .4 .3 .4-.1 .4 .1 .4 .4 .4 0 .4-.6 .4 .6 .4-.1 .4-.7 .4 .4 .4-1.6 .4-.4 .4 1.9 .4 0 .4-.1 .4-1.1 .4-.4 .4 .5 .4-.7 .4 0 .4 0 .4 .6 .4-2.3 .4 1.9 .4-.9 .4-1.3 .4 1.9 .4-.2 .4-.4 .4-.1 .4-.9 .4 .4 .4-.1 .4-.3 .4-.4 .4-2.9 .4 1.3 .4 .8 .4-.6 .4-1 .4-1 .4 1.3 .4-.3 .4 .3 .4-3.5 .4 3.8 .4-.3 .4-.1 .4-.2 .4-.2 .4-1.2 .4 1 .4-.2 .4-.4 .4-.8 .4 .7 .4-.2 .4 .5 .4-.4 .4-1.2 .4 1.3 .4 0 .4 .1 .4-.3 .4-.3 .4 0 .4-.4 .4 .6 .4 .2 .4-1.1 .4 1.2 .4-.1 .4 .7 .4-.1 .4 .1 .4-1.1 .4 1 .4-.7 .4-1.4 .4 2.1 .4 .3 .4 .9 .4 .3 .4-.5 .4 .8 .4-.5 .4 .8 .4-.9 .4 .1 .4 1.4 .4-1 .4 1.3 .4-3.8 .4 4.1 .4 .1 .4-.1 .4 1 .4-.2 .4 .4 .4-.4 .4 0 .4 .1 .4 1.2 .4 0 .4 .2 .4 .3 .4-.2 .4-.1 .4-4 .4 4.3 .4-.3 .4-.2 .4 .4 .4 .8 .4-.1 .4-.2 .4 0 .4 .2 .4-.2 .4 .7 .4-.2 .4 .4 .4-.8 .4 .7 .4-.5 .4 .7 .4-1 .4 .8 .4 .1 .4-.5 .4-.7 .4 .9 .4-2.2 .4 .4 .4 1.2 .4-.5 .4-.6 .4 0 .4 .2 .4-.4 .4 .5 .4-.7 .4-1.4 .4 1.3 .4-.3 .4-.2 .4 .1 .4-.2 .4-2.3 .4 .2 .4 1.4 .4-.9 .4-.4 .4-1.4 .4 1.2 .4 .2 .4-.7 .4 .1 .4 .4 .4-.6 .4 .1 .4-.6 .4 .2 .4 0 .4-.2 .4-1.1 .4 .9 .4-.1 .4-2.7 .4 2.1 .4 .2 .4-.1 .4-.9 .4-.2 .4-.8 .4 .7 .4-.2 .4-1.7 .4 1.4 .4 .7 .4 .4 .4 .1 .4-1.5 .4 1.5 .4 .2 .4-.1 .4-1.4 .4 1.2 .4-.1 .4 .5 .4-.1 .4 .2 .4 .5 .4-.4 .4 .7 .4-1.9 .4 2 .4 .3 .4-.8 .4 .9 .4-.5 .4 .8 .4 0 .4 .1 .4 .4 .4 .6 .4 .1 .4 .4 .4-1.6 .4 1 .4 .4 .4 .4 .4-.3 .4-1.4 .4 1.9 .4 .9 .4-.4 .4 .9 .4-.8 .4 .3 .4 1.2 .4-.1 .4 .2 .4 0 .4-.1 .4-1.5 .4 1.9 .4 .1 .4-1 .4 1.8 .4-.4 .4-.2 .4-.6 .4 1.5 .4-.1 .4-.5 .4 .2 .4 .4 .4-1.1 .4 1.2 .4-1.3 .4 1.1 .4-1.5 .4 .9 .4 .7 .4-.4 .4-.7 .4-1.5 .4 1.9 .4-.4 .4-.3 .4 .4 .4-.2 .4-1 .4 1.1 .4-.6 .4 .1 .4-.8 .4 .1 .4-.5 .4 0 .4 0 .4 .3 .4-2 .4 .8 .4-.3 .4-.7 .4 .2 .4 .1 .4 .2 .4-.9 .4-.1 .4 .6 .4-.7 .4-.5 .4 .6 .4-.8 .4-.5 .4 .5 .4 0 .4-.3 .4-.9 .4 .6 .4-1.5 .4 1.4 .4-.5 .4 .2 .4-.6 .4-.4 .4-.7 .4 .7 .4 .5 .4-.9 .4-.3 .4 1.1 .4-.1 .4-1.2 .4 .4 .4 .8 .4-.3 .4-.5 .4 .7 .4 .2 .4-.2 .4-1.3 .4 1.8 .4 .1 .4-.3 .4-.6 .4 .8 .4-.8 .4 1 .4 .7 .4-1.1 .4 .5 .4 .9 .4-.2 .4 .4 .4 .4 .4-1 .4 .9 .4 .8 .4-.1 .4 .1 .4-2.6 .4 3.2 .4 .3 .4-.1 .4 0 .4 .7 .4 0 .4-5 .4 5.8 .4 .1 .4 .1 .4-4.2 .4 4.1 .4-.7 .4 1.1 .4 .5 .4-.1 .4 .1 .4 .1 .4 .5 .4-.3 .4 .8 .4-.4 .4 .2 .4 .5 .4-.7 .4 .8 .4-.8 .4 .6 .4-.2 .4 0 .4 0 .4 .1 .4 0 .4-.6 .4 1.1 .4-1.1 .4 .6 .4 .2 .4 0 .4-1.3 .4 .1 .4 .1 .4 0 .4 .4 .4-.1 .4-1.2 .4 .6 .4 .3 .4-2.4 .4 .4 .4 1.3 .4-.3 .4 0 .4-1 .4 .5 .4-.1 .4-1.3 .4-.4 .4 .3 .4-.5 .4 .5 .4-.6 .4 .1 .4-.6 .4 .4 .4-1.2 .4-.2 .4 1.2 .4-1.3 .4 .6 .4 .1 .4-.5 .4-.1 .4-.1 .4-.2 .4-1.4 .4-1.4 .4 2.2 .4-.7 .4 .2 .4-.6 .4 .9 .4 .1 .4-.3 .4-1.2 .4 1.2 .4 0 .4-2.1 .4 .7 .4 .8 .4 0 .4 .6 .4-.1 .4-.8 .4 .7 .4 .3 .4-.4 .4 .1 .4-.4 .4 1.1 .4-1.5 .4 1 .4-.4 .4 1.4 .4 .2 .4-.2 .4 0 .4 .6 .4 0 .4-1.4 .4 1.9 .4-.2 .4 .4 .4-1 .4 1.4 .4-.5 .4 .5 .4 .7 .4 .4 .4-.5 .4-.1 .4 .9 .4 .4 .4-2.9 .4 3.2 .4 .1 .4-1.6 .4 2.2 .4-.4 .4 .9 .4 .1 .4-.6 .4 .6 .4 .1 .4 .3 .4-.7 .4 .1 .4 .3 .4 1.1 .4-.7 .4 .6 .4-.5 .4 .8 .4 .1 .4-.1 .4 .3 .4-.9 .4-1.4 .4 2.2 .4-2.2 .4 1.5 .4 .6 .4-.6 .4-.1 .4 .7 .4-.6 .4 .1 .4 0 .4-.1 .4-.3 .4-.8 .4-.1 .4 0 .4 0 .4 .5 .4-2.1 .4 1.9 .4-.2 .4-.1 .4-1.3 .4 .3 .4-.4 .4 .6 .4-.7 .4 .2 .4-1.3 .4 0 .4 .3 .4-.8 .4 .2 .4-.4 .4-.2 .4 .4 .4-1.4 .4 1.1 .4-1.5 .4-1.1 .4 1.7 .4-.4 .4 .1 .4-.9 .4 .8 .4-1.1 .4-1.4 .4 1.7 .4 .4 .4-.5 .4 .3 .4-3.7 .4 1.8 .4-.2 .4 .6 .4 .9 .4-.7 .4 .6 .4-.5 .4 .4 .4-3.1 .4 2.4 .4 .7 .4 0 .4-1 .4 1.1 .4-.1 .4-.6 .4 .8 .4-.1 .4-1.9 .4-1 .4 3 .4 1 .4-.9 .4 1.2 .4 .2 .4-1.3 .4 1.2 .4-1.8 .4 1.7 .4-.3 .4 1.4 .4 0 .4 .2 .4 .2 .4 .1 .4 .6 .4 .1 .4-.4 .4 .5 .4 .6 .4-.5 .4 .4 .4 .7 .4 .2 .4-.9 .4 .4 .4 .6 .4-2.7 .4 3 .4-.2 .4 .3 .4 .5 .4-.1 .4 .9 .4-.3 .4 .4 .4 .3 .4-.5 .4 .6 .4-1.4 .4 1.3 .4 .3 .4-.8 .4-.5 .4 .1 .4 .9 .4-.3 .4 .6 .4-.7 .4 .6 .4 .1 0 2.8-.4 .6-.4-.5-.4 .2-.4 .8-.4-.8-.4 1.2-.4-1.7-.4 .2-.4 1-.4-1.2-.4 .5-.4-.2-.4-.6-.4 0-.4-.2-.4-.1-.4 1.3-.4-1.6-.4 .2-.4 1.8-.4-2.2-.4-.5-.4 .1-.4 .5-.4 .2-.4 0-.4-1.7-.4 .1-.4-.2-.4-.5-.4 .2-.4-.2-.4-.3-.4-.2-.4 .3-.4-1-.4 .3-.4-.5-.4 .1-.4-.4-.4-.4-.4-.4-.4 1.2-.4-.3-.4-1.1-.4 .1-.4 .7-.4 1.1-.4-2.2-.4 0-.4-.2-.4 .5-.4-.9-.4-.1-.4-.5-.4 .1-.4 .7-.4-1-.4-.1-.4 0-.4 .1-.4 .1-.4 .5-.4-.8-.4 .3-.4 1.2-.4-1.2-.4 .9-.4-.7-.4-.1-.4 .1-.4 3.1-.4-1.7-.4-.3-.4 .7-.4-1.3-.4 .9-.4-.3-.4 1.1-.4-1-.4 .2-.4 1.2-.4-.8-.4 .3-.4 .3-.4-.1-.4 .7-.4 .1-.4 .4-.4-.5-.4 .3-.4 .7-.4-.3-.4 .7-.4-.4-.4 .4-.4 .3-.4 .4-.4 .2-.4 .2-.4 .7-.4 .5-.4-.9-.4 2.1-.4-1.6-.4 .3-.4-.3-.4 .6-.4 1.4-.4-1.1-.4-.3-.4 .1-.4 .3-.4 .6-.4-.4-.4 .2-.4-.4-.4 3.5-.4-3.3-.4 .8-.4-.9-.4 .9-.4-.5-.4-.1-.4 .4-.4-.6-.4 1.5-.4-1.2-.4-.8-.4 .5-.4-.7-.4 3.9-.4-3.4-.4 .1-.4-1-.4 .1-.4-.2-.4 1.2-.4-.4-.4-1.5-.4-.2-.4 .4-.4 .2-.4-1-.4 .3-.4-.9-.4 1.5-.4-1.2-.4-.2-.4-.5-.4 .2-.4 0-.4 .5-.4-1.5-.4-.5-.4-.2-.4-.2-.4 .6-.4-1-.4-.4-.4 .7-.4-.4-.4 .2-.4-.9-.4 .9-.4-1.4-.4 .8-.4-.4-.4-.1-.4-.7-.4-.2-.4 1-.4-.7-.4 .8-.4-1.5-.4 .2-.4 .9-.4-1.2-.4 .1-.4 .2-.4 .4-.4-.4-.4 .2-.4 0-.4 .6-.4 .2-.4 .2-.4 .1-.4-.4-.4 .6-.4-.6-.4 0-.4 .3-.4-.3-.4 .4-.4 .2-.4-.2-.4 .9-.4-.6-.4 .7-.4-.2-.4 .4-.4 .2-.4 .9-.4-.8-.4 .3-.4 1.5-.4-.8-.4-.2-.4 1.9-.4-.5-.4-.5-.4 0-.4 .7-.4 .2-.4 0-.4 0-.4 1.3-.4-.5-.4 .2-.4 .4-.4 .1-.4 1.2-.4-1.5-.4 .3-.4 .6-.4-.6-.4 0-.4 .7-.4 2.5-.4-1.6-.4-.7-.4-.1-.4 1-.4-.8-.4 .4-.4-.2-.4 .7-.4-1.2-.4 .4-.4-.1-.4 .3-.4-.8-.4 1.8-.4-.4-.4 .8-.4-1.5-.4-.9-.4-.2-.4 .3-.4-.3-.4-.5-.4-.1-.4 0-.4 0-.4 .1-.4-.5-.4-.5-.4 .3-.4-.3-.4 .3-.4 .9-.4-1.6-.4-.2-.4 .6-.4-1.3-.4 .4-.4-.5-.4 .3-.4-.6-.4-.5-.4-.4-.4 0-.4-.3-.4 .9-.4-1.5-.4 .4-.4 .6-.4-.8-.4-.9-.4 .4-.4-.2-.4-.1-.4 0-.4-.4-.4-.3-.4 .4-.4-.1-.4 .1-.4-.1-.4-.2-.4-.9-.4 .5-.4-.1-.4 .7-.4 .5-.4-1.5-.4-.3-.4 .4-.4 0-.4 3.2-.4-3-.4 .4-.4 0-.4 .4-.4-.7-.4-.2-.4 3.5-.4-2.5-.4-.1-.4 .2-.4 1-.4 .4-.4-.4-.4-.8-.4 .2-.4 .3-.4 .5-.4-.3-.4 .8-.4-.1-.4 .7-.4-.2-.4 2.3-.4-.2-.4-1.7-.4 .5-.4 0-.4 1-.4-.7-.4 0-.4 .8-.4 .2-.4 .1-.4 .2-.4 1.1-.4-1.1-.4 .6-.4 1.2-.4-1-.4 .6-.4-.8-.4 .3-.4 .1-.4 1.7-.4-.3-.4-.3-.4-.5-.4 .1-.4 .3-.4 .4-.4-.6-.4 1.3-.4-.1-.4-1.4-.4 .7-.4 .7-.4-1.4-.4-.1-.4 .4-.4-.1-.4-.1-.4-.2-.4 .4-.4 .9-.4-.6-.4-.6-.4-.3-.4 2.5-.4-3.2-.4 .3-.4 1.1-.4-.3-.4-1.1-.4-.2-.4 .1-.4-.5-.4-.7-.4 .1-.4 1.9-.4-2.1-.4-.3-.4 .4-.4-.6-.4 .8-.4-.3-.4-1.5-.4-.3-.4 .2-.4 .8-.4-1.5-.4 .2-.4-.2-.4-.8-.4 .5-.4-.5-.4-.3-.4 .3-.4-.4-.4-.7-.4 .2-.4-.5-.4-.2-.4 2.9-.4-2.6-.4-.7-.4 .9-.4 2.8-.4-2.3-.4-1.3-.4-.2-.4-.2-.4 1-.4-.9-.4 .7-.4-.4-.4 .5-.4-.4-.4 .8-.4-.5-.4-.3-.4 .5-.4 .8-.4-.6-.4 .2-.4 .2-.4 .7-.4-1.1-.4 .3-.4 .2-.4 1.4-.4-.1-.4-.9-.4 1.6-.4-1.2-.4 .5-.4-.1-.4 .8-.4-.2-.4-.1-.4 0-.4 2.5-.4-1.7-.4-.2-.4 .3-.4 .6-.4 0-.4 .1-.4 0-.4 2.6-.4-1.6-.4-.3-.4 .3-.4 .8-.4-.1-.4-.3-.4 .2-.4 1.4-.4 .4-.4-.8-.4-.2-.4 3-.4-2.6-.4-.3-.4 1.7-.4-1.7-.4 2.4-.4-1.5-.4 .6-.4-.3-.4-.7-.4 .6-.4-.2-.4-.2-.4 0-.4-.2-.4 .6-.4 .7-.4 .4-.4-.8-.4-.9-.4-.1-.4-.2-.4 .2-.4 .3-.4-.6-.4-.3-.4-.5-.4 1.5-.4-2-.4 .3-.4-.7-.4 1.5-.4-1.7-.4-.3-.4 .3-.4-.1-.4-.7-.4 0-.4 .7-.4-.3-.4-1.1-.4-.3-.4 .8-.4 0-.4 .2-.4-1.7-.4-.1-.4-.6-.4 .2-.4 .3-.4-.7-.4 1.1-.4-1.6-.4 .4-.4-.3-.4-.3-.4 1-.4-.9-.4-.7-.4-.1-.4 .2-.4-.6-.4 1.4-.4 .2-.4-.3-.4-1.2-.4 0-.4 0-.4-.2-.4 .6-.4-.1-.4 1.4-.4-.9-.4-.8-.4 .6-.4 .5-.4-.5-.4-.1-.4-.2-.4 1.7-.4-1.5-.4 1-.4-1.3-.4 .9-.4 .4-.4 1.6-.4-.4-.4-.7-.4-.5-.4 .1-.4 .2-.4 1.3-.4-.2-.4-.4-.4-.1-.4 .1-.4 1.6-.4-.2-.4 .5-.4-1.1-.4 .2-.4 .8-.4 .4-.4-.3-.4 .3-.4-.2-.4 1.6-.4-.8-.4 .6-.4-.5-.4 1.2-.4-.6-.4 .3-.4 1-.4-.8-.4-.1-.4 .9-.4 .7-.4 .2-.4-1-.4-.1-.4 .6-.4 .3-.4-.6-.4 1.4-.4-.3-.4-1.2-.4 .8-.4 .8-.4-1.6-.4 0-.4 .5-.4 .1-.4-.8-.4 .8-.4-1-.4 .4-.4 1-.4-.6-.4-.5-.4-.2-.4 .1-.4-.4-.4-.1-.4-.4-.4 .4-.4-.5z" fill="#e88a10" opacity="0.9"/>
<path d="M302 269.4l.4 .2 .4 .2 .4 .1 .4 .2 .4 .1 .4 .1 .4 .2 .4 .1 .4 .1 .4 .1 .4 0 .4 .1 .4 .1 .4 0 .4 .1 .4 0 .4 0 .4 0 .4 0 .4 0 .4-.1 .4 0 .4 0 .4-.1 .4-.1 .4-.1 .4-.1 .4-.1 .4-.1 .4-.1 .4-.1 .4-.2 .4-.1 .4-.2 .4-.1 .4-.2 .4-.2 .4-.2 .4-.1 .4-.2 .4-.2 .4-.2 .4-.2 .4-.2 .4-.2 .4-.3 .4-.2 .4-.2 .4-.2 .4-.2 .4-.2 .4-.2 .4-.2 .4-.2 .4-.2 .4-.2 .4-.2 .4-.1 .4-.2 .4-.2 .4-.1 .4-.2 .4-.1 .4-.2 .4-.1 .4-.1 .4-.1 .4-.1 .4-.1 .4-.1 .4 0 .4-.1 .4 0 .4-.1 .4 0 .4 0 .4 0 .4 0 .4 0 .4 .1 .4 0 .4 .1 .4 0 .4 .1 .4 .1 .4 .1 .4 .1 .4 .1 .4 .1 .4 .2 .4 .1 .4 .2 .4 .1 .4 .2 .4 .2 .4 .1 .4 .2 .4 .2 .4 .2 .4 .2 .4 .2 .4 .2 .4 .2 .4 .2 .4 .2 .4 .2 .4 .2 .4 .3 .4 .2 .4 .2 .4 .2 .4 .2 .4 .2 .4 .2 .4 .1 .4 .2 .4 .2 .4 .2 .4 .1 .4 .2 .4 .1 .4 .2 .4 .1 .4 .1 .4 .1 .4 .1 .4 .1 .4 .1 .4 .1 .4 .1 .4 0 .4 0 .4 .1 .4 0 .4 0 .4 0 .4 0 .4 0 .4-.1 .4 0 .4-.1 .4-.1 .4 0 .4-.1 .4-.1 .4-.1 .4-.2 .4-.1 .4-.1 .4-.2 .4-.1 .4-.2 .4-.2 .4-.1 .4-.2 .4-.2 .4-.2 .4-.2 .4-.2 .4-.2 .4-.2 .4-.2 .4-.2 .4-.2 .4-.2 .4-.2 .4-.2 .4-.2 .4-.2 .4-.2 .4-.2 .4-.2 .4-.2 .4-.2 .4-.2 .4-.2 .4-.1 .4-.2 .4-.1 .4-.2 .4-.1 .4-.2 .4-.1 .4-.1 .4-.1 .4-.1 .4 0 .4-.1 .4-.1 .4 0 .4-.1 .4 0 .4 0 .4 0 .4 0 .4 0 .4 .1 .4 0 .4 .1 .4 0 .4 .1 .4 .1 .4 .1 .4 .1 .4 .1 .4 .1 .4 .1 .4 .2 .4 .1 .4 .2 .4 .2 .4 .1 .4 .2 .4 .2 .4 .2 .4 .2 .4 .2 .4 .2 .4 .2 .4 .2 .4 .2 .4 .2 .4 .2 .4 .2 .4 .2 .4 .2 .4 .2 .4 .2 .4 .2 .4 .2 .4 .2 .4 .2 .4 .2 .4 .2 .4 .1 .4 .2 .4 .1 .4 .2 .4 .1 .4 .2 .4 .1 .4 .1 .4 .1 .4 .1 .4 .1 .4 .1 .4 0 .4 .1 .4 0 .4 .1 .4 0 .4 0 .4 0 .4 0 .4 0 .4-.1 .4 0 .4-.1 .4 0 .4-.1 .4-.1 .4-.1 .4-.1 .4-.1 .4-.2 .4-.1 .4-.1 .4-.2 .4-.1 .4-.2 .4-.2 .4-.2 .4-.1 .4-.2 .4-.2 .4-.2 .4-.2 .4-.2 .4-.2 .4-.2 .4-.3 .4-.2 .4-.2 .4-.2 .4-.2 .4-.2 .4-.2 .4-.2 .4-.2 .4-.2 .4-.2 .4-.1 .4-.2 .4-.2 .4-.2 .4-.1 .4-.2 .4-.1 .4-.1 .4-.1 .4-.2 .4-.1 .4 0 .4-.1 .4-.1 .4-.1 .4 0 .4 0 .4-.1 .4 0 .4 0 .4 0 .4 0 .4 .1 .4 0 .4 0 .4 .1 .4 .1 .4 .1 .4 0 .4 .1 .4 .2 .4 .1 .4 .1 .4 .1 .4 .2 .4 .1 .4 .2 .4 .2 .4 .2 .4 .1 .4 .2 .4 .2 .4 .2 .4 .2 .4 .2 .4 .2 .4 .2 .4 .2 .4 .2 .4 .2 .4 .3 .4 .2 .4 .2 .4 .2 .4 .2 .4 .2 .4 .2 .4 .2 .4 .1 .4 .2 .4 .2 .4 .2 .4 .1 .4 .2 .4 .1 .4 .1 .4 .2 .4 .1 .4 .1 .4 .1 .4 .1 .4 .1 .4 0 .4 .1 .4 0 .4 .1 .4 0 .4 0 .4 0 .4 0 .4 0 .4-.1 .4 0 .4-.1 .4 0 .4-.1 .4-.1 .4-.1 .4-.1 .4-.1 .4-.1 .4-.2 .4-.1 .4-.2 .4-.1 .4-.2 .4-.1 .4-.2 .4-.2 .4-.2 .4-.2 .4-.2 .4-.2 .4-.2 .4-.2 .4-.2 .4-.2 .4-.2 .4-.2 .4-.2 .4-.2 .4-.2 .4-.2 .4-.2 .4-.2 .4-.2 .4-.2 .4-.2 .4-.2 .4-.1 .4-.2 .4-.2 .4-.1 .4-.2 .4-.1 .4-.1 .4-.1 .4-.1 .4-.1 .4-.1 .4-.1 .4 0 .4-.1 .4 0 .4-.1 .4 0 .4 0 .4 0 .4 0 .4 0 .4 .1 .4 0 .4 .1 .4 .1 .4 0 .4 .1 .4 .1 .4 .1 .4 .1 .4 .2 .4 .1 .4 .2 .4 .1 .4 .2 .4 .1 .4 .2 .4 .2 .4 .2 .4 .2 .4 .2 .4 .2 .4 .2 .4 .2 .4 .2 .4 .2 .4 .2 .4 .2 .4 .2 .4 .2 .4 .2 .4 .2 .4 .2 .4 .2 .4 .2 .4 .2 .4 .2 .4 .2 .4 .1 .4 .2 .4 .2 .4 .1 .4 .2 .4 .1 .4 .1 .4 .2 .4 .1 .4 .1 .4 .1 .4 0 .4 .1 .4 .1 .4 0 .4 .1 .4 0 .4 0 .4 0 .4 0 .4 0 .4-.1 .4 0 .4 0 .4-.1 .4-.1 .4-.1 .4-.1 .4-.1 .4-.1 .4-.1 .4-.1 .4-.2 .4-.1 .4-.2 .4-.1 .4-.2 .4-.2 .4-.2 .4-.1 .4-.2 .4-.2 .4-.2 .4-.2 .4-.2 .4-.2 .4-.3 .4-.2 .4-.2 .4-.2 .4-.2 .4-.2 .4-.2 .4-.2 .4-.2 .4-.2 .4-.2 .4-.2 .4-.1 .4-.2 .4-.2 .4-.1 .4-.2 .4-.1 .4-.2 .4-.1 .4-.1 .4-.1 .4-.1 .4-.1 .4-.1 .4 0 .4-.1 .4 0 .4-.1 .4 0 .4 0 .4 0 .4 0 .4 0 .4 .1 .4 0 .4 .1 .4 0 .4 .1 .4 .1 .4 .1 .4 .1 .4 .1 .4 .1 .4 .2 .4 .1 .4 .2 .4 .1 .4 .2 .4 .2 .4 .1 .4 .2 .4 .2 .4 .2 .4 .2 .4 .2 .4 .2 .4 .2 .4 .2 .4 .2 .4 .2 .4 .2 .4 .3 .4 .2 .4 .2 .4 .2 .4 .2 .4 .2 .4 .2 .4 .1 .4 .2 .4 .2 .4 .2 .4 .1 .4 .2 .4 .1 .4 .2 .4 .1 .4 .1 .4 .1 .4 .1 .4 .1 .4 .1 .4 .1 .4 .1 .4 0 .4 0 .4 .1 .4 0 .4 0 .4 0 .4 0 .4 0 .4-.1" fill="none" stroke="#e88a10" stroke-width="1.3" stroke-linejoin="round" stroke-linecap="round" opacity="0.9" />
<path d="M302 289.3l.4 1.2 .4 1.8 .4 .8 .4 2.3 .4 .9 .4 1.7 .4 .7 .4 1.1 .4 1 .4 1.1 .4 1 .4 .4 .4 .7 .4-.3 .4 1.1 .4-.5 .4 .5 .4 .6 .4-.6 .4 .1 .4-.1 .4-3.7 .4 2.6 .4-.3 .4-1.1 .4-1.4 .4 .6 .4-1.1 .4-1.2 .4-1.2 .4-2.2 .4-.4 .4-1 .4-2.3 .4-1.4 .4-.9 .4-2 .4-2.4 .4-1.4 .4-1.2 .4-2.5 .4-1.6 .4-1.5 .4-2.2 .4-1.6 .4-2.6 .4-1.6 .4-2.4 .4-1.4 .4-2.2 .4-2 .4-1.7 .4-2.3 .4-1.4 .4-2.2 .4-1.7 .4-1.8 .4-3.1 .4 0 .4-2.1 .4-1.3 .4-1.3 .4-2.2 .4-.8 .4-.7 .4-1.1 .4-1.3 .4-.6 .4-1.8 .4-.3 .4-.3 .4-1 .4-.3 .4-1.1 .4 .8 .4-.4 .4 .4 .4 0 .4-.1 .4-.2 .4 .8 .4 .2 .4 .1 .4 1.7 .4 .6 .4 .6 .4 1.4 .4 1.1 .4 1.2 .4 1.5 .4 1.3 .4 1.4 .4 1.2 .4 1.7 .4 1.7 .4 1.2 .4 1.4 .4 1.3 .4 2.7 .4 2 .4 1.8 .4 2.4 .4 1.3 .4-.4 .4 4.5 .4 1.9 .4 2.2 .4 2 .4 2 .4 2.1 .4 1 .4 2.7 .4 1.9 .4 1.9 .4 1.7 .4 1.5 .4 1.4 .4 2.3 .4 1.4 .4 .9 .4 1.9 .4 1.1 .4 .6 .4 2.3 .4 .5 .4 1.7 .4 .8 .4 .3 .4-.3 .4 1.5 .4 1.2 .4-.2 .4 .5 .4 0 .4 .3 .4 .1 .4 .1 .4-1 .4 .2 .4-.6 .4 0 .4-.7 .4-1 .4-.8 .4-.7 .4-1 .4-2.1 .4-.3 .4-1.2 .4-1.4 .4-1.4 .4-2.1 .4-1 .4-2.3 .4-1 .4-1.9 .4-2.1 .4-2 .4-1.8 .4-2.2 .4-1.6 .4-2.6 .4-1.1 .4-2.2 .4-2.1 .4-1.5 .4-2.4 .4-1.7 .4-1.6 .4-1.9 .4-2 .4-2.5 .4-1.4 .4-1.7 .4-1.9 .4-1.7 .4-2.4 .4-.4 .4-1.4 .4-1.4 .4-1.3 .4-1.1 .4-1.5 .4-.8 .4-1.2 .4-.6 .4-.9 .4-1.1 .4-.4 .4-.4 .4-.6 .4 .3 .4-.2 .4-.7 .4 .7 .4-1.7 .4 2 .4 .3 .4-.7 .4 1.5 .4 .8 .4 .9 .4 .9 .4 .7 .4 .8 .4 1.7 .4 1.4 .4 .9 .4 1.4 .4 1.3 .4 1.6 .4 2.1 .4 1.4 .4 1.8 .4 1.2 .4 2.2 .4 1.7 .4 1.8 .4 2.3 .4 2.1 .4 2 .4 .9 .4 2.9 .4 2.1 .4 1.7 .4 1.6 .4 2.3 .4 1.9 .4 2.2 .4 1.6 .4 1.9 .4 1.9 .4 1.4 .4 2 .4 1.1 .4 2 .4 1.8 .4 .9 .4 1.5 .4 1.1 .4 1.3 .4 1.4 .4 1.3 .4 .3 .4 1.2 .4 .9 .4 .2 .4 .3 .4 1 .4-.2 .4 .4 .4-.6 .4 .6 .4 .1 .4-.3 .4 .2 .4-.7 .4-.2 .4-.6 .4-1.5 .4-.2 .4-1.1 .4-.9 .4-1.2 .4-.9 .4-1.3 .4-1.3 .4-1.6 .4-2 .4-1.2 .4-2.6 .4-.4 .4-2.6 .4-1.2 .4-2.3 .4-1.2 .4-1.8 .4-2.1 .4-1.7 .4-2.1 .4-1.8 .4-3.4 .4-.9 .4-1.7 .4-1.9 .4-2 .4-2.2 .4-1.6 .4-2.3 .4-1.5 .4-2.3 .4-1.1 .4-1.8 .4-1.5 .4-1.5 .4-1.5 .4-2.3 .4-.6 .4-1.8 .4-.7 .4-1.6 .4-.9 .4-.4 .4-1 .4-.4 .4-.8 .4-1.4 .4 .4 .4-.4 .4 .4 .4-.8 .4-.7 .4 .5 .4 .7 .4 .8 .4 0 .4 1 .4 .5 .4 0 .4 1.2 .4 .9 .4 1.7 .4 .9 .4 1.4 .4 1.2 .4 .8 .4 1.2 .4 2.4 .4 1.6 .4 1.6 .4 1.5 .4 1.9 .4 2 .4 1.3 .4 2.3 .4 .4 .4 3.5 .4 2 .4 1.7 .4 1.9 .4 2.3 .4 1.8 .4 1.7 .4 1.7 .4 2.1 .4 2.4 .4 2 .4 1.3 .4 1.5 .4 2.6 .4 1.6 .4 1.7 .4 1.5 .4 1.2 .4 1.4 .4 1.6 .4 1.6 .4 1.2 .4 .9 .4 1.1 .4 .6 .4 .5 .4 1.5 .4 .6 .4 .8 .4 .3 .4 .6 .4-.1 .4 .3 .4 0 .4 0 .4-.2 .4-1 .4 .2 .4-1 .4 .2 .4-1.1 .4-.7 .4-2 .4 .3 .4-.9 .4-1.7 .4-1 .4-1.6 .4-1.1 .4-1.3 .4-1.8 .4-1.3 .4-1.8 .4-1.9 .4-1.5 .4-2.1 .4-2 .4-1.4 .4-1.9 .4-4 .4-.8 .4-1.3 .4-2.4 .4-2 .4-2.1 .4-1.6 .4-2.1 .4-1.5 .4-2 .4-2 .4-2 .4-1.6 .4-2 .4-2.6 .4-.1 .4-1.8 .4-1.7 .4-1.4 .4-1.9 .4-.3 .4-1.3 .4-1.3 .4-.9 .4-1.5 .4-1.1 .4 0 .4-.5 .4-.5 .4-.5 .4-.3 .4-.6 .4-.8 .4 1.2 .4-.1 .4-.1 .4 .9 .4 .4 .4-.1 .4 1.3 .4 .4 .4 .8 .4 .9 .4 1 .4 1.1 .4 1.3 .4 .9 .4 .9 .4 1.6 .4 2.2 .4 1.2 .4 1.4 .4 2.4 .4 1.1 .4 2.2 .4 1.5 .4 2.3 .4 1.6 .4 1.7 .4 2.3 .4 2.2 .4 1.7 .4 2.4 .4 1.9 .4 1.3 .4 2.4 .4 1.6 .4 2.2 .4 1.4 .4 2 .4 2.6 .4 1 .4 1.8 .4 1.9 .4 1.6 .4 1.7 .4 1.1 .4 2 .4 .5 .4 1.5 .4 1.3 .4 1.2 .4 .4 .4 .7 .4 1.4 .4 .6 .4 .3 .4 1 .4 .8 .4-.1 .4 .5 .4-.5 .4 .5 .4-.6 .4-.2 .4-.1 .4-.6 .4-.4 .4-.6 .4-1.4 .4-.3 .4-1 .4-.9 .4-1.6 .4-1 .4-1.3 .4-1.2 .4-1.5 .4-2.4 .4-1.1 .4-1.7 .4-1.6 .4-1.4 .4-1.7 .4-2.7 .4-1.4 .4-2.1 .4-1.6 .4-1.7 .4-2.1 .4-2 .4-2.8 .4-1.9 .4-1.2 .4-2 .4-2.3 .4-2.1 .4-1.4 .4-2 .4-1.5 .4-2 .4-1.8 .4-2.7 .4-.4 .4-1.8 .4-2.1 .4-.7 .4-1.2 .4-1.1 .4-.9 .4-1.3 .4-.8 .4-.6 .4-1 .4-.6 .4-1.8 .4 1 .4-.7 .4-.7 .4 .3 .4 .1 .4 .3 .4-.1 .4 .4 .4 .6 .4 .3 .4 .3 .4 1 .4 .6 .4 1.1 .4 .4 .4 1.8 .4-1.1 .4 3 .4 1.5 .4 1.3 .4 2.1 .4 .4 .4 2.5 .4 1.3 .4 2 .4 1.6 .4 2.1 .4 1.5 .4 2.4 .4 1.8 .4 1.9 .4 1.8 .4 2.3 .4 1.5 .4 2.4 .4 1.2 .4 2.6 .4 2.1 .4 2 .4 1.5 .4 2.3 .4 1.7 .4 1.6 .4 1.8 .4 1.8 .4 1.3 .4 1.9 .4 1.4 .4 .8 .4 1.1 .4 1.9 .4 1.4 .4 1.1 .4 .9 .4 1.1 .4 .9 .4 .3 .4 .9 .4-.5 .4 1.4 .4 .5 .4-.3 .4 .5 .4-.3 .4 .2 .4-.3 .4-.6 0 2.5-.4-.5-.4 .7-.4 .1-.4-.1-.4-.2-.4 1.6-.4-2.2-.4 .4-.4 .6-.4-1.6-.4-1.7-.4-.8-.4 0-.4-1.8-.4-1-.4-1.5-.4-.1-.4-2.5-.4-1.4-.4-1.3-.4-.9-.4-2.4-.4-1.1-.4-2.3-.4-1.6-.4-2.1-.4-1.5-.4-2.1-.4-1.8-.4-2.2-.4-1.9-.4-2.1-.4-1.9-.4-2-.4-1.2-.4-2.5-.4-1.5-.4-2.4-.4-2-.4-1.6-.4-2-.4-1.9-.4-1.7-.4-1.6-.4-1.5-.4-1.7-.4-1.7-.4-1.2-.4-1.4-.4-1.1-.4-1.5-.4-.4-.4-1.5-.4-.6-.4-1.2-.4 .3-.4-.9-.4-1.2-.4-.2-.4 .4-.4-1-.4 .1-.4 .4-.4-.4-.4 .1-.4 .9-.4 .4-.4 .3-.4 .5-.4 1-.4 3.5-.4-1.9-.4 1.5-.4 .6-.4 1.3-.4 1.5-.4 1.1-.4 3.9-.4-.7-.4 1.6-.4 1.5-.4 1.8-.4 1.9-.4 2.3-.4 2-.4 .7-.4 3-.4 1.3-.4 2.6-.4 1.2-.4 2-.4 2.1-.4 2.1-.4 1.8-.4 2.1-.4 1.9-.4 1.5-.4 1.8-.4 2.1-.4 1.7-.4 2.1-.4 2.2-.4 .7-.4 2.1-.4 1.3-.4 1.4-.4 1.7-.4 1.3-.4 .9-.4 1.1-.4 1.7-.4 .3-.4 1.2-.4 1.6-.4-.1-.4 .1-.4 .5-.4 3.5-.4-.6-.4-2.3-.4 .7-.4-.5-.4 .2-.4 .1-.4-.5-.4-1.1-.4-.1-.4-1.4-.4 .2-.4-1.4-.4-1.3-.4-.5-.4-1.9-.4-.1-.4-2.1-.4-1.8-.4 .1-.4-2.5-.4-.2-.4-3-.4-1.8-.4-2.2-.4-1.8-.4-1.5-.4 0-.4-3.8-.4-2.4-.4-1.7-.4-2-.4-1.7-.4-2.1-.4-.9-.4-3.3-.4-2.2-.4-1.8-.4-1.8-.4-1.5-.4-2.2-.4-1.9-.4-1-.4-1.7-.4-2.2-.4-1.4-.4-1.3-.4-1.5-.4-1.7-.4-.8-.4-1.2-.4-1-.4-1.3-.4-1.3-.4-.6-.4 .3-.4-1.8-.4-.3-.4-.8-.4 0-.4-.1-.4-.2-.4-.2-.4 .4-.4-.2-.4 .4-.4 .6-.4 .7-.4 .1-.4 .8-.4 1-.4 .8-.4 1.2-.4 1.8-.4 .6-.4 1.6-.4 .7-.4 1.7-.4 2-.4 1.1-.4 1.6-.4 2.6-.4 .9-.4 1.4-.4 1.9-.4 2-.4 4-.4 .4-.4 1.4-.4 3.3-.4 .4-.4 2-.4 2.9-.4 1.6-.4 2.2-.4 1.6-.4 1.8-.4 1.6-.4 2.2-.4 1.8-.4 2.4-.4 1.2-.4 2.2-.4 .8-.4 1.8-.4 2-.4 .5-.4 1.4-.4 2-.4 .4-.4 1.5-.4 .7-.4 .6-.4 1.5-.4 .3-.4 1.6-.4 .4-.4-.4-.4 .1-.4 .7-.4-.2-.4-.2-.4-.4-.4-.4-.4-.4-.4 0-.4-.5-.4-.8-.4-.9-.4-1.1-.4-.9-.4-1.1-.4-.3-.4-1.4-.4-1.8-.4-.4-.4-2.5-.4-1.1-.4-2.1-.4-1.5-.4-1.3-.4-1.7-.4-2.4-.4-1.8-.4-1.3-.4-1.9-.4-2.6-.4-1.8-.4-1.8-.4-1.9-.4-2.3-.4-2-.4-1.6-.4-2.2-.4-1.8-.4-1.8-.4-2.1-.4-1.7-.4-2-.4-1.9-.4-1.2-.4-2-.4-1.6-.4-.8-.4-2.3-.4 2.1-.4-4.3-.4-1.6-.4-1-.4-1-.4-.9-.4-.9-.4-.9-.4 .1-.4-.9-.4-.9-.4-.2-.4-.3-.4 .3-.4-.2-.4 .4-.4-.4-.4 1.3-.4-.2-.4 .3-.4 .6-.4 .4-.4 1-.4 3.1-.4-.8-.4 .5-.4 1.4-.4 1.9-.4 .8-.4 1.1-.4 1.6-.4 2-.4 1.1-.4 2.3-.4 .9-.4 2-.4 1.7-.4 1.8-.4 1.9-.4 2.6-.4 1.3-.4 3.1-.4 1.6-.4 1.2-.4 2.4-.4 2.5-.4 1.2-.4 2.3-.4 1.6-.4 1.8-.4 2-.4 1.7-.4 1.9-.4 1.9-.4 1.4-.4 1.8-.4 1.9-.4 1.2-.4 1.1-.4 1.3-.4 1.4-.4 1.9-.4 .4-.4 1.4-.4 1.4-.4 .1-.4 1.4-.4-.2-.4 .9-.4 .1-.4 .8-.4-.1-.4 1.4-.4-1.3-.4 .1-.4-.6-.4 .3-.4-.7-.4-.4-.4-1.2-.4 .1-.4 .5-.4-3.3-.4-.8-.4-1-.4-.9-.4-.9-.4-2.5-.4-1.3-.4-1.1-.4-1.6-.4-1.8-.4-1.2-.4-2.3-.4-1.8-.4-1.4-.4-1.8-.4-2.2-.4-2.4-.4-1.9-.4-2-.4-1.1-.4-2.1-.4-2.3-.4-2.3-.4-1.2-.4-1.8-.4-2.6-.4-2-.4-1.5-.4-2.4-.4-1.1-.4-2-.4-1.7-.4-1.5-.4-1.9-.4-1.2-.4-1.4-.4-1.1-.4-1.7-.4-1-.4 0-.4-1.3-.4-1.8-.4-.4-.4-.9-.4-.4-.4-.5-.4-.6-.4 .1-.4-.4-.4-.3-.4 .5-.4-.2-.4 .3-.4 .9-.4 1.1-.4 .3-.4 .3-.4 .5-.4 1.1-.4 .5-.4 1.7-.4 1.2-.4 .8-.4 1-.4 2-.4 1.8-.4 .9-.4 1.5-.4 1.5-.4 2.9-.4 1.1-.4 1.5-.4 1.6-.4 2.1-.4 2.4-.4 2.1-.4 1.9-.4 1.3-.4 1.9-.4 1.9-.4 2.3-.4 2.1-.4 2.1-.4 1.5-.4 4.5-.4-.6-.4 1.8-.4 2.3-.4 1.4-.4 1.9-.4 1.6-.4 1.2-.4 1.6-.4 1.6-.4 1.3-.4 4-.4-1.6-.4 1.7-.4 .4-.4 1-.4 1-.4 .4-.4 .7-.4 .3-.4 1-.4 1.2-.4 .1-.4-1-.4-.2-.4 .5-.4-.1-.4-1-.4 .1-.4-1-.4 .5-.4-1.6-.4-.1-.4-1-.4-1.4-.4-.9-.4-1.3-.4-1.3-.4-1.5-.4-.9-.4-1.7-.4-1.7-.4-1.2-.4-2.3-.4-1.7-.4-2-.4-1.8-.4-1.5-.4-2.2-.4-.4-.4-2.9-.4-2.8-.4-1.7-.4-1.9-.4-2.2-.4-1.5-.4-2.4-.4-1.9-.4-1.9-.4-1-.4-2.7-.4-1.8-.4-2-.4-1.6-.4-1.6-.4-1.5-.4-1.9-.4-.9-.4-1.8-.4-1.2-.4-1.5-.4-.9-.4-.4-.4-1.9-.4-.8-.4-1-.4 .1-.4-.9-.4-.6-.4-.8-.4 .5-.4-.6-.4-.3-.4-.2-.4 .2-.4 .4-.4 .2-.4 .9-.4 .7-.4 .4-.4 .3-.4 1.7-.4 .2-.4 1.3-.4 2.2-.4 .1-.4 1.4-.4 1.4-.4 1.1-.4 2.3-.4 .8-.4 2.2-.4 2.5-.4 1.2-.4 .9-.4 2.4-.4 1.7-.4 1.8-.4 2.1-.4 1.6-.4 2.2-.4 1.9-.4 2.1-.4 2.2-.4 1.5-.4 2-.4 2-.4 2.1-.4 1.6-.4 1.8-.4 2.2-.4 1.8-.4 2.3-.4 1.4-.4 1.2-.4 1.7-.4 1-.4 1.7-.4 1.1-.4 1-.4 1.1-.4 1.6-.4 1.1-.4 .5-.4 .6-.4 .5-.4 .9-.4 .2-.4 .5-.4 .3-.4 .1-.4 .3-.4-.2-.4-.2-.4-.4-.4-.1-.4-.9-.4-.5-.4-.7-.4-.3-.4-1.5-.4-.1-.4-1.2-.4-1.4-.4-1.6-.4-1.2-.4-1.1-.4-1.9-.4-1.6-.4-1.3z" fill="#1f9f1f" opacity="0.85"/>
<path d="M302 290.1l.4 1.6 .4 1.5 .4 1.5 .4 1.4 .4 1.3 .4 1.3 .4 1.1 .4 1.1 .4 1 .4 .8 .4 .8 .4 .7 .4 .6 .4 .5 .4 .4 .4 .3 .4 .1 .4 .1 .4 0 .4-.2 .4-.2 .4-.4 .4-.5 .4-.5 .4-.7 .4-.7 .4-.9 .4-1 .4-1 .4-1.1 .4-1.3 .4-1.3 .4-1.3 .4-1.5 .4-1.5 .4-1.6 .4-1.7 .4-1.7 .4-1.7 .4-1.8 .4-1.9 .4-1.9 .4-1.9 .4-1.9 .4-2 .4-2 .4-1.9 .4-2 .4-2 .4-2 .4-1.9 .4-2 .4-1.9 .4-1.8 .4-1.9 .4-1.8 .4-1.7 .4-1.7 .4-1.7 .4-1.6 .4-1.5 .4-1.4 .4-1.4 .4-1.3 .4-1.2 .4-1.1 .4-1.1 .4-.9 .4-.9 .4-.7 .4-.7 .4-.5 .4-.5 .4-.3 .4-.2 .4-.2 .4 0 .4 .1 .4 .2 .4 .3 .4 .4 .4 .5 .4 .6 .4 .7 .4 .8 .4 .9 .4 .9 .4 1.1 .4 1.2 .4 1.2 .4 1.4 .4 1.4 .4 1.5 .4 1.5 .4 1.6 .4 1.7 .4 1.7 .4 1.8 .4 1.8 .4 1.9 .4 1.9 .4 1.9 .4 2 .4 1.9 .4 2 .4 2 .4 2 .4 1.9 .4 2 .4 1.9 .4 2 .4 1.9 .4 1.8 .4 1.9 .4 1.8 .4 1.7 .4 1.7 .4 1.6 .4 1.5 .4 1.5 .4 1.5 .4 1.3 .4 1.3 .4 1.1 .4 1.1 .4 1 .4 .9 .4 .8 .4 .8 .4 .6 .4 .5 .4 .4 .4 .3 .4 .2 .4 .1 .4 0 .4-.1 .4-.3 .4-.3 .4-.4 .4-.6 .4-.6 .4-.7 .4-.9 .4-.9 .4-1 .4-1.2 .4-1.1 .4-1.3 .4-1.4 .4-1.4 .4-1.5 .4-1.6 .4-1.6 .4-1.7 .4-1.8 .4-1.8 .4-1.8 .4-1.9 .4-1.9 .4-1.9 .4-2 .4-2 .4-1.9 .4-2 .4-2 .4-2 .4-1.9 .4-2 .4-1.9 .4-1.9 .4-1.8 .4-1.8 .4-1.8 .4-1.7 .4-1.7 .4-1.6 .4-1.5 .4-1.5 .4-1.4 .4-1.3 .4-1.2 .4-1.2 .4-1 .4-1 .4-.9 .4-.7 .4-.7 .4-.6 .4-.5 .4-.3 .4-.3 .4-.1 .4-.1 .4 .1 .4 .1 .4 .3 .4 .3 .4 .5 .4 .6 .4 .7 .4 .7 .4 .9 .4 1 .4 1 .4 1.2 .4 1.2 .4 1.3 .4 1.4 .4 1.5 .4 1.5 .4 1.6 .4 1.7 .4 1.7 .4 1.8 .4 1.8 .4 1.8 .4 1.9 .4 1.9 .4 2 .4 1.9 .4 2 .4 2 .4 2 .4 1.9 .4 2 .4 2 .4 1.9 .4 1.9 .4 1.9 .4 1.8 .4 1.8 .4 1.8 .4 1.7 .4 1.6 .4 1.6 .4 1.5 .4 1.4 .4 1.4 .4 1.3 .4 1.1 .4 1.2 .4 1 .4 .9 .4 .9 .4 .7 .4 .6 .4 .6 .4 .4 .4 .3 .4 .3 .4 .1 .4 0 .4-.1 .4-.2 .4-.3 .4-.4 .4-.5 .4-.6 .4-.8 .4-.8 .4-.9 .4-1 .4-1.1 .4-1.1 .4-1.3 .4-1.3 .4-1.5 .4-1.5 .4-1.5 .4-1.6 .4-1.7 .4-1.7 .4-1.8 .4-1.9 .4-1.8 .4-1.9 .4-2 .4-1.9 .4-2 .4-1.9 .4-2 .4-2 .4-2 .4-1.9 .4-2 .4-1.9 .4-1.9 .4-1.9 .4-1.8 .4-1.8 .4-1.7 .4-1.7 .4-1.6 .4-1.5 .4-1.5 .4-1.4 .4-1.4 .4-1.2 .4-1.2 .4-1.1 .4-.9 .4-.9 .4-.8 .4-.7 .4-.6 .4-.5 .4-.4 .4-.3 .4-.2 .4-.1 .4 0 .4 .2 .4 .2 .4 .3 .4 .5 .4 .5 .4 .7 .4 .7 .4 .9 .4 .9 .4 1.1 .4 1.1 .4 1.2 .4 1.3 .4 1.4 .4 1.4 .4 1.5 .4 1.6 .4 1.7 .4 1.7 .4 1.7 .4 1.8 .4 1.9 .4 1.8 .4 1.9 .4 2 .4 1.9 .4 2 .4 2 .4 2 .4 1.9 .4 2 .4 2 .4 1.9 .4 1.9 .4 1.9 .4 1.9 .4 1.8 .4 1.7 .4 1.7 .4 1.7 .4 1.6 .4 1.5 .4 1.5 .4 1.3 .4 1.3 .4 1.3 .4 1.1 .4 1 .4 1 .4 .9 .4 .7 .4 .7 .4 .5 .4 .5 .4 .4 .4 .2 .4 .2 .4 0 .4-.1 .4-.1 .4-.3 .4-.4 .4-.5 .4-.6 .4-.7 .4-.8 .4-.8 .4-1 .4-1.1 .4-1.1 .4-1.3 .4-1.3 .4-1.4 .4-1.5 .4-1.5 .4-1.6 .4-1.7 .4-1.7 .4-1.8 .4-1.8 .4-1.9 .4-1.8 .4-2 .4-1.9 .4-2 .4-1.9 .4-2 .4-2 .4-2 .4-2 .4-1.9 .4-1.9 .4-1.9 .4-1.9 .4-1.8 .4-1.8 .4-1.8 .4-1.7 .4-1.6 .4-1.6 .4-1.5 .4-1.4 .4-1.3 .4-1.3 .4-1.2 .4-1.1 .4-1 .4-.9 .4-.9 .4-.7 .4-.6 .4-.5 .4-.5 .4-.3 .4-.2 .4-.1 .4 0 .4 .1 .4 .2 .4 .3 .4 .5 .4 .5 .4 .6 .4 .7 .4 .9 .4 .9 .4 1 .4 1.1 .4 1.2 .4 1.3 .4 1.3 .4 1.4 .4 1.5 .4 1.6 .4 1.6 .4 1.7 .4 1.8 .4 1.8 .4 1.8 .4 1.9 .4 1.9 .4 1.9 .4 1.9 .4 2 .4 2 .4 2 .4 2 .4 1.9 .4 2 .4 1.9 .4 2 .4 1.8 .4 1.9 .4 1.8 .4 1.8 .4 1.7 .4 1.7 .4 1.6 .4 1.5 .4 1.5 .4 1.4 .4 1.3 .4 1.3 .4 1.1 .4 1.1 .4 1 .4 .8 .4 .8 .4 .7 .4 .6 .4 .5 .4 .4 .4 .3 .4 .1 .4 .1 .4 0 .4-.2 .4-.2 .4-.4 .4-.5 .4-.5 .4-.7 .4-.7 .4-.9 .4-1 .4-1 .4-1.1 .4-1.3 .4-1.3 .4-1.3 .4-1.5 .4-1.5 .4-1.6 .4-1.7 .4-1.7 .4-1.7 .4-1.8 .4-1.9 .4-1.9 .4-1.9 .4-1.9 .4-2 .4-2 .4-1.9 .4-2 .4-2 .4-2 .4-1.9 .4-2 .4-1.9 .4-1.8 .4-1.9 .4-1.8 .4-1.7 .4-1.7 .4-1.7 .4-1.6 .4-1.5 .4-1.4 .4-1.4 .4-1.3 .4-1.2 .4-1.1 .4-1.1 .4-.9 .4-.9 .4-.7 .4-.7 .4-.5 .4-.5 .4-.3 .4-.2 .4-.2 .4 0 .4 .1 .4 .2 .4 .3 .4 .4 .4 .5 .4 .6 .4 .7 .4 .8 .4 .9 .4 .9 .4 1.1 .4 1.2 .4 1.2 .4 1.4 .4 1.4 .4 1.5 .4 1.5 .4 1.6 .4 1.7 .4 1.7 .4 1.8 .4 1.8 .4 1.9 .4 1.9 .4 1.9 .4 2 .4 1.9 .4 2 .4 2 .4 2 .4 1.9 .4 2 .4 1.9 .4 2 .4 1.9 .4 1.8 .4 1.9 .4 1.8 .4 1.7 .4 1.7 .4 1.6 .4 1.5 .4 1.5 .4 1.5 .4 1.3 .4 1.3 .4 1.1 .4 1.1 .4 1 .4 .9 .4 .8 .4 .8 .4 .6 .4 .5 .4 .4 .4 .3 .4 .2 .4 .1 .4 0 .4-.1 .4-.3 .4-.3" fill="none" stroke="#1f9f1f" stroke-width="1.35" stroke-linejoin="round" stroke-linecap="round" opacity="0.85" />
<g opacity="0.8"><text x="296.6" y="272.4" fill="#22a022" font-family="Liberation Sans, Arial, sans-serif" font-size="5.2" opacity="0.75">2</text><path d="M298.6 266.6 L301.2 268.2 L298.6 269.8 Z" fill="#22a022"/></g>
<g opacity="0.8"><text x="296.6" y="271.6" fill="#e88a10" font-family="Liberation Sans, Arial, sans-serif" font-size="5.2" opacity="0.75">1</text><path d="M298.6 265.8 L301.2 267.4 L298.6 269 Z" fill="#e88a10"/><path d="M298.2 260.9 h2.6 M299.5 260.9 v3" stroke="#e88a10" stroke-width="0.7" fill="none" opacity="0.7"/></g>
<g opacity="0.8"><text x="296.6" y="354.6" fill="#4a5ac0" font-family="Liberation Sans, Arial, sans-serif" font-size="5.2" opacity="0.75">3</text><path d="M298.6 348.8 L301.2 350.4 L298.6 352 Z" fill="#4a5ac0"/></g>
<line x1="301.5" y1="207.5" x2="301.5" y2="370.4" stroke="#c07a40" stroke-width="1.1" stroke-dasharray="1 1"/>
<line x1="295.3" y1="207.5" x2="546" y2="207.5" stroke="#a8a8a8" stroke-width="1.7"/>
<rect x="295.3" y="197.5" width="250.7" height="172.9" fill="none" stroke="#3a3a3a" stroke-width="1.2"/>
<path d="M422.1 206.7 L426.1 206.7 L424.1 209.3 Z" fill="#e88010"/>
<rect x="513" y="199.6" width="30.5" height="6.6" rx="1.2" fill="#e6e6e6" stroke="#b0b0b0" stroke-width="0.6"/>
<text x="297.8" y="205.2" fill="#f0a040" font-family="Liberation Sans, Arial, sans-serif" font-size="6.6">1</text>
<text x="305.8" y="205.2" fill="#4a4a4a" font-family="Liberation Sans, Arial, sans-serif" font-size="6.6" textLength="16" lengthAdjust="spacingAndGlyphs">5.00A/</text>
<text x="329.1" y="205.2" fill="#40c040" font-family="Liberation Sans, Arial, sans-serif" font-size="6.6">2</text>
<text x="337.8" y="205.2" fill="#4a4a4a" font-family="Liberation Sans, Arial, sans-serif" font-size="6.6" textLength="16" lengthAdjust="spacingAndGlyphs">50.0V/</text>
<text x="361.1" y="205.2" fill="#4060e0" font-family="Liberation Sans, Arial, sans-serif" font-size="6.6">3</text>
<text x="370.1" y="205.2" fill="#4a4a4a" font-family="Liberation Sans, Arial, sans-serif" font-size="6.6" textLength="15.3" lengthAdjust="spacingAndGlyphs">200V/</text>
<text x="393.4" y="205.2" fill="#ee44aa" font-family="Liberation Sans, Arial, sans-serif" font-size="6.6">4</text>
<text x="460" y="205.2" fill="#4a4a4a" font-family="Liberation Sans, Arial, sans-serif" font-size="6.6" textLength="9" lengthAdjust="spacingAndGlyphs">0.0s</text>
<text x="487" y="205.2" fill="#4a4a4a" font-family="Liberation Sans, Arial, sans-serif" font-size="6.6" textLength="19" lengthAdjust="spacingAndGlyphs">10.40ms/</text>
<text x="521" y="205.2" fill="#4a4a4a" font-family="Liberation Sans, Arial, sans-serif" font-size="6.6" textLength="14" lengthAdjust="spacingAndGlyphs">Auto?</text>
<text x="438.5" y="239" font-family="Liberation Serif, Times New Roman, serif" fill="#1e1e1e" font-size="11.3">V</text>
<text x="445.6" y="240.4" font-family="Liberation Serif, Times New Roman, serif" fill="#1e1e1e" fill-opacity="0.85" font-size="7.3" textLength="6.3" lengthAdjust="spacingAndGlyphs">sa</text>
<text x="452.6" y="239" font-family="Liberation Serif, Times New Roman, serif" fill="#1e1e1e" font-size="11.3" textLength="15.2" lengthAdjust="spacingAndGlyphs">(V)</text>
<line x1="448.3" y1="244.2" x2="439.7" y2="254.3" stroke="#111" stroke-width="1.25"/>
<path d="M436.5 258 L438.1 252.3 L441.9 255.5 Z" fill="#111"/>
<text x="484.3" y="238.4" font-family="Liberation Serif, Times New Roman, serif" fill="#1e1e1e" stroke="#1e1e1e" stroke-width="0.25" font-size="11.3">I</text>
<text x="487.3" y="240.2" font-family="Liberation Serif, Times New Roman, serif" fill="#1e1e1e" fill-opacity="0.85" font-size="7.3" textLength="6.4" lengthAdjust="spacingAndGlyphs">sa</text>
<text x="494.3" y="238.4" font-family="Liberation Serif, Times New Roman, serif" fill="#1e1e1e" font-size="11.3" textLength="15" lengthAdjust="spacingAndGlyphs">(A)</text>
<line x1="484.8" y1="247" x2="476.2" y2="256.5" stroke="#111" stroke-width="1.25"/>
<path d="M472.9 260.1 L474.7 254.4 L478.4 257.8 Z" fill="#111"/>
<text x="422.4" y="352.6" fill="#222" font-family="Liberation Serif, Times New Roman, serif" font-size="11.5" textLength="74.2" lengthAdjust="spacingAndGlyphs">DC-link Voltage,</text>
<text x="502.5" y="352.6" font-family="Liberation Serif, Times New Roman, serif" fill="#1e1e1e" font-size="11.3">V</text>
<text x="509.6" y="354" font-family="Liberation Serif, Times New Roman, serif" fill="#1e1e1e" fill-opacity="0.85" font-size="7.3" textLength="7.2" lengthAdjust="spacingAndGlyphs">dc</text>
<text x="517.3" y="352.6" font-family="Liberation Serif, Times New Roman, serif" fill="#1e1e1e" font-size="11.3" textLength="14.8" lengthAdjust="spacingAndGlyphs">(V)</text>
<line x1="441.5" y1="342.9" x2="434.1" y2="335.5" stroke="#111" stroke-width="1.25"/>
<path d="M430.6 332 L436.2 334.1 L432.7 337.6 Z" fill="#111"/>
<text x="133.5" y="189.6" text-anchor="middle" fill="#111" font-family="Liberation Serif, Times New Roman, serif" font-weight="bold" font-size="10.5">(a)</text>
<text x="420.8" y="189.6" text-anchor="middle" fill="#111" font-family="Liberation Serif, Times New Roman, serif" font-weight="bold" font-size="10.5">(b)</text>
<text x="133.6" y="387.8" text-anchor="middle" fill="#111" font-family="Liberation Serif, Times New Roman, serif" font-weight="bold" font-size="10.5">(c)</text>
<text x="420.9" y="387.6" text-anchor="middle" fill="#111" font-family="Liberation Serif, Times New Roman, serif" font-weight="bold" font-size="10.5">(d)</text>
</svg>
</body></html>
